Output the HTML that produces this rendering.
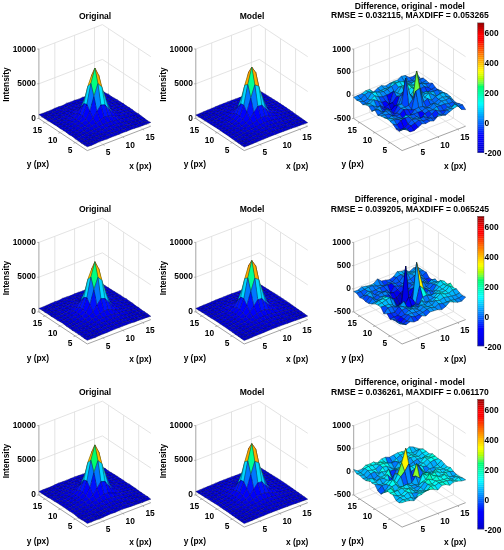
<!DOCTYPE html>
<html><head><meta charset="utf-8"><title>Figure</title>
<style>html,body{margin:0;padding:0;background:#fff;overflow:hidden}svg{display:block;filter:blur(0.3px)}</style>
</head><body>
<svg width="504" height="550" viewBox="0 0 504 550" font-family="'Liberation Sans', sans-serif" font-weight="bold" fill="#000">
<rect width="504" height="550" fill="#fff"/>
<g stroke="#dcdcdc" stroke-width="0.8">
<line x1="103.2" y1="144.5" x2="54.8" y2="112.4"/>
<line x1="54.8" y1="112.4" x2="54.8" y2="43"/>
<line x1="123" y1="136.9" x2="74.6" y2="104.8"/>
<line x1="74.6" y1="104.8" x2="74.6" y2="35.3"/>
<line x1="142.9" y1="129.2" x2="94.5" y2="97.2"/>
<line x1="94.5" y1="97.2" x2="94.5" y2="27.7"/>
<line x1="75.2" y1="142.6" x2="138.7" y2="118.2"/>
<line x1="138.7" y1="118.2" x2="138.7" y2="48.7"/>
<line x1="60.1" y1="132.5" x2="123.6" y2="108.1"/>
<line x1="123.6" y1="108.1" x2="123.6" y2="38.7"/>
<line x1="44.9" y1="122.5" x2="108.5" y2="98.1"/>
<line x1="108.5" y1="98.1" x2="108.5" y2="28.7"/>
<line x1="38.9" y1="118.5" x2="102.4" y2="94.1"/>
<line x1="102.4" y1="94.1" x2="150.8" y2="126.2"/>
<line x1="38.9" y1="83.8" x2="102.4" y2="59.4"/>
<line x1="102.4" y1="59.4" x2="150.8" y2="91.5"/>
<line x1="38.9" y1="49" x2="102.4" y2="24.6"/>
<line x1="102.4" y1="24.6" x2="150.8" y2="56.7"/>
</g>
<g stroke="#9a9a9a" stroke-width="0.9">
<line x1="38.9" y1="118.5" x2="38.9" y2="49"/>
<line x1="38.9" y1="118.5" x2="87.3" y2="150.6"/>
<line x1="87.3" y1="150.6" x2="150.8" y2="126.2"/>
<line x1="38.9" y1="118.5" x2="37.4" y2="118.5"/>
<line x1="38.9" y1="83.8" x2="37.4" y2="83.8"/>
<line x1="38.9" y1="49" x2="37.4" y2="49"/>
<line x1="75.2" y1="142.6" x2="73.6" y2="143.2"/>
<line x1="60.1" y1="132.5" x2="58.5" y2="133.1"/>
<line x1="44.9" y1="122.5" x2="43.3" y2="123.1"/>
<line x1="103.2" y1="144.5" x2="104.4" y2="145.5"/>
<line x1="123" y1="136.9" x2="124.2" y2="137.9"/>
<line x1="142.9" y1="129.2" x2="144.1" y2="130.2"/>
</g>
<text x="36" y="120.5" text-anchor="end" font-size="8.4">0</text>
<text x="36" y="85.8" text-anchor="end" font-size="8.4">5000</text>
<text x="36" y="51.8" text-anchor="end" font-size="8.4">10000</text>
<text x="72.4" y="152.9" text-anchor="end" font-size="8.4">5</text>
<text x="57.3" y="142.8" text-anchor="end" font-size="8.4">10</text>
<text x="42.1" y="132.8" text-anchor="end" font-size="8.4">15</text>
<text x="105.7" y="155.1" text-anchor="start" font-size="8.4">5</text>
<text x="125.5" y="147.5" text-anchor="start" font-size="8.4">10</text>
<text x="145.4" y="139.8" text-anchor="start" font-size="8.4">15</text>
<text x="37.9" y="167.1" text-anchor="middle" font-size="8.4">y (px)</text>
<text x="140.3" y="168.8" text-anchor="middle" font-size="8.4">x (px)</text>
<text transform="translate(8.7 84.6) rotate(-90)" text-anchor="middle" font-size="8.4">Intensity</text>
<text x="95.1" y="18.9" text-anchor="middle" font-size="8.55">Original</text>
<g stroke-width="0.42" stroke-linejoin="round">
<polygon points="101.5,93.8 105.4,93 102.4,90.4 98.4,91.8" fill="#0000d6" stroke="#000056"/>
<polygon points="97.5,95.2 101.5,93.8 98.4,91.8 94.5,93.6" fill="#0000d6" stroke="#000056"/>
<polygon points="104.5,95.8 108.5,94.2 105.4,93 101.5,93.8" fill="#0000d6" stroke="#000056"/>
<polygon points="93.5,96.6 97.5,95.2 94.5,93.6 90.5,94.7" fill="#0000d6" stroke="#000056"/>
<polygon points="100.5,97 104.5,95.8 101.5,93.8 97.5,95.2" fill="#0000d6" stroke="#000056"/>
<polygon points="107.5,97.3 111.5,96.6 108.5,94.2 104.5,95.8" fill="#0000d6" stroke="#000056"/>
<polygon points="89.6,97.9 93.5,96.6 90.5,94.7 86.5,96.2" fill="#0000d6" stroke="#000056"/>
<polygon points="96.5,98.4 100.5,97 97.5,95.2 93.5,96.6" fill="#0000d6" stroke="#000056"/>
<polygon points="103.5,98.6 107.5,97.3 104.5,95.8 100.5,97" fill="#0000d6" stroke="#000056"/>
<polygon points="110.5,99.4 114.5,98.3 111.5,96.6 107.5,97.3" fill="#0000d6" stroke="#000056"/>
<polygon points="85.6,99.2 89.6,97.9 86.5,96.2 82.6,97.3" fill="#0000d6" stroke="#000056"/>
<polygon points="92.6,99.5 96.5,98.4 93.5,96.6 89.6,97.9" fill="#0000df" stroke="#000059"/>
<polygon points="99.6,100.2 103.5,98.6 100.5,97 96.5,98.4" fill="#0000d6" stroke="#000056"/>
<polygon points="106.6,100.1 110.5,99.4 107.5,97.3 103.5,98.6" fill="#0000df" stroke="#000059"/>
<polygon points="81.6,100.6 85.6,99.2 82.6,97.3 78.6,99.2" fill="#0000d6" stroke="#000056"/>
<polygon points="113.6,101 117.5,99.9 114.5,98.3 110.5,99.4" fill="#0000df" stroke="#000059"/>
<polygon points="88.6,101.1 92.6,99.5 89.6,97.9 85.6,99.2" fill="#0000df" stroke="#000059"/>
<polygon points="95.6,101 99.6,100.2 96.5,98.4 92.6,99.5" fill="#0000df" stroke="#000059"/>
<polygon points="102.6,101.5 106.6,100.1 103.5,98.6 99.6,100.2" fill="#0000df" stroke="#000059"/>
<polygon points="77.6,102.4 81.6,100.6 78.6,99.2 74.6,100.3" fill="#0000d6" stroke="#000056"/>
<polygon points="109.6,102.3 113.6,101 110.5,99.4 106.6,100.1" fill="#0000df" stroke="#000059"/>
<polygon points="84.6,102.2 88.6,101.1 85.6,99.2 81.6,100.6" fill="#0000df" stroke="#000059"/>
<polygon points="116.6,103.3 120.6,102.1 117.5,99.9 113.6,101" fill="#0000d6" stroke="#000056"/>
<polygon points="91.6,102.3 95.6,101 92.6,99.5 88.6,101.1" fill="#0000df" stroke="#000059"/>
<polygon points="98.6,102.5 102.6,101.5 99.6,100.2 95.6,101" fill="#0000e7" stroke="#00005c"/>
<polygon points="73.7,103.6 77.6,102.4 74.6,100.3 70.7,102" fill="#0000df" stroke="#000059"/>
<polygon points="105.6,103.2 109.6,102.3 106.6,100.1 102.6,101.5" fill="#0000e7" stroke="#00005c"/>
<polygon points="80.7,103.3 84.6,102.2 81.6,100.6 77.6,102.4" fill="#0000e7" stroke="#00005c"/>
<polygon points="112.6,103.9 116.6,103.3 113.6,101 109.6,102.3" fill="#0000df" stroke="#000059"/>
<polygon points="87.7,103.4 91.6,102.3 88.6,101.1 84.6,102.2" fill="#0000e7" stroke="#00005c"/>
<polygon points="119.6,104.7 123.6,103.8 120.6,102.1 116.6,103.3" fill="#0000df" stroke="#000059"/>
<polygon points="94.7,103.5 98.6,102.5 95.6,101 91.6,102.3" fill="#0000e7" stroke="#00005c"/>
<polygon points="69.7,105.2 73.7,103.6 70.7,102 66.7,103.2" fill="#0000d6" stroke="#000056"/>
<polygon points="101.7,103.7 105.6,103.2 102.6,101.5 98.6,102.5" fill="#0000ee" stroke="#00005f"/>
<polygon points="76.7,104.7 80.7,103.3 77.6,102.4 73.7,103.6" fill="#0000e7" stroke="#00005c"/>
<polygon points="108.6,105.2 112.6,103.9 109.6,102.3 105.6,103.2" fill="#0000e7" stroke="#00005c"/>
<polygon points="83.7,104.8 87.7,103.4 84.6,102.2 80.7,103.3" fill="#0000e7" stroke="#00005c"/>
<polygon points="115.6,106.1 119.6,104.7 116.6,103.3 112.6,103.9" fill="#0000df" stroke="#000059"/>
<polygon points="90.7,104.4 94.7,103.5 91.6,102.3 87.7,103.4" fill="#0000ee" stroke="#00005f"/>
<polygon points="65.7,106.9 69.7,105.2 66.7,103.2 62.7,105.5" fill="#0000d6" stroke="#000056"/>
<polygon points="122.6,106.6 126.6,106 123.6,103.8 119.6,104.7" fill="#0000df" stroke="#000059"/>
<polygon points="97.7,104 101.7,103.7 98.6,102.5 94.7,103.5" fill="#0000f5" stroke="#000062"/>
<polygon points="72.7,106.8 76.7,104.7 73.7,103.6 69.7,105.2" fill="#0000df" stroke="#000059"/>
<polygon points="104.7,105.4 108.6,105.2 105.6,103.2 101.7,103.7" fill="#0000ee" stroke="#00005f"/>
<polygon points="79.7,106.1 83.7,104.8 80.7,103.3 76.7,104.7" fill="#0000e7" stroke="#00005c"/>
<polygon points="111.7,106.7 115.6,106.1 112.6,103.9 108.6,105.2" fill="#0000e7" stroke="#00005c"/>
<polygon points="86.7,105.3 90.7,104.4 87.7,103.4 83.7,104.8" fill="#0000f5" stroke="#000062"/>
<polygon points="61.8,108.7 65.7,106.9 62.7,105.5 58.7,106.8" fill="#0000d6" stroke="#000056"/>
<polygon points="118.7,107.8 122.6,106.6 119.6,104.7 115.6,106.1" fill="#0000df" stroke="#000059"/>
<polygon points="93.7,104.3 97.7,104 94.7,103.5 90.7,104.4" fill="#0000ff" stroke="#000066"/>
<polygon points="68.8,108.3 72.7,106.8 69.7,105.2 65.7,106.9" fill="#0000df" stroke="#000059"/>
<polygon points="125.7,109.1 129.6,107.8 126.6,106 122.6,106.6" fill="#0000d6" stroke="#000056"/>
<polygon points="100.7,105.2 104.7,105.4 101.7,103.7 97.7,104" fill="#0000fb" stroke="#000064"/>
<polygon points="75.8,107.8 79.7,106.1 76.7,104.7 72.7,106.8" fill="#0000e7" stroke="#00005c"/>
<polygon points="107.7,106.5 111.7,106.7 108.6,105.2 104.7,105.4" fill="#0000f5" stroke="#000062"/>
<polygon points="82.8,106.3 86.7,105.3 83.7,104.8 79.7,106.1" fill="#0000fb" stroke="#000064"/>
<polygon points="57.8,110.1 61.8,108.7 58.7,106.8 54.8,108.3" fill="#0000d6" stroke="#000056"/>
<polygon points="114.7,108.5 118.7,107.8 115.6,106.1 111.7,106.7" fill="#0000e7" stroke="#00005c"/>
<polygon points="89.7,103.7 93.7,104.3 90.7,104.4 86.7,105.3" fill="#0011ff" stroke="#000766"/>
<polygon points="64.8,110.1 68.8,108.3 65.7,106.9 61.8,108.7" fill="#0000df" stroke="#000059"/>
<polygon points="121.7,109.9 125.7,109.1 122.6,106.6 118.7,107.8" fill="#0000df" stroke="#000059"/>
<polygon points="96.7,102.3 100.7,105.2 97.7,104 93.7,104.3" fill="#0046ff" stroke="#001c66"/>
<polygon points="71.8,109.5 75.8,107.8 72.7,106.8 68.8,108.3" fill="#0000e7" stroke="#00005c"/>
<polygon points="128.7,111.1 132.7,109.9 129.6,107.8 125.7,109.1" fill="#0000d6" stroke="#000056"/>
<polygon points="103.7,105 107.7,106.5 104.7,105.4 100.7,105.2" fill="#0011ff" stroke="#000766"/>
<polygon points="78.8,108.1 82.8,106.3 79.7,106.1 75.8,107.8" fill="#0000f5" stroke="#000062"/>
<polygon points="53.8,112.1 57.8,110.1 54.8,108.3 50.8,110.2" fill="#0000cb" stroke="#000051"/>
<polygon points="110.7,108.6 114.7,108.5 111.7,106.7 107.7,106.5" fill="#0000f5" stroke="#000062"/>
<polygon points="85.8,103.9 89.7,103.7 86.7,105.3 82.8,106.3" fill="#0035ff" stroke="#001566"/>
<polygon points="60.8,111.8 64.8,110.1 61.8,108.7 57.8,110.1" fill="#0000d6" stroke="#000056"/>
<polygon points="117.7,110.7 121.7,109.9 118.7,107.8 114.7,108.5" fill="#0000e7" stroke="#00005c"/>
<polygon points="92.8,96.5 96.7,102.3 93.7,104.3 89.7,103.7" fill="#00c9ff" stroke="#005066"/>
<polygon points="67.8,111.4 71.8,109.5 68.8,108.3 64.8,110.1" fill="#0000e7" stroke="#00005c"/>
<polygon points="124.7,111.9 128.7,111.1 125.7,109.1 121.7,109.9" fill="#0000df" stroke="#000059"/>
<polygon points="99.8,97 103.7,105 100.7,105.2 96.7,102.3" fill="#00c9ff" stroke="#005066"/>
<polygon points="74.8,110.2 78.8,108.1 75.8,107.8 71.8,109.5" fill="#0000f5" stroke="#000062"/>
<polygon points="49.9,113.8 53.8,112.1 50.8,110.2 46.8,111.8" fill="#0000cb" stroke="#000051"/>
<polygon points="131.7,112.9 135.7,112.3 132.7,109.9 128.7,111.1" fill="#0000df" stroke="#000059"/>
<polygon points="106.8,105.2 110.7,108.6 107.7,106.5 103.7,105" fill="#0035ff" stroke="#001566"/>
<polygon points="81.8,106.2 85.8,103.9 82.8,106.3 78.8,108.1" fill="#0023ff" stroke="#000e66"/>
<polygon points="56.9,113.7 60.8,111.8 57.8,110.1 53.8,112.1" fill="#0000d6" stroke="#000056"/>
<polygon points="113.8,110.5 117.7,110.7 114.7,108.5 110.7,108.6" fill="#0000f5" stroke="#000062"/>
<polygon points="88.8,93.3 92.8,96.5 89.7,103.7 85.8,103.9" fill="#00ffd6" stroke="#006656"/>
<polygon points="63.8,113.4 67.8,111.4 64.8,110.1 60.8,111.8" fill="#0000df" stroke="#000059"/>
<polygon points="120.7,112.7 124.7,111.9 121.7,109.9 117.7,110.7" fill="#0000e7" stroke="#00005c"/>
<polygon points="95.8,82.5 99.8,97 96.7,102.3 92.8,96.5" fill="#fff700" stroke="#666300"/>
<polygon points="70.8,112.7 74.8,110.2 71.8,109.5 67.8,111.4" fill="#0000e7" stroke="#00005c"/>
<polygon points="45.9,115.4 49.9,113.8 46.8,111.8 42.9,113.3" fill="#0000cb" stroke="#000051"/>
<polygon points="127.7,114.3 131.7,112.9 128.7,111.1 124.7,111.9" fill="#0000df" stroke="#000059"/>
<polygon points="102.8,94.4 106.8,105.2 103.7,105 99.8,97" fill="#00ffd6" stroke="#006656"/>
<polygon points="77.8,110.3 81.8,106.2 78.8,108.1 74.8,110.2" fill="#0000ff" stroke="#000066"/>
<polygon points="52.9,115.5 56.9,113.7 53.8,112.1 49.9,113.8" fill="#0000d6" stroke="#000056"/>
<polygon points="134.7,115.7 138.7,113.9 135.7,112.3 131.7,112.9" fill="#0000d6" stroke="#000056"/>
<polygon points="109.8,108.3 113.8,110.5 110.7,108.6 106.8,105.2" fill="#0023ff" stroke="#000e66"/>
<polygon points="84.8,98.4 88.8,93.3 85.8,103.9 81.8,106.2" fill="#00e8ff" stroke="#005d66"/>
<polygon points="59.9,115.6 63.8,113.4 60.8,111.8 56.9,113.7" fill="#0000d6" stroke="#000056"/>
<polygon points="116.8,113.3 120.7,112.7 117.7,110.7 113.8,110.5" fill="#0000ee" stroke="#00005f"/>
<polygon points="91.8,74.9 95.8,82.5 92.8,96.5 88.8,93.3" fill="#ff5700" stroke="#662300"/>
<polygon points="66.9,114.8 70.8,112.7 67.8,111.4 63.8,113.4" fill="#0000e7" stroke="#00005c"/>
<polygon points="41.9,116.8 45.9,115.4 42.9,113.3 38.9,114.6" fill="#0000cb" stroke="#000051"/>
<polygon points="123.8,115.3 127.7,114.3 124.7,111.9 120.7,112.7" fill="#0000e7" stroke="#00005c"/>
<polygon points="98.8,75.6 102.8,94.4 99.8,97 95.8,82.5" fill="#ff5700" stroke="#662300"/>
<polygon points="73.9,113.6 77.8,110.3 74.8,110.2 70.8,112.7" fill="#0000f5" stroke="#000062"/>
<polygon points="48.9,117 52.9,115.5 49.9,113.8 45.9,115.4" fill="#0000d6" stroke="#000056"/>
<polygon points="130.8,116.5 134.7,115.7 131.7,112.9 127.7,114.3" fill="#0000df" stroke="#000059"/>
<polygon points="105.8,99.6 109.8,108.3 106.8,105.2 102.8,94.4" fill="#00e8ff" stroke="#005d66"/>
<polygon points="80.9,107.5 84.8,98.4 81.8,106.2 77.8,110.3" fill="#0057ff" stroke="#002366"/>
<polygon points="55.9,117.1 59.9,115.6 56.9,113.7 52.9,115.5" fill="#0000d6" stroke="#000056"/>
<polygon points="137.8,117.9 141.7,116.3 138.7,113.9 134.7,115.7" fill="#0000cb" stroke="#000051"/>
<polygon points="112.8,112.2 116.8,113.3 113.8,110.5 109.8,108.3" fill="#0000ff" stroke="#000066"/>
<polygon points="87.9,86.2 91.8,74.9 88.8,93.3 84.8,98.4" fill="#f4ff00" stroke="#626600"/>
<polygon points="62.9,117.1 66.9,114.8 63.8,113.4 59.9,115.6" fill="#0000df" stroke="#000059"/>
<polygon points="119.8,115.7 123.8,115.3 120.7,112.7 116.8,113.3" fill="#0000ee" stroke="#00005f"/>
<polygon points="94.9,68 98.8,75.6 95.8,82.5 91.8,74.9" fill="#c40000" stroke="#4f0000"/>
<polygon points="69.9,116.2 73.9,113.6 70.8,112.7 66.9,114.8" fill="#0000e7" stroke="#00005c"/>
<polygon points="44.9,118.7 48.9,117 45.9,115.4 41.9,116.8" fill="#0000cb" stroke="#000051"/>
<polygon points="126.8,117.6 130.8,116.5 127.7,114.3 123.8,115.3" fill="#0000df" stroke="#000059"/>
<polygon points="101.8,86.9 105.8,99.6 102.8,94.4 98.8,75.6" fill="#f4ff00" stroke="#626600"/>
<polygon points="76.9,113.8 80.9,107.5 77.8,110.3 73.9,113.6" fill="#0000ff" stroke="#000066"/>
<polygon points="51.9,119 55.9,117.1 52.9,115.5 48.9,117" fill="#0000d6" stroke="#000056"/>
<polygon points="133.8,119 137.8,117.9 134.7,115.7 130.8,116.5" fill="#0000d6" stroke="#000056"/>
<polygon points="108.8,109.4 112.8,112.2 109.8,108.3 105.8,99.6" fill="#0057ff" stroke="#002366"/>
<polygon points="83.9,103.6 87.9,86.2 84.8,98.4 80.9,107.5" fill="#00c9ff" stroke="#005066"/>
<polygon points="58.9,118.9 62.9,117.1 59.9,115.6 55.9,117.1" fill="#0000d6" stroke="#000056"/>
<polygon points="140.8,119.9 144.8,118.6 141.7,116.3 137.8,117.9" fill="#0000d6" stroke="#000056"/>
<polygon points="115.8,116.4 119.8,115.7 116.8,113.3 112.8,112.2" fill="#0000f5" stroke="#000062"/>
<polygon points="90.9,83.5 94.9,68 91.8,74.9 87.9,86.2" fill="#ffb900" stroke="#664a00"/>
<polygon points="65.9,118.8 69.9,116.2 66.9,114.8 62.9,117.1" fill="#0000df" stroke="#000059"/>
<polygon points="122.8,118.9 126.8,117.6 123.8,115.3 119.8,115.7" fill="#0000df" stroke="#000059"/>
<polygon points="97.9,83.7 101.8,86.9 98.8,75.6 94.9,68" fill="#ffa900" stroke="#664400"/>
<polygon points="72.9,117.8 76.9,113.8 73.9,113.6 69.9,116.2" fill="#0000ee" stroke="#00005f"/>
<polygon points="48,120.8 51.9,119 48.9,117 44.9,118.7" fill="#0000cb" stroke="#000051"/>
<polygon points="129.8,120.1 133.8,119 130.8,116.5 126.8,117.6" fill="#0000df" stroke="#000059"/>
<polygon points="104.9,104.8 108.8,109.4 105.8,99.6 101.8,86.9" fill="#00c9ff" stroke="#005066"/>
<polygon points="79.9,114.5 83.9,103.6 80.9,107.5 76.9,113.8" fill="#0002ff" stroke="#000166"/>
<polygon points="55,121.1 58.9,118.9 55.9,117.1 51.9,119" fill="#0000d6" stroke="#000056"/>
<polygon points="136.8,121.4 140.8,119.9 137.8,117.9 133.8,119" fill="#0000cb" stroke="#000051"/>
<polygon points="111.9,116.2 115.8,116.4 112.8,112.2 108.8,109.4" fill="#0000ff" stroke="#000066"/>
<polygon points="86.9,104.4 90.9,83.5 87.9,86.2 83.9,103.6" fill="#00d8ff" stroke="#005666"/>
<polygon points="62,120.4 65.9,118.8 62.9,117.1 58.9,118.9" fill="#0000df" stroke="#000059"/>
<polygon points="143.8,122.1 147.8,120.9 144.8,118.6 140.8,119.9" fill="#0000cb" stroke="#000051"/>
<polygon points="118.9,119.6 122.8,118.9 119.8,115.7 115.8,116.4" fill="#0000e7" stroke="#00005c"/>
<polygon points="93.9,96.6 97.9,83.7 94.9,68 90.9,83.5" fill="#00ff80" stroke="#006633"/>
<polygon points="69,120.3 72.9,117.8 69.9,116.2 65.9,118.8" fill="#0000e7" stroke="#00005c"/>
<polygon points="125.8,121.6 129.8,120.1 126.8,117.6 122.8,118.9" fill="#0000df" stroke="#000059"/>
<polygon points="100.9,105 104.9,104.8 101.8,86.9 97.9,83.7" fill="#00e8ff" stroke="#005d66"/>
<polygon points="76,119.3 79.9,114.5 76.9,113.8 72.9,117.8" fill="#0000ee" stroke="#00005f"/>
<polygon points="51,122.5 55,121.1 51.9,119 48,120.8" fill="#0000d6" stroke="#000056"/>
<polygon points="132.8,122.3 136.8,121.4 133.8,119 129.8,120.1" fill="#0000d6" stroke="#000056"/>
<polygon points="107.9,116.2 111.9,116.2 108.8,109.4 104.9,104.8" fill="#0011ff" stroke="#000766"/>
<polygon points="82.9,116 86.9,104.4 83.9,103.6 79.9,114.5" fill="#0011ff" stroke="#000766"/>
<polygon points="58,122.8 62,120.4 58.9,118.9 55,121.1" fill="#0000d6" stroke="#000056"/>
<polygon points="139.8,123.3 143.8,122.1 140.8,119.9 136.8,121.4" fill="#0000d6" stroke="#000056"/>
<polygon points="114.9,120.6 118.9,119.6 115.8,116.4 111.9,116.2" fill="#0000ee" stroke="#00005f"/>
<polygon points="89.9,111.3 93.9,96.6 90.9,83.5 86.9,104.4" fill="#0078ff" stroke="#003066"/>
<polygon points="65,122.3 69,120.3 65.9,118.8 62,120.4" fill="#0000df" stroke="#000059"/>
<polygon points="146.8,124.1 150.8,122.4 147.8,120.9 143.8,122.1" fill="#0000cb" stroke="#000051"/>
<polygon points="121.9,122.5 125.8,121.6 122.8,118.9 118.9,119.6" fill="#0000df" stroke="#000059"/>
<polygon points="96.9,111.5 100.9,105 97.9,83.7 93.9,96.6" fill="#0089ff" stroke="#003766"/>
<polygon points="72,121.8 76,119.3 72.9,117.8 69,120.3" fill="#0000e7" stroke="#00005c"/>
<polygon points="128.9,123.9 132.8,122.3 129.8,120.1 125.8,121.6" fill="#0000d6" stroke="#000056"/>
<polygon points="103.9,117.4 107.9,116.2 104.9,104.8 100.9,105" fill="#0011ff" stroke="#000766"/>
<polygon points="79,121.3 82.9,116 79.9,114.5 76,119.3" fill="#0000f5" stroke="#000062"/>
<polygon points="54,124.5 58,122.8 55,121.1 51,122.5" fill="#0000d6" stroke="#000056"/>
<polygon points="135.9,124.7 139.8,123.3 136.8,121.4 132.8,122.3" fill="#0000d6" stroke="#000056"/>
<polygon points="110.9,121.6 114.9,120.6 111.9,116.2 107.9,116.2" fill="#0000f5" stroke="#000062"/>
<polygon points="86,119.5 89.9,111.3 86.9,104.4 82.9,116" fill="#0000ff" stroke="#000066"/>
<polygon points="61,124.4 65,122.3 62,120.4 58,122.8" fill="#0000d6" stroke="#000056"/>
<polygon points="142.9,125.5 146.8,124.1 143.8,122.1 139.8,123.3" fill="#0000cb" stroke="#000051"/>
<polygon points="117.9,123.6 121.9,122.5 118.9,119.6 114.9,120.6" fill="#0000e7" stroke="#00005c"/>
<polygon points="93,118.2 96.9,111.5 93.9,96.6 89.9,111.3" fill="#0011ff" stroke="#000766"/>
<polygon points="68,124.4 72,121.8 69,120.3 65,122.3" fill="#0000df" stroke="#000059"/>
<polygon points="124.9,125.1 128.9,123.9 125.8,121.6 121.9,122.5" fill="#0000df" stroke="#000059"/>
<polygon points="100,120.3 103.9,117.4 100.9,105 96.9,111.5" fill="#0000ff" stroke="#000066"/>
<polygon points="75,124.1 79,121.3 76,119.3 72,121.8" fill="#0000e7" stroke="#00005c"/>
<polygon points="131.9,125.8 135.9,124.7 132.8,122.3 128.9,123.9" fill="#0000d6" stroke="#000056"/>
<polygon points="107,123.1 110.9,121.6 107.9,116.2 103.9,117.4" fill="#0000f5" stroke="#000062"/>
<polygon points="82,123.1 86,119.5 82.9,116 79,121.3" fill="#0000f5" stroke="#000062"/>
<polygon points="57,126.2 61,124.4 58,122.8 54,124.5" fill="#0000d6" stroke="#000056"/>
<polygon points="138.9,126.9 142.9,125.5 139.8,123.3 135.9,124.7" fill="#0000d6" stroke="#000056"/>
<polygon points="113.9,125 117.9,123.6 114.9,120.6 110.9,121.6" fill="#0000e7" stroke="#00005c"/>
<polygon points="89,123.1 93,118.2 89.9,111.3 86,119.5" fill="#0000f5" stroke="#000062"/>
<polygon points="64,126.4 68,124.4 65,122.3 61,124.4" fill="#0000d6" stroke="#000056"/>
<polygon points="120.9,126.4 124.9,125.1 121.9,122.5 117.9,123.6" fill="#0000df" stroke="#000059"/>
<polygon points="96,123.2 100,120.3 96.9,111.5 93,118.2" fill="#0000fb" stroke="#000064"/>
<polygon points="71,126.2 75,124.1 72,121.8 68,124.4" fill="#0000df" stroke="#000059"/>
<polygon points="127.9,127.2 131.9,125.8 128.9,123.9 124.9,125.1" fill="#0000d6" stroke="#000056"/>
<polygon points="103,124.9 107,123.1 103.9,117.4 100,120.3" fill="#0000ee" stroke="#00005f"/>
<polygon points="78,126 82,123.1 79,121.3 75,124.1" fill="#0000e7" stroke="#00005c"/>
<polygon points="134.9,128.2 138.9,126.9 135.9,124.7 131.9,125.8" fill="#0000d6" stroke="#000056"/>
<polygon points="110,126.4 113.9,125 110.9,121.6 107,123.1" fill="#0000e7" stroke="#00005c"/>
<polygon points="85,125.9 89,123.1 86,119.5 82,123.1" fill="#0000ee" stroke="#00005f"/>
<polygon points="60.1,128.5 64,126.4 61,124.4 57,126.2" fill="#0000d6" stroke="#000056"/>
<polygon points="117,127.3 120.9,126.4 117.9,123.6 113.9,125" fill="#0000e7" stroke="#00005c"/>
<polygon points="92,126.1 96,123.2 93,118.2 89,123.1" fill="#0000ee" stroke="#00005f"/>
<polygon points="67.1,128.4 71,126.2 68,124.4 64,126.4" fill="#0000d6" stroke="#000056"/>
<polygon points="124,128.9 127.9,127.2 124.9,125.1 120.9,126.4" fill="#0000d6" stroke="#000056"/>
<polygon points="99,126.8 103,124.9 100,120.3 96,123.2" fill="#0000ee" stroke="#00005f"/>
<polygon points="74.1,128.5 78,126 75,124.1 71,126.2" fill="#0000df" stroke="#000059"/>
<polygon points="131,129.5 134.9,128.2 131.9,125.8 127.9,127.2" fill="#0000d6" stroke="#000056"/>
<polygon points="106,128.1 110,126.4 107,123.1 103,124.9" fill="#0000e7" stroke="#00005c"/>
<polygon points="81.1,128 85,125.9 82,123.1 78,126" fill="#0000e7" stroke="#00005c"/>
<polygon points="113,129.5 117,127.3 113.9,125 110,126.4" fill="#0000df" stroke="#000059"/>
<polygon points="88,128.3 92,126.1 89,123.1 85,125.9" fill="#0000e7" stroke="#00005c"/>
<polygon points="63.1,130.2 67.1,128.4 64,126.4 60.1,128.5" fill="#0000d6" stroke="#000056"/>
<polygon points="120,130.3 124,128.9 120.9,126.4 117,127.3" fill="#0000d6" stroke="#000056"/>
<polygon points="95,129.2 99,126.8 96,123.2 92,126.1" fill="#0000e7" stroke="#00005c"/>
<polygon points="70.1,130.4 74.1,128.5 71,126.2 67.1,128.4" fill="#0000df" stroke="#000059"/>
<polygon points="127,131.2 131,129.5 127.9,127.2 124,128.9" fill="#0000d6" stroke="#000056"/>
<polygon points="102,129.7 106,128.1 103,124.9 99,126.8" fill="#0000e7" stroke="#00005c"/>
<polygon points="77.1,130.7 81.1,128 78,126 74.1,128.5" fill="#0000df" stroke="#000059"/>
<polygon points="109,131 113,129.5 110,126.4 106,128.1" fill="#0000df" stroke="#000059"/>
<polygon points="84.1,130.9 88,128.3 85,125.9 81.1,128" fill="#0000df" stroke="#000059"/>
<polygon points="116,132 120,130.3 117,127.3 113,129.5" fill="#0000d6" stroke="#000056"/>
<polygon points="91.1,130.8 95,129.2 92,126.1 88,128.3" fill="#0000e7" stroke="#00005c"/>
<polygon points="66.1,132.2 70.1,130.4 67.1,128.4 63.1,130.2" fill="#0000d6" stroke="#000056"/>
<polygon points="123,132.6 127,131.2 124,128.9 120,130.3" fill="#0000d6" stroke="#000056"/>
<polygon points="98.1,131.6 102,129.7 99,126.8 95,129.2" fill="#0000df" stroke="#000059"/>
<polygon points="73.1,132.4 77.1,130.7 74.1,128.5 70.1,130.4" fill="#0000df" stroke="#000059"/>
<polygon points="105.1,132.6 109,131 106,128.1 102,129.7" fill="#0000df" stroke="#000059"/>
<polygon points="80.1,132.8 84.1,130.9 81.1,128 77.1,130.7" fill="#0000df" stroke="#000059"/>
<polygon points="112.1,132.9 116,132 113,129.5 109,131" fill="#0000df" stroke="#000059"/>
<polygon points="87.1,133 91.1,130.8 88,128.3 84.1,130.9" fill="#0000df" stroke="#000059"/>
<polygon points="119.1,134.2 123,132.6 120,130.3 116,132" fill="#0000d6" stroke="#000056"/>
<polygon points="94.1,133.5 98.1,131.6 95,129.2 91.1,130.8" fill="#0000df" stroke="#000059"/>
<polygon points="69.2,134.7 73.1,132.4 70.1,130.4 66.1,132.2" fill="#0000d6" stroke="#000056"/>
<polygon points="101.1,134.2 105.1,132.6 102,129.7 98.1,131.6" fill="#0000df" stroke="#000059"/>
<polygon points="76.1,134.5 80.1,132.8 77.1,130.7 73.1,132.4" fill="#0000d6" stroke="#000056"/>
<polygon points="108.1,135.1 112.1,132.9 109,131 105.1,132.6" fill="#0000d6" stroke="#000056"/>
<polygon points="83.1,134.9 87.1,133 84.1,130.9 80.1,132.8" fill="#0000d6" stroke="#000056"/>
<polygon points="115.1,135.8 119.1,134.2 116,132 112.1,132.9" fill="#0000d6" stroke="#000056"/>
<polygon points="90.1,135.4 94.1,133.5 91.1,130.8 87.1,133" fill="#0000d6" stroke="#000056"/>
<polygon points="97.1,136 101.1,134.2 98.1,131.6 94.1,133.5" fill="#0000d6" stroke="#000056"/>
<polygon points="72.2,136.2 76.1,134.5 73.1,132.4 69.2,134.7" fill="#0000d6" stroke="#000056"/>
<polygon points="104.1,136.5 108.1,135.1 105.1,132.6 101.1,134.2" fill="#0000d6" stroke="#000056"/>
<polygon points="79.2,136.9 83.1,134.9 80.1,132.8 76.1,134.5" fill="#0000d6" stroke="#000056"/>
<polygon points="111.1,137.2 115.1,135.8 112.1,132.9 108.1,135.1" fill="#0000d6" stroke="#000056"/>
<polygon points="86.2,137.5 90.1,135.4 87.1,133 83.1,134.9" fill="#0000d6" stroke="#000056"/>
<polygon points="93.2,137.5 97.1,136 94.1,133.5 90.1,135.4" fill="#0000d6" stroke="#000056"/>
<polygon points="100.2,138.2 104.1,136.5 101.1,134.2 97.1,136" fill="#0000d6" stroke="#000056"/>
<polygon points="75.2,138.8 79.2,136.9 76.1,134.5 72.2,136.2" fill="#0000cb" stroke="#000051"/>
<polygon points="107.1,139.1 111.1,137.2 108.1,135.1 104.1,136.5" fill="#0000d6" stroke="#000056"/>
<polygon points="82.2,139.1 86.2,137.5 83.1,134.9 79.2,136.9" fill="#0000d6" stroke="#000056"/>
<polygon points="89.2,139.3 93.2,137.5 90.1,135.4 86.2,137.5" fill="#0000d6" stroke="#000056"/>
<polygon points="96.2,140.5 100.2,138.2 97.1,136 93.2,137.5" fill="#0000cb" stroke="#000051"/>
<polygon points="103.2,140.3 107.1,139.1 104.1,136.5 100.2,138.2" fill="#0000d6" stroke="#000056"/>
<polygon points="78.2,140.7 82.2,139.1 79.2,136.9 75.2,138.8" fill="#0000d6" stroke="#000056"/>
<polygon points="85.2,141.2 89.2,139.3 86.2,137.5 82.2,139.1" fill="#0000d6" stroke="#000056"/>
<polygon points="92.2,141.8 96.2,140.5 93.2,137.5 89.2,139.3" fill="#0000cb" stroke="#000051"/>
<polygon points="99.2,141.8 103.2,140.3 100.2,138.2 96.2,140.5" fill="#0000d6" stroke="#000056"/>
<polygon points="81.2,143 85.2,141.2 82.2,139.1 78.2,140.7" fill="#0000cb" stroke="#000051"/>
<polygon points="88.2,143.3 92.2,141.8 89.2,139.3 85.2,141.2" fill="#0000cb" stroke="#000051"/>
<polygon points="95.2,143.7 99.2,141.8 96.2,140.5 92.2,141.8" fill="#0000d6" stroke="#000056"/>
<polygon points="84.3,145 88.2,143.3 85.2,141.2 81.2,143" fill="#0000cb" stroke="#000051"/>
<polygon points="91.3,145.4 95.2,143.7 92.2,141.8 88.2,143.3" fill="#0000cb" stroke="#000051"/>
<polygon points="87.3,146.8 91.3,145.4 88.2,143.3 84.3,145" fill="#0000cb" stroke="#000051"/>
</g>
<g stroke="#dcdcdc" stroke-width="0.8">
<line x1="260.1" y1="144.5" x2="211.7" y2="112.4"/>
<line x1="211.7" y1="112.4" x2="211.7" y2="43"/>
<line x1="279.9" y1="136.9" x2="231.5" y2="104.8"/>
<line x1="231.5" y1="104.8" x2="231.5" y2="35.3"/>
<line x1="299.8" y1="129.2" x2="251.4" y2="97.2"/>
<line x1="251.4" y1="97.2" x2="251.4" y2="27.7"/>
<line x1="232.1" y1="142.6" x2="295.6" y2="118.2"/>
<line x1="295.6" y1="118.2" x2="295.6" y2="48.7"/>
<line x1="217" y1="132.5" x2="280.5" y2="108.1"/>
<line x1="280.5" y1="108.1" x2="280.5" y2="38.7"/>
<line x1="201.9" y1="122.5" x2="265.4" y2="98.1"/>
<line x1="265.4" y1="98.1" x2="265.4" y2="28.7"/>
<line x1="195.8" y1="118.5" x2="259.3" y2="94.1"/>
<line x1="259.3" y1="94.1" x2="307.7" y2="126.2"/>
<line x1="195.8" y1="83.8" x2="259.3" y2="59.4"/>
<line x1="259.3" y1="59.4" x2="307.7" y2="91.5"/>
<line x1="195.8" y1="49" x2="259.3" y2="24.6"/>
<line x1="259.3" y1="24.6" x2="307.7" y2="56.7"/>
</g>
<g stroke="#9a9a9a" stroke-width="0.9">
<line x1="195.8" y1="118.5" x2="195.8" y2="49"/>
<line x1="195.8" y1="118.5" x2="244.2" y2="150.6"/>
<line x1="244.2" y1="150.6" x2="307.7" y2="126.2"/>
<line x1="195.8" y1="118.5" x2="194.3" y2="118.5"/>
<line x1="195.8" y1="83.8" x2="194.3" y2="83.8"/>
<line x1="195.8" y1="49" x2="194.3" y2="49"/>
<line x1="232.1" y1="142.6" x2="230.5" y2="143.2"/>
<line x1="217" y1="132.5" x2="215.4" y2="133.1"/>
<line x1="201.9" y1="122.5" x2="200.3" y2="123.1"/>
<line x1="260.1" y1="144.5" x2="261.3" y2="145.5"/>
<line x1="279.9" y1="136.9" x2="281.1" y2="137.9"/>
<line x1="299.8" y1="129.2" x2="301" y2="130.2"/>
</g>
<text x="192.9" y="120.5" text-anchor="end" font-size="8.4">0</text>
<text x="192.9" y="85.8" text-anchor="end" font-size="8.4">5000</text>
<text x="192.9" y="51.8" text-anchor="end" font-size="8.4">10000</text>
<text x="229.3" y="152.9" text-anchor="end" font-size="8.4">5</text>
<text x="214.2" y="142.8" text-anchor="end" font-size="8.4">10</text>
<text x="199.1" y="132.8" text-anchor="end" font-size="8.4">15</text>
<text x="262.6" y="155.1" text-anchor="start" font-size="8.4">5</text>
<text x="282.4" y="147.5" text-anchor="start" font-size="8.4">10</text>
<text x="302.3" y="139.8" text-anchor="start" font-size="8.4">15</text>
<text x="194.8" y="167.1" text-anchor="middle" font-size="8.4">y (px)</text>
<text x="297.2" y="168.8" text-anchor="middle" font-size="8.4">x (px)</text>
<text transform="translate(165.6 84.6) rotate(-90)" text-anchor="middle" font-size="8.4">Intensity</text>
<text x="252" y="18.9" text-anchor="middle" font-size="8.55">Model</text>
<g stroke-width="0.42" stroke-linejoin="round">
<polygon points="258.4,93.8 262.3,92.4 259.3,90.5 255.3,92" fill="#0000d6" stroke="#000056"/>
<polygon points="254.4,95.2 258.4,93.8 255.3,92 251.4,93.4" fill="#0000d6" stroke="#000056"/>
<polygon points="261.4,95.7 265.4,94.3 262.3,92.4 258.4,93.8" fill="#0000d6" stroke="#000056"/>
<polygon points="250.4,96.5 254.4,95.2 251.4,93.4 247.4,94.8" fill="#0000d6" stroke="#000056"/>
<polygon points="257.4,96.9 261.4,95.7 258.4,93.8 254.4,95.2" fill="#0000d6" stroke="#000056"/>
<polygon points="264.4,97.5 268.4,96.2 265.4,94.3 261.4,95.7" fill="#0000d6" stroke="#000056"/>
<polygon points="246.5,97.8 250.4,96.5 247.4,94.8 243.4,96.1" fill="#0000d6" stroke="#000056"/>
<polygon points="253.4,98.2 257.4,96.9 254.4,95.2 250.4,96.5" fill="#0000d6" stroke="#000056"/>
<polygon points="260.4,98.7 264.4,97.5 261.4,95.7 257.4,96.9" fill="#0000d6" stroke="#000056"/>
<polygon points="267.4,99.3 271.4,98.1 268.4,96.2 264.4,97.5" fill="#0000d6" stroke="#000056"/>
<polygon points="242.5,99.2 246.5,97.8 243.4,96.1 239.5,97.5" fill="#0000d6" stroke="#000056"/>
<polygon points="249.5,99.4 253.4,98.2 250.4,96.5 246.5,97.8" fill="#0000df" stroke="#000059"/>
<polygon points="256.5,99.8 260.4,98.7 257.4,96.9 253.4,98.2" fill="#0000df" stroke="#000059"/>
<polygon points="263.5,100.4 267.4,99.3 264.4,97.5 260.4,98.7" fill="#0000df" stroke="#000059"/>
<polygon points="238.5,100.5 242.5,99.2 239.5,97.5 235.5,99" fill="#0000df" stroke="#000059"/>
<polygon points="270.5,101.1 274.4,99.9 271.4,98.1 267.4,99.3" fill="#0000d6" stroke="#000056"/>
<polygon points="245.5,100.7 249.5,99.4 246.5,97.8 242.5,99.2" fill="#0000df" stroke="#000059"/>
<polygon points="252.5,100.9 256.5,99.8 253.4,98.2 249.5,99.4" fill="#0000df" stroke="#000059"/>
<polygon points="259.5,101.4 263.5,100.4 260.4,98.7 256.5,99.8" fill="#0000df" stroke="#000059"/>
<polygon points="234.5,101.9 238.5,100.5 235.5,99 231.5,100.4" fill="#0000df" stroke="#000059"/>
<polygon points="266.5,102.1 270.5,101.1 267.4,99.3 263.5,100.4" fill="#0000df" stroke="#000059"/>
<polygon points="241.5,101.9 245.5,100.7 242.5,99.2 238.5,100.5" fill="#0000df" stroke="#000059"/>
<polygon points="273.5,102.9 277.4,101.8 274.4,99.9 270.5,101.1" fill="#0000df" stroke="#000059"/>
<polygon points="248.5,102 252.5,100.9 249.5,99.4 245.5,100.7" fill="#0000e7" stroke="#00005c"/>
<polygon points="255.5,102.3 259.5,101.4 256.5,99.8 252.5,100.9" fill="#0000e7" stroke="#00005c"/>
<polygon points="230.6,103.4 234.5,101.9 231.5,100.4 227.6,101.9" fill="#0000df" stroke="#000059"/>
<polygon points="262.5,103 266.5,102.1 263.5,100.4 259.5,101.4" fill="#0000e7" stroke="#00005c"/>
<polygon points="237.6,103.3 241.5,101.9 238.5,100.5 234.5,101.9" fill="#0000e7" stroke="#00005c"/>
<polygon points="269.5,103.9 273.5,102.9 270.5,101.1 266.5,102.1" fill="#0000df" stroke="#000059"/>
<polygon points="244.6,103.1 248.5,102 245.5,100.7 241.5,101.9" fill="#0000e7" stroke="#00005c"/>
<polygon points="276.5,104.8 280.5,103.8 277.4,101.8 273.5,102.9" fill="#0000df" stroke="#000059"/>
<polygon points="251.6,103.1 255.5,102.3 252.5,100.9 248.5,102" fill="#0000ee" stroke="#00005f"/>
<polygon points="226.6,105 230.6,103.4 227.6,101.9 223.6,103.5" fill="#0000df" stroke="#000059"/>
<polygon points="258.6,103.6 262.5,103 259.5,101.4 255.5,102.3" fill="#0000ee" stroke="#00005f"/>
<polygon points="233.6,104.8 237.6,103.3 234.5,101.9 230.6,103.4" fill="#0000e7" stroke="#00005c"/>
<polygon points="265.5,104.6 269.5,103.9 266.5,102.1 262.5,103" fill="#0000e7" stroke="#00005c"/>
<polygon points="240.6,104.3 244.6,103.1 241.5,101.9 237.6,103.3" fill="#0000ee" stroke="#00005f"/>
<polygon points="272.5,105.7 276.5,104.8 273.5,102.9 269.5,103.9" fill="#0000e7" stroke="#00005c"/>
<polygon points="247.6,103.9 251.6,103.1 248.5,102 244.6,103.1" fill="#0000f5" stroke="#000062"/>
<polygon points="222.6,106.7 226.6,105 223.6,103.5 219.6,105.1" fill="#0000df" stroke="#000059"/>
<polygon points="279.5,106.8 283.5,105.8 280.5,103.8 276.5,104.8" fill="#0000df" stroke="#000059"/>
<polygon points="254.6,104 258.6,103.6 255.5,102.3 251.6,103.1" fill="#0000f5" stroke="#000062"/>
<polygon points="229.6,106.4 233.6,104.8 230.6,103.4 226.6,105" fill="#0000e7" stroke="#00005c"/>
<polygon points="261.6,104.9 265.5,104.6 262.5,103 258.6,103.6" fill="#0000f5" stroke="#000062"/>
<polygon points="236.6,105.8 240.6,104.3 237.6,103.3 233.6,104.8" fill="#0000ee" stroke="#00005f"/>
<polygon points="268.6,106.3 272.5,105.7 269.5,103.9 265.5,104.6" fill="#0000ee" stroke="#00005f"/>
<polygon points="243.6,104.8 247.6,103.9 244.6,103.1 240.6,104.3" fill="#0000fb" stroke="#000064"/>
<polygon points="218.7,108.4 222.6,106.7 219.6,105.1 215.6,106.7" fill="#0000d6" stroke="#000056"/>
<polygon points="275.6,107.7 279.5,106.8 276.5,104.8 272.5,105.7" fill="#0000e7" stroke="#00005c"/>
<polygon points="250.6,103.7 254.6,104 251.6,103.1 247.6,103.9" fill="#0002ff" stroke="#000166"/>
<polygon points="225.7,108.1 229.6,106.4 226.6,105 222.6,106.7" fill="#0000df" stroke="#000059"/>
<polygon points="282.6,108.9 286.5,107.8 283.5,105.8 279.5,106.8" fill="#0000df" stroke="#000059"/>
<polygon points="257.6,104.2 261.6,104.9 258.6,103.6 254.6,104" fill="#0002ff" stroke="#000166"/>
<polygon points="232.7,107.5 236.6,105.8 233.6,104.8 229.6,106.4" fill="#0000ee" stroke="#00005f"/>
<polygon points="264.6,106.2 268.6,106.3 265.5,104.6 261.6,104.9" fill="#0000fb" stroke="#000064"/>
<polygon points="239.7,106 243.6,104.8 240.6,104.3 236.6,105.8" fill="#0000fb" stroke="#000064"/>
<polygon points="214.7,110.1 218.7,108.4 215.6,106.7 211.7,108.4" fill="#0000d6" stroke="#000056"/>
<polygon points="271.6,108.2 275.6,107.7 272.5,105.7 268.6,106.3" fill="#0000ee" stroke="#00005f"/>
<polygon points="246.6,102.8 250.6,103.7 247.6,103.9 243.6,104.8" fill="#0035ff" stroke="#001566"/>
<polygon points="221.7,109.9 225.7,108.1 222.6,106.7 218.7,108.4" fill="#0000df" stroke="#000059"/>
<polygon points="278.6,109.8 282.6,108.9 279.5,106.8 275.6,107.7" fill="#0000e7" stroke="#00005c"/>
<polygon points="253.6,100.6 257.6,104.2 254.6,104 250.6,103.7" fill="#0068ff" stroke="#002a66"/>
<polygon points="228.7,109.3 232.7,107.5 229.6,106.4 225.7,108.1" fill="#0000e7" stroke="#00005c"/>
<polygon points="285.6,111 289.6,109.9 286.5,107.8 282.6,108.9" fill="#0000df" stroke="#000059"/>
<polygon points="260.6,103.7 264.6,106.2 261.6,104.9 257.6,104.2" fill="#0035ff" stroke="#001566"/>
<polygon points="235.7,107.8 239.7,106 236.6,105.8 232.7,107.5" fill="#0000fb" stroke="#000064"/>
<polygon points="210.7,111.8 214.7,110.1 211.7,108.4 207.7,110.1" fill="#0000d6" stroke="#000056"/>
<polygon points="267.6,107.9 271.6,108.2 268.6,106.3 264.6,106.2" fill="#0000fb" stroke="#000064"/>
<polygon points="242.7,102.8 246.6,102.8 243.6,104.8 239.7,106" fill="#0057ff" stroke="#002366"/>
<polygon points="217.7,111.7 221.7,109.9 218.7,108.4 214.7,110.1" fill="#0000df" stroke="#000059"/>
<polygon points="274.6,110.4 278.6,109.8 275.6,107.7 271.6,108.2" fill="#0000ee" stroke="#00005f"/>
<polygon points="249.7,93.8 253.6,100.6 250.6,103.7 246.6,102.8" fill="#00fff7" stroke="#006663"/>
<polygon points="224.7,111.3 228.7,109.3 225.7,108.1 221.7,109.9" fill="#0000e7" stroke="#00005c"/>
<polygon points="281.6,112 285.6,111 282.6,108.9 278.6,109.8" fill="#0000df" stroke="#000059"/>
<polygon points="256.7,94.3 260.6,103.7 257.6,104.2 253.6,100.6" fill="#00fff7" stroke="#006663"/>
<polygon points="231.7,110.2 235.7,107.8 232.7,107.5 228.7,109.3" fill="#0000f5" stroke="#000062"/>
<polygon points="206.8,113.5 210.7,111.8 207.7,110.1 203.7,111.7" fill="#0000d6" stroke="#000056"/>
<polygon points="288.6,113.2 292.6,112 289.6,109.9 285.6,111" fill="#0000d6" stroke="#000056"/>
<polygon points="263.7,104.2 267.6,107.9 264.6,106.2 260.6,103.7" fill="#0057ff" stroke="#002366"/>
<polygon points="238.7,105.5 242.7,102.8 239.7,106 235.7,107.8" fill="#0035ff" stroke="#001566"/>
<polygon points="213.8,113.6 217.7,111.7 214.7,110.1 210.7,111.8" fill="#0000d6" stroke="#000056"/>
<polygon points="270.7,110.2 274.6,110.4 271.6,108.2 267.6,107.9" fill="#0000fb" stroke="#000064"/>
<polygon points="245.7,90.6 249.7,93.8 246.6,102.8 242.7,102.8" fill="#00ff92" stroke="#00663a"/>
<polygon points="220.8,113.3 224.7,111.3 221.7,109.9 217.7,111.7" fill="#0000df" stroke="#000059"/>
<polygon points="277.6,112.7 281.6,112 278.6,109.8 274.6,110.4" fill="#0000e7" stroke="#00005c"/>
<polygon points="252.7,78.4 256.7,94.3 253.6,100.6 249.7,93.8" fill="#ff9900" stroke="#663d00"/>
<polygon points="227.7,112.5 231.7,110.2 228.7,109.3 224.7,111.3" fill="#0000ee" stroke="#00005f"/>
<polygon points="202.8,115.2 206.8,113.5 203.7,111.7 199.8,113.4" fill="#0000cb" stroke="#000051"/>
<polygon points="284.6,114.3 288.6,113.2 285.6,111 281.6,112" fill="#0000df" stroke="#000059"/>
<polygon points="259.7,91.6 263.7,104.2 260.6,103.7 256.7,94.3" fill="#00ff92" stroke="#00663a"/>
<polygon points="234.7,109.8 238.7,105.5 235.7,107.8 231.7,110.2" fill="#0002ff" stroke="#000166"/>
<polygon points="209.8,115.3 213.8,113.6 210.7,111.8 206.8,113.5" fill="#0000d6" stroke="#000056"/>
<polygon points="291.6,115.4 295.6,114.2 292.6,112 288.6,113.2" fill="#0000d6" stroke="#000056"/>
<polygon points="266.7,107.4 270.7,110.2 267.6,107.9 263.7,104.2" fill="#0035ff" stroke="#001566"/>
<polygon points="241.7,96.9 245.7,90.6 242.7,102.8 238.7,105.5" fill="#00fff7" stroke="#006663"/>
<polygon points="216.8,115.2 220.8,113.3 217.7,111.7 213.8,113.6" fill="#0000df" stroke="#000059"/>
<polygon points="273.7,113 277.6,112.7 274.6,110.4 270.7,110.2" fill="#0000f5" stroke="#000062"/>
<polygon points="248.7,72 252.7,78.4 249.7,93.8 245.7,90.6" fill="#ff0000" stroke="#660000"/>
<polygon points="223.8,114.8 227.7,112.5 224.7,111.3 220.8,113.3" fill="#0000e7" stroke="#00005c"/>
<polygon points="198.8,116.9 202.8,115.2 199.8,113.4 195.8,115" fill="#0000cb" stroke="#000051"/>
<polygon points="280.7,115.2 284.6,114.3 281.6,112 277.6,112.7" fill="#0000e7" stroke="#00005c"/>
<polygon points="255.7,72.5 259.7,91.6 256.7,94.3 252.7,78.4" fill="#ff0000" stroke="#660000"/>
<polygon points="230.8,113.4 234.7,109.8 231.7,110.2 227.7,112.5" fill="#0000f5" stroke="#000062"/>
<polygon points="205.8,117.1 209.8,115.3 206.8,113.5 202.8,115.2" fill="#0000d6" stroke="#000056"/>
<polygon points="287.7,116.6 291.6,115.4 288.6,113.2 284.6,114.3" fill="#0000df" stroke="#000059"/>
<polygon points="262.7,98.4 266.7,107.4 263.7,104.2 259.7,91.6" fill="#00fff7" stroke="#006663"/>
<polygon points="237.8,107 241.7,96.9 238.7,105.5 234.7,109.8" fill="#0068ff" stroke="#002a66"/>
<polygon points="212.8,117.1 216.8,115.2 213.8,113.6 209.8,115.3" fill="#0000d6" stroke="#000056"/>
<polygon points="294.7,117.6 298.6,116.3 295.6,114.2 291.6,115.4" fill="#0000d6" stroke="#000056"/>
<polygon points="269.7,112.2 273.7,113 270.7,110.2 266.7,107.4" fill="#0002ff" stroke="#000166"/>
<polygon points="244.8,85.2 248.7,72 245.7,90.6 241.7,96.9" fill="#ffe800" stroke="#665d00"/>
<polygon points="219.8,116.9 223.8,114.8 220.8,113.3 216.8,115.2" fill="#0000df" stroke="#000059"/>
<polygon points="276.7,115.9 280.7,115.2 277.6,112.7 273.7,113" fill="#0000ee" stroke="#00005f"/>
<polygon points="251.8,67.1 255.7,72.5 252.7,78.4 248.7,72" fill="#9f0000" stroke="#400000"/>
<polygon points="226.8,116.2 230.8,113.4 227.7,112.5 223.8,114.8" fill="#0000ee" stroke="#00005f"/>
<polygon points="201.9,118.8 205.8,117.1 202.8,115.2 198.8,116.9" fill="#0000cb" stroke="#000051"/>
<polygon points="283.7,117.6 287.7,116.6 284.6,114.3 280.7,115.2" fill="#0000df" stroke="#000059"/>
<polygon points="258.7,86.2 262.7,98.4 259.7,91.6 255.7,72.5" fill="#ffe800" stroke="#665d00"/>
<polygon points="233.8,113.8 237.8,107 234.7,109.8 230.8,113.4" fill="#0000ff" stroke="#000066"/>
<polygon points="208.8,118.9 212.8,117.1 209.8,115.3 205.8,117.1" fill="#0000d6" stroke="#000056"/>
<polygon points="290.7,118.9 294.7,117.6 291.6,115.4 287.7,116.6" fill="#0000d6" stroke="#000056"/>
<polygon points="265.7,108.9 269.7,112.2 266.7,107.4 262.7,98.4" fill="#0068ff" stroke="#002a66"/>
<polygon points="240.8,103.7 244.8,85.2 241.7,96.9 237.8,107" fill="#00c9ff" stroke="#005066"/>
<polygon points="215.8,118.9 219.8,116.9 216.8,115.2 212.8,117.1" fill="#0000df" stroke="#000059"/>
<polygon points="297.7,119.8 301.7,118.4 298.6,116.3 294.7,117.6" fill="#0000d6" stroke="#000056"/>
<polygon points="272.7,116.3 276.7,115.9 273.7,113 269.7,112.2" fill="#0000f5" stroke="#000062"/>
<polygon points="247.8,84.5 251.8,67.1 248.7,72 244.8,85.2" fill="#ffa900" stroke="#664400"/>
<polygon points="222.8,118.5 226.8,116.2 223.8,114.8 219.8,116.9" fill="#0000e7" stroke="#00005c"/>
<polygon points="279.7,118.6 283.7,117.6 280.7,115.2 276.7,115.9" fill="#0000e7" stroke="#00005c"/>
<polygon points="254.8,84.9 258.7,86.2 255.7,72.5 251.8,67.1" fill="#ffa900" stroke="#664400"/>
<polygon points="229.8,117.5 233.8,113.8 230.8,113.4 226.8,116.2" fill="#0000ee" stroke="#00005f"/>
<polygon points="204.9,120.7 208.8,118.9 205.8,117.1 201.9,118.8" fill="#0000d6" stroke="#000056"/>
<polygon points="286.7,120 290.7,118.9 287.7,116.6 283.7,117.6" fill="#0000df" stroke="#000059"/>
<polygon points="261.8,105.2 265.7,108.9 262.7,98.4 258.7,86.2" fill="#00c9ff" stroke="#005066"/>
<polygon points="236.8,114.4 240.8,103.7 237.8,107 233.8,113.8" fill="#0011ff" stroke="#000766"/>
<polygon points="211.9,120.8 215.8,118.9 212.8,117.1 208.8,118.9" fill="#0000d6" stroke="#000056"/>
<polygon points="293.7,121.1 297.7,119.8 294.7,117.6 290.7,118.9" fill="#0000d6" stroke="#000056"/>
<polygon points="268.8,116.2 272.7,116.3 269.7,112.2 265.7,108.9" fill="#0000ff" stroke="#000066"/>
<polygon points="243.8,105.3 247.8,84.5 244.8,85.2 240.8,103.7" fill="#00d8ff" stroke="#005666"/>
<polygon points="218.9,120.6 222.8,118.5 219.8,116.9 215.8,118.9" fill="#0000df" stroke="#000059"/>
<polygon points="300.7,122 304.7,120.6 301.7,118.4 297.7,119.8" fill="#0000cb" stroke="#000051"/>
<polygon points="275.8,119.5 279.7,118.6 276.7,115.9 272.7,116.3" fill="#0000ee" stroke="#00005f"/>
<polygon points="250.8,98.1 254.8,84.9 251.8,67.1 247.8,84.5" fill="#00ff92" stroke="#00663a"/>
<polygon points="225.9,120.2 229.8,117.5 226.8,116.2 222.8,118.5" fill="#0000e7" stroke="#00005c"/>
<polygon points="282.8,121.2 286.7,120 283.7,117.6 279.7,118.6" fill="#0000df" stroke="#000059"/>
<polygon points="257.8,106.3 261.8,105.2 258.7,86.2 254.8,84.9" fill="#00d8ff" stroke="#005666"/>
<polygon points="232.9,119.1 236.8,114.4 233.8,113.8 229.8,117.5" fill="#0000f5" stroke="#000062"/>
<polygon points="207.9,122.6 211.9,120.8 208.8,118.9 204.9,120.7" fill="#0000d6" stroke="#000056"/>
<polygon points="289.7,122.4 293.7,121.1 290.7,118.9 286.7,120" fill="#0000d6" stroke="#000056"/>
<polygon points="264.8,116.3 268.8,116.2 265.7,108.9 261.8,105.2" fill="#0011ff" stroke="#000766"/>
<polygon points="239.8,116.4 243.8,105.3 240.8,103.7 236.8,114.4" fill="#0011ff" stroke="#000766"/>
<polygon points="214.9,122.6 218.9,120.6 215.8,118.9 211.9,120.8" fill="#0000d6" stroke="#000056"/>
<polygon points="296.7,123.3 300.7,122 297.7,119.8 293.7,121.1" fill="#0000d6" stroke="#000056"/>
<polygon points="271.8,120.4 275.8,119.5 272.7,116.3 268.8,116.2" fill="#0000ee" stroke="#00005f"/>
<polygon points="246.8,112.1 250.8,98.1 247.8,84.5 243.8,105.3" fill="#0078ff" stroke="#003066"/>
<polygon points="221.9,122.4 225.9,120.2 222.8,118.5 218.9,120.6" fill="#0000df" stroke="#000059"/>
<polygon points="303.7,124.1 307.7,122.7 304.7,120.6 300.7,122" fill="#0000cb" stroke="#000051"/>
<polygon points="278.8,122.3 282.8,121.2 279.7,118.6 275.8,119.5" fill="#0000e7" stroke="#00005c"/>
<polygon points="253.8,112.6 257.8,106.3 254.8,84.9 250.8,98.1" fill="#0078ff" stroke="#003066"/>
<polygon points="228.9,121.9 232.9,119.1 229.8,117.5 225.9,120.2" fill="#0000e7" stroke="#00005c"/>
<polygon points="285.8,123.7 289.7,122.4 286.7,120 282.8,121.2" fill="#0000df" stroke="#000059"/>
<polygon points="260.8,117.8 264.8,116.3 261.8,105.2 257.8,106.3" fill="#0011ff" stroke="#000766"/>
<polygon points="235.9,121 239.8,116.4 236.8,114.4 232.9,119.1" fill="#0000f5" stroke="#000062"/>
<polygon points="210.9,124.5 214.9,122.6 211.9,120.8 207.9,122.6" fill="#0000d6" stroke="#000056"/>
<polygon points="292.8,124.7 296.7,123.3 293.7,121.1 289.7,122.4" fill="#0000d6" stroke="#000056"/>
<polygon points="267.8,121.5 271.8,120.4 268.8,116.2 264.8,116.3" fill="#0000f5" stroke="#000062"/>
<polygon points="242.9,119.6 246.8,112.1 243.8,105.3 239.8,116.4" fill="#0000ff" stroke="#000066"/>
<polygon points="217.9,124.5 221.9,122.4 218.9,120.6 214.9,122.6" fill="#0000d6" stroke="#000056"/>
<polygon points="299.8,125.5 303.7,124.1 300.7,122 296.7,123.3" fill="#0000cb" stroke="#000051"/>
<polygon points="274.8,123.5 278.8,122.3 275.8,119.5 271.8,120.4" fill="#0000e7" stroke="#00005c"/>
<polygon points="249.9,118.9 253.8,112.6 250.8,98.1 246.8,112.1" fill="#0011ff" stroke="#000766"/>
<polygon points="224.9,124.3 228.9,121.9 225.9,120.2 221.9,122.4" fill="#0000df" stroke="#000059"/>
<polygon points="281.8,125 285.8,123.7 282.8,121.2 278.8,122.3" fill="#0000df" stroke="#000059"/>
<polygon points="256.9,120.6 260.8,117.8 257.8,106.3 253.8,112.6" fill="#0000ff" stroke="#000066"/>
<polygon points="231.9,123.9 235.9,121 232.9,119.1 228.9,121.9" fill="#0000e7" stroke="#00005c"/>
<polygon points="288.8,126.1 292.8,124.7 289.7,122.4 285.8,123.7" fill="#0000d6" stroke="#000056"/>
<polygon points="263.9,123 267.8,121.5 264.8,116.3 260.8,117.8" fill="#0000f5" stroke="#000062"/>
<polygon points="238.9,123.4 242.9,119.6 239.8,116.4 235.9,121" fill="#0000f5" stroke="#000062"/>
<polygon points="214,126.4 217.9,124.5 214.9,122.6 210.9,124.5" fill="#0000d6" stroke="#000056"/>
<polygon points="295.8,126.9 299.8,125.5 296.7,123.3 292.8,124.7" fill="#0000d6" stroke="#000056"/>
<polygon points="270.8,124.8 274.8,123.5 271.8,120.4 267.8,121.5" fill="#0000e7" stroke="#00005c"/>
<polygon points="245.9,123 249.9,118.9 246.8,112.1 242.9,119.6" fill="#0000fb" stroke="#000064"/>
<polygon points="220.9,126.4 224.9,124.3 221.9,122.4 217.9,124.5" fill="#0000df" stroke="#000059"/>
<polygon points="277.8,126.3 281.8,125 278.8,122.3 274.8,123.5" fill="#0000df" stroke="#000059"/>
<polygon points="252.9,123.5 256.9,120.6 253.8,112.6 249.9,118.9" fill="#0000fb" stroke="#000064"/>
<polygon points="227.9,126.3 231.9,123.9 228.9,121.9 224.9,124.3" fill="#0000df" stroke="#000059"/>
<polygon points="284.8,127.4 288.8,126.1 285.8,123.7 281.8,125" fill="#0000d6" stroke="#000056"/>
<polygon points="259.9,124.8 263.9,123 260.8,117.8 256.9,120.6" fill="#0000f5" stroke="#000062"/>
<polygon points="234.9,126 238.9,123.4 235.9,121 231.9,123.9" fill="#0000e7" stroke="#00005c"/>
<polygon points="291.8,128.3 295.8,126.9 292.8,124.7 288.8,126.1" fill="#0000d6" stroke="#000056"/>
<polygon points="266.9,126.3 270.8,124.8 267.8,121.5 263.9,123" fill="#0000e7" stroke="#00005c"/>
<polygon points="241.9,125.9 245.9,123 242.9,119.6 238.9,123.4" fill="#0000ee" stroke="#00005f"/>
<polygon points="217,128.3 220.9,126.4 217.9,124.5 214,126.4" fill="#0000d6" stroke="#000056"/>
<polygon points="273.9,127.7 277.8,126.3 274.8,123.5 270.8,124.8" fill="#0000df" stroke="#000059"/>
<polygon points="248.9,126.1 252.9,123.5 249.9,118.9 245.9,123" fill="#0000ee" stroke="#00005f"/>
<polygon points="224,128.4 227.9,126.3 224.9,124.3 220.9,126.4" fill="#0000df" stroke="#000059"/>
<polygon points="280.9,128.8 284.8,127.4 281.8,125 277.8,126.3" fill="#0000d6" stroke="#000056"/>
<polygon points="255.9,126.8 259.9,124.8 256.9,120.6 252.9,123.5" fill="#0000ee" stroke="#00005f"/>
<polygon points="231,128.3 234.9,126 231.9,123.9 227.9,126.3" fill="#0000df" stroke="#000059"/>
<polygon points="287.9,129.8 291.8,128.3 288.8,126.1 284.8,127.4" fill="#0000d6" stroke="#000056"/>
<polygon points="262.9,128 266.9,126.3 263.9,123 259.9,124.8" fill="#0000e7" stroke="#00005c"/>
<polygon points="238,128.3 241.9,125.9 238.9,123.4 234.9,126" fill="#0000e7" stroke="#00005c"/>
<polygon points="269.9,129.1 273.9,127.7 270.8,124.8 266.9,126.3" fill="#0000df" stroke="#000059"/>
<polygon points="245,128.5 248.9,126.1 245.9,123 241.9,125.9" fill="#0000e7" stroke="#00005c"/>
<polygon points="220,130.3 224,128.4 220.9,126.4 217,128.3" fill="#0000d6" stroke="#000056"/>
<polygon points="276.9,130.2 280.9,128.8 277.8,126.3 273.9,127.7" fill="#0000df" stroke="#000059"/>
<polygon points="251.9,128.9 255.9,126.8 252.9,123.5 248.9,126.1" fill="#0000e7" stroke="#00005c"/>
<polygon points="227,130.4 231,128.3 227.9,126.3 224,128.4" fill="#0000df" stroke="#000059"/>
<polygon points="283.9,131.2 287.9,129.8 284.8,127.4 280.9,128.8" fill="#0000d6" stroke="#000056"/>
<polygon points="258.9,129.8 262.9,128 259.9,124.8 255.9,126.8" fill="#0000e7" stroke="#00005c"/>
<polygon points="234,130.5 238,128.3 234.9,126 231,128.3" fill="#0000df" stroke="#000059"/>
<polygon points="265.9,130.7 269.9,129.1 266.9,126.3 262.9,128" fill="#0000df" stroke="#000059"/>
<polygon points="241,130.7 245,128.5 241.9,125.9 238,128.3" fill="#0000df" stroke="#000059"/>
<polygon points="272.9,131.7 276.9,130.2 273.9,127.7 269.9,129.1" fill="#0000df" stroke="#000059"/>
<polygon points="248,131 251.9,128.9 248.9,126.1 245,128.5" fill="#0000e7" stroke="#00005c"/>
<polygon points="223,132.4 227,130.4 224,128.4 220,130.3" fill="#0000d6" stroke="#000056"/>
<polygon points="279.9,132.7 283.9,131.2 280.9,128.8 276.9,130.2" fill="#0000d6" stroke="#000056"/>
<polygon points="255,131.6 258.9,129.8 255.9,126.8 251.9,128.9" fill="#0000df" stroke="#000059"/>
<polygon points="230,132.5 234,130.5 231,128.3 227,130.4" fill="#0000d6" stroke="#000056"/>
<polygon points="262,132.4 265.9,130.7 262.9,128 258.9,129.8" fill="#0000df" stroke="#000059"/>
<polygon points="237,132.8 241,130.7 238,128.3 234,130.5" fill="#0000df" stroke="#000059"/>
<polygon points="269,133.3 272.9,131.7 269.9,129.1 265.9,130.7" fill="#0000df" stroke="#000059"/>
<polygon points="244,133.1 248,131 245,128.5 241,130.7" fill="#0000df" stroke="#000059"/>
<polygon points="275.9,134.2 279.9,132.7 276.9,130.2 272.9,131.7" fill="#0000d6" stroke="#000056"/>
<polygon points="251,133.6 255,131.6 251.9,128.9 248,131" fill="#0000df" stroke="#000059"/>
<polygon points="226.1,134.4 230,132.5 227,130.4 223,132.4" fill="#0000d6" stroke="#000056"/>
<polygon points="258,134.2 262,132.4 258.9,129.8 255,131.6" fill="#0000df" stroke="#000059"/>
<polygon points="233,134.7 237,132.8 234,130.5 230,132.5" fill="#0000d6" stroke="#000056"/>
<polygon points="265,135 269,133.3 265.9,130.7 262,132.4" fill="#0000d6" stroke="#000056"/>
<polygon points="240,135 244,133.1 241,130.7 237,132.8" fill="#0000d6" stroke="#000056"/>
<polygon points="272,135.7 275.9,134.2 272.9,131.7 269,133.3" fill="#0000d6" stroke="#000056"/>
<polygon points="247,135.4 251,133.6 248,131 244,133.1" fill="#0000d6" stroke="#000056"/>
<polygon points="254,136 258,134.2 255,131.6 251,133.6" fill="#0000d6" stroke="#000056"/>
<polygon points="229.1,136.5 233,134.7 230,132.5 226.1,134.4" fill="#0000d6" stroke="#000056"/>
<polygon points="261,136.6 265,135 262,132.4 258,134.2" fill="#0000d6" stroke="#000056"/>
<polygon points="236.1,136.9 240,135 237,132.8 233,134.7" fill="#0000d6" stroke="#000056"/>
<polygon points="268,137.3 272,135.7 269,133.3 265,135" fill="#0000d6" stroke="#000056"/>
<polygon points="243.1,137.3 247,135.4 244,133.1 240,135" fill="#0000d6" stroke="#000056"/>
<polygon points="250.1,137.8 254,136 251,133.6 247,135.4" fill="#0000d6" stroke="#000056"/>
<polygon points="257.1,138.3 261,136.6 258,134.2 254,136" fill="#0000d6" stroke="#000056"/>
<polygon points="232.1,138.7 236.1,136.9 233,134.7 229.1,136.5" fill="#0000d6" stroke="#000056"/>
<polygon points="264,139 268,137.3 265,135 261,136.6" fill="#0000d6" stroke="#000056"/>
<polygon points="239.1,139.1 243.1,137.3 240,135 236.1,136.9" fill="#0000d6" stroke="#000056"/>
<polygon points="246.1,139.5 250.1,137.8 247,135.4 243.1,137.3" fill="#0000d6" stroke="#000056"/>
<polygon points="253.1,140 257.1,138.3 254,136 250.1,137.8" fill="#0000d6" stroke="#000056"/>
<polygon points="260.1,140.6 264,139 261,136.6 257.1,138.3" fill="#0000d6" stroke="#000056"/>
<polygon points="235.1,140.8 239.1,139.1 236.1,136.9 232.1,138.7" fill="#0000d6" stroke="#000056"/>
<polygon points="242.1,141.2 246.1,139.5 243.1,137.3 239.1,139.1" fill="#0000d6" stroke="#000056"/>
<polygon points="249.1,141.7 253.1,140 250.1,137.8 246.1,139.5" fill="#0000d6" stroke="#000056"/>
<polygon points="256.1,142.2 260.1,140.6 257.1,138.3 253.1,140" fill="#0000d6" stroke="#000056"/>
<polygon points="238.2,142.9 242.1,141.2 239.1,139.1 235.1,140.8" fill="#0000cb" stroke="#000051"/>
<polygon points="245.1,143.4 249.1,141.7 246.1,139.5 242.1,141.2" fill="#0000cb" stroke="#000051"/>
<polygon points="252.1,143.9 256.1,142.2 253.1,140 249.1,141.7" fill="#0000cb" stroke="#000051"/>
<polygon points="241.2,145 245.1,143.4 242.1,141.2 238.2,142.9" fill="#0000cb" stroke="#000051"/>
<polygon points="248.2,145.5 252.1,143.9 249.1,141.7 245.1,143.4" fill="#0000cb" stroke="#000051"/>
<polygon points="244.2,147.1 248.2,145.5 245.1,143.4 241.2,145" fill="#0000cb" stroke="#000051"/>
</g>
<g stroke="#dcdcdc" stroke-width="0.8">
<line x1="418" y1="144.5" x2="369.6" y2="112.4"/>
<line x1="369.6" y1="112.4" x2="369.6" y2="43"/>
<line x1="437.8" y1="136.9" x2="389.4" y2="104.8"/>
<line x1="389.4" y1="104.8" x2="389.4" y2="35.3"/>
<line x1="457.7" y1="129.2" x2="409.3" y2="97.2"/>
<line x1="409.3" y1="97.2" x2="409.3" y2="27.7"/>
<line x1="390" y1="142.6" x2="453.5" y2="118.2"/>
<line x1="453.5" y1="118.2" x2="453.5" y2="48.7"/>
<line x1="374.9" y1="132.5" x2="438.4" y2="108.1"/>
<line x1="438.4" y1="108.1" x2="438.4" y2="38.7"/>
<line x1="359.8" y1="122.5" x2="423.2" y2="98.1"/>
<line x1="423.2" y1="98.1" x2="423.2" y2="28.7"/>
<line x1="353.7" y1="118.5" x2="417.2" y2="94.1"/>
<line x1="417.2" y1="94.1" x2="465.6" y2="126.2"/>
<line x1="353.7" y1="95.3" x2="417.2" y2="70.9"/>
<line x1="417.2" y1="70.9" x2="465.6" y2="103"/>
<line x1="353.7" y1="72.2" x2="417.2" y2="47.8"/>
<line x1="417.2" y1="47.8" x2="465.6" y2="79.9"/>
<line x1="353.7" y1="49" x2="417.2" y2="24.6"/>
<line x1="417.2" y1="24.6" x2="465.6" y2="56.7"/>
</g>
<g stroke="#9a9a9a" stroke-width="0.9">
<line x1="353.7" y1="118.5" x2="353.7" y2="49"/>
<line x1="353.7" y1="118.5" x2="402.1" y2="150.6"/>
<line x1="402.1" y1="150.6" x2="465.6" y2="126.2"/>
<line x1="353.7" y1="118.5" x2="352.2" y2="118.5"/>
<line x1="353.7" y1="95.3" x2="352.2" y2="95.3"/>
<line x1="353.7" y1="72.2" x2="352.2" y2="72.2"/>
<line x1="353.7" y1="49" x2="352.2" y2="49"/>
<line x1="390" y1="142.6" x2="388.4" y2="143.2"/>
<line x1="374.9" y1="132.5" x2="373.3" y2="133.1"/>
<line x1="359.8" y1="122.5" x2="358.1" y2="123.1"/>
<line x1="418" y1="144.5" x2="419.2" y2="145.5"/>
<line x1="437.8" y1="136.9" x2="439" y2="137.9"/>
<line x1="457.7" y1="129.2" x2="458.9" y2="130.2"/>
</g>
<text x="350.8" y="120.5" text-anchor="end" font-size="8.4">-500</text>
<text x="350.8" y="97.3" text-anchor="end" font-size="8.4">0</text>
<text x="350.8" y="74.2" text-anchor="end" font-size="8.4">500</text>
<text x="350.8" y="51.8" text-anchor="end" font-size="8.4">1000</text>
<text x="387.2" y="152.9" text-anchor="end" font-size="8.4">5</text>
<text x="372.1" y="142.8" text-anchor="end" font-size="8.4">10</text>
<text x="356.9" y="132.8" text-anchor="end" font-size="8.4">15</text>
<text x="420.5" y="155.1" text-anchor="start" font-size="8.4">5</text>
<text x="440.3" y="147.5" text-anchor="start" font-size="8.4">10</text>
<text x="460.2" y="139.8" text-anchor="start" font-size="8.4">15</text>
<text x="352.7" y="167.1" text-anchor="middle" font-size="8.4">y (px)</text>
<text x="455.1" y="168.8" text-anchor="middle" font-size="8.4">x (px)</text>
<text x="409.9" y="8.8" text-anchor="middle" font-size="8.55">Difference, original - model</text>
<text x="409.9" y="18.4" text-anchor="middle" font-size="8.55">RMSE = 0.032115, MAXDIFF = 0.053265</text>
<g stroke-width="0.5" stroke-linejoin="round">
<polygon points="416.3,75.7 420.2,78.4 417.2,73.5 413.2,76.4" fill="#00b9ff" stroke="#00374c"/>
<polygon points="412.3,80.6 416.3,75.7 413.2,76.4 409.3,77.4" fill="#0057ff" stroke="#001a4c"/>
<polygon points="419.3,80 423.2,78.1 420.2,78.4 416.3,75.7" fill="#0078ff" stroke="#00244c"/>
<polygon points="408.3,81.5 412.3,80.6 409.3,77.4 405.3,75.5" fill="#0068ff" stroke="#001f4c"/>
<polygon points="415.3,81.8 419.3,80 416.3,75.7 412.3,80.6" fill="#0078ff" stroke="#00244c"/>
<polygon points="422.3,82.8 426.3,80.5 423.2,78.1 419.3,80" fill="#0068ff" stroke="#001f4c"/>
<polygon points="404.3,81.4 408.3,81.5 405.3,75.5 401.3,76.3" fill="#0099ff" stroke="#002e4c"/>
<polygon points="411.3,83.1 415.3,81.8 412.3,80.6 408.3,81.5" fill="#0078ff" stroke="#00244c"/>
<polygon points="418.3,83.9 422.3,82.8 419.3,80 415.3,81.8" fill="#0068ff" stroke="#001f4c"/>
<polygon points="425.3,83.9 429.3,83.2 426.3,80.5 422.3,82.8" fill="#0078ff" stroke="#00244c"/>
<polygon points="400.4,83.3 404.3,81.4 401.3,76.3 397.4,80.1" fill="#0089ff" stroke="#00294c"/>
<polygon points="407.4,83.3 411.3,83.1 408.3,81.5 404.3,81.4" fill="#0099ff" stroke="#002e4c"/>
<polygon points="414.4,81.2 418.3,83.9 415.3,81.8 411.3,83.1" fill="#00d8ff" stroke="#00414c"/>
<polygon points="421.4,83.4 425.3,83.9 422.3,82.8 418.3,83.9" fill="#00b9ff" stroke="#00374c"/>
<polygon points="396.4,82.6 400.4,83.3 397.4,80.1 393.4,81.4" fill="#00c9ff" stroke="#003c4c"/>
<polygon points="428.4,87.6 432.3,83 429.3,83.2 425.3,83.9" fill="#0057ff" stroke="#001a4c"/>
<polygon points="403.4,81.6 407.4,83.3 404.3,81.4 400.4,83.3" fill="#00e8ff" stroke="#00464c"/>
<polygon points="410.4,84.6 414.4,81.2 411.3,83.1 407.4,83.3" fill="#00a9ff" stroke="#00334c"/>
<polygon points="417.4,85.8 421.4,83.4 418.3,83.9 414.4,81.2" fill="#0099ff" stroke="#002e4c"/>
<polygon points="392.4,82.9 396.4,82.6 393.4,81.4 389.4,83.6" fill="#00e8ff" stroke="#00464c"/>
<polygon points="424.4,86.6 428.4,87.6 425.3,83.9 421.4,83.4" fill="#0099ff" stroke="#002e4c"/>
<polygon points="399.4,81.8 403.4,81.6 400.4,83.3 396.4,82.6" fill="#00fff7" stroke="#004c4a"/>
<polygon points="431.4,89.4 435.3,87.3 432.3,83 428.4,87.6" fill="#0057ff" stroke="#001a4c"/>
<polygon points="406.4,85.8 410.4,84.6 407.4,83.3 403.4,81.6" fill="#00b9ff" stroke="#00374c"/>
<polygon points="413.4,85 417.4,85.8 414.4,81.2 410.4,84.6" fill="#00d8ff" stroke="#00414c"/>
<polygon points="388.5,88 392.4,82.9 389.4,83.6 385.4,86" fill="#0089ff" stroke="#00294c"/>
<polygon points="420.4,88.9 424.4,86.6 421.4,83.4 417.4,85.8" fill="#0078ff" stroke="#00244c"/>
<polygon points="395.5,83.6 399.4,81.8 396.4,82.6 392.4,82.9" fill="#00fff7" stroke="#004c4a"/>
<polygon points="427.4,92.2 431.4,89.4 428.4,87.6 424.4,86.6" fill="#0035ff" stroke="#00104c"/>
<polygon points="402.5,85.6 406.4,85.8 403.4,81.6 399.4,81.8" fill="#00e8ff" stroke="#00464c"/>
<polygon points="434.4,91.5 438.4,90 435.3,87.3 431.4,89.4" fill="#0057ff" stroke="#001a4c"/>
<polygon points="409.5,87.1 413.4,85 410.4,84.6 406.4,85.8" fill="#00c9ff" stroke="#003c4c"/>
<polygon points="384.5,89 388.5,88 385.4,86 381.5,85.6" fill="#0099ff" stroke="#002e4c"/>
<polygon points="416.4,91.7 420.4,88.9 417.4,85.8 413.4,85" fill="#0057ff" stroke="#001a4c"/>
<polygon points="391.5,86.4 395.5,83.6 392.4,82.9 388.5,88" fill="#00e8ff" stroke="#00464c"/>
<polygon points="423.4,93.3 427.4,92.2 424.4,86.6 420.4,88.9" fill="#0046ff" stroke="#00154c"/>
<polygon points="398.5,87.3 402.5,85.6 399.4,81.8 395.5,83.6" fill="#00d8ff" stroke="#00414c"/>
<polygon points="430.4,92.5 434.4,91.5 431.4,89.4 427.4,92.2" fill="#0068ff" stroke="#001f4c"/>
<polygon points="405.5,88 409.5,87.1 406.4,85.8 402.5,85.6" fill="#00d8ff" stroke="#00414c"/>
<polygon points="380.5,90.7 384.5,89 381.5,85.6 377.5,88.2" fill="#0099ff" stroke="#002e4c"/>
<polygon points="437.4,89.7 441.4,90.9 438.4,90 434.4,91.5" fill="#00b9ff" stroke="#00374c"/>
<polygon points="412.5,86.8 416.4,91.7 413.4,85 409.5,87.1" fill="#00fff7" stroke="#004c4a"/>
<polygon points="387.5,89.4 391.5,86.4 388.5,88 384.5,89" fill="#00c9ff" stroke="#003c4c"/>
<polygon points="419.5,92.7 423.4,93.3 420.4,88.9 416.4,91.7" fill="#0078ff" stroke="#00244c"/>
<polygon points="394.5,92.5 398.5,87.3 395.5,83.6 391.5,86.4" fill="#0078ff" stroke="#00244c"/>
<polygon points="426.5,91.7 430.4,92.5 427.4,92.2 423.4,93.3" fill="#0099ff" stroke="#002e4c"/>
<polygon points="401.5,86.6 405.5,88 402.5,85.6 398.5,87.3" fill="#00ffd6" stroke="#004c40"/>
<polygon points="376.6,93.3 380.5,90.7 377.5,88.2 373.5,92" fill="#0078ff" stroke="#00244c"/>
<polygon points="433.5,91.6 437.4,89.7 434.4,91.5 430.4,92.5" fill="#00a9ff" stroke="#00334c"/>
<polygon points="408.5,84.6 412.5,86.8 409.5,87.1 405.5,88" fill="#00ff92" stroke="#004c2c"/>
<polygon points="383.6,91.5 387.5,89.4 384.5,89 380.5,90.7" fill="#00b9ff" stroke="#00374c"/>
<polygon points="440.5,93.3 444.4,93 441.4,90.9 437.4,89.7" fill="#0089ff" stroke="#00294c"/>
<polygon points="415.5,90.5 419.5,92.7 416.4,91.7 412.5,86.8" fill="#00d8ff" stroke="#00414c"/>
<polygon points="390.6,93.3 394.5,92.5 391.5,86.4 387.5,89.4" fill="#0089ff" stroke="#00294c"/>
<polygon points="422.5,92.8 426.5,91.7 423.4,93.3 419.5,92.7" fill="#00a9ff" stroke="#00334c"/>
<polygon points="397.6,93.4 401.5,86.6 398.5,87.3 394.5,92.5" fill="#0099ff" stroke="#002e4c"/>
<polygon points="372.6,92.4 376.6,93.3 373.5,92 369.6,89.4" fill="#00b9ff" stroke="#00374c"/>
<polygon points="429.5,92.2 433.5,91.6 430.4,92.5 426.5,91.7" fill="#00c9ff" stroke="#003c4c"/>
<polygon points="404.5,91.3 408.5,84.6 405.5,88 401.5,86.6" fill="#00d8ff" stroke="#00414c"/>
<polygon points="379.6,92.3 383.6,91.5 380.5,90.7 376.6,93.3" fill="#00c9ff" stroke="#003c4c"/>
<polygon points="436.5,96.2 440.5,93.3 437.4,89.7 433.5,91.6" fill="#0068ff" stroke="#001f4c"/>
<polygon points="411.5,87.5 415.5,90.5 412.5,86.8 408.5,84.6" fill="#00ffb5" stroke="#004c36"/>
<polygon points="386.6,95.2 390.6,93.3 387.5,89.4 383.6,91.5" fill="#0089ff" stroke="#00294c"/>
<polygon points="443.5,92.5 447.4,94.1 444.4,93 440.5,93.3" fill="#00d8ff" stroke="#00414c"/>
<polygon points="418.5,89.6 422.5,92.8 419.5,92.7 415.5,90.5" fill="#00ffd6" stroke="#004c40"/>
<polygon points="393.6,91.1 397.6,93.4 394.5,92.5 390.6,93.3" fill="#00f7ff" stroke="#004a4c"/>
<polygon points="368.6,92 372.6,92.4 369.6,89.4 365.6,90.9" fill="#00e8ff" stroke="#00464c"/>
<polygon points="425.5,93.5 429.5,92.2 426.5,91.7 422.5,92.8" fill="#00c9ff" stroke="#003c4c"/>
<polygon points="400.6,94.1 404.5,91.3 401.5,86.6 397.6,93.4" fill="#00b9ff" stroke="#00374c"/>
<polygon points="375.6,92 379.6,92.3 376.6,93.3 372.6,92.4" fill="#00f7ff" stroke="#004a4c"/>
<polygon points="432.5,94.5 436.5,96.2 433.5,91.6 429.5,92.2" fill="#00b9ff" stroke="#00374c"/>
<polygon points="407.6,90.8 411.5,87.5 408.5,84.6 404.5,91.3" fill="#00ffe7" stroke="#004c45"/>
<polygon points="382.6,96.8 386.6,95.2 383.6,91.5 379.6,92.3" fill="#0089ff" stroke="#00294c"/>
<polygon points="439.5,94 443.5,92.5 440.5,93.3 436.5,96.2" fill="#00d8ff" stroke="#00414c"/>
<polygon points="414.6,89.5 418.5,89.6 415.5,90.5 411.5,87.5" fill="#00ffb5" stroke="#004c36"/>
<polygon points="389.6,104.3 393.6,91.1 390.6,93.3 386.6,95.2" fill="#0000f5" stroke="#000049"/>
<polygon points="364.7,94.8 368.6,92 365.6,90.9 361.6,93.8" fill="#00c9ff" stroke="#003c4c"/>
<polygon points="446.5,96.9 450.5,96.6 447.4,94.1 443.5,92.5" fill="#0099ff" stroke="#002e4c"/>
<polygon points="421.6,96.8 425.5,93.5 422.5,92.8 418.5,89.6" fill="#0099ff" stroke="#002e4c"/>
<polygon points="396.6,96.7 400.6,94.1 397.6,93.4 393.6,91.1" fill="#0099ff" stroke="#002e4c"/>
<polygon points="371.7,92.9 375.6,92 372.6,92.4 368.6,92" fill="#00fff7" stroke="#004c4a"/>
<polygon points="428.6,93.3 432.5,94.5 429.5,92.2 425.5,93.5" fill="#00fff7" stroke="#004c4a"/>
<polygon points="403.6,91.4 407.6,90.8 404.5,91.3 400.6,94.1" fill="#00ffc6" stroke="#004c3b"/>
<polygon points="378.6,96.9 382.6,96.8 379.6,92.3 375.6,92" fill="#00a9ff" stroke="#00334c"/>
<polygon points="435.5,96.8 439.5,94 436.5,96.2 432.5,94.5" fill="#00b9ff" stroke="#00374c"/>
<polygon points="410.6,95.2 414.6,89.5 411.5,87.5 407.6,90.8" fill="#00d8ff" stroke="#00414c"/>
<polygon points="385.6,101.1 389.6,104.3 386.6,95.2 382.6,96.8" fill="#0046ff" stroke="#00154c"/>
<polygon points="360.7,99.2 364.7,94.8 361.6,93.8 357.7,95.5" fill="#0078ff" stroke="#00244c"/>
<polygon points="442.5,97.2 446.5,96.9 443.5,92.5 439.5,94" fill="#00b9ff" stroke="#00374c"/>
<polygon points="417.6,95.9 421.6,96.8 418.5,89.6 414.6,89.5" fill="#00d8ff" stroke="#00414c"/>
<polygon points="392.6,102.6 396.6,96.7 393.6,91.1 389.6,104.3" fill="#0035ff" stroke="#00104c"/>
<polygon points="367.7,99.1 371.7,92.9 368.6,92 364.7,94.8" fill="#0089ff" stroke="#00294c"/>
<polygon points="449.5,98 453.5,100.4 450.5,96.6 446.5,96.9" fill="#00a9ff" stroke="#00334c"/>
<polygon points="424.6,97.5 428.6,93.3 425.5,93.5 421.6,96.8" fill="#00b9ff" stroke="#00374c"/>
<polygon points="399.6,96.2 403.6,91.4 400.6,94.1 396.6,96.7" fill="#00e8ff" stroke="#00464c"/>
<polygon points="374.7,95.8 378.6,96.9 375.6,92 371.7,92.9" fill="#00e8ff" stroke="#00464c"/>
<polygon points="431.6,100.3 435.5,96.8 432.5,94.5 428.6,93.3" fill="#0089ff" stroke="#00294c"/>
<polygon points="406.6,94.4 410.6,95.2 407.6,90.8 403.6,91.4" fill="#00d8ff" stroke="#00414c"/>
<polygon points="381.7,102.5 385.6,101.1 382.6,96.8 378.6,96.9" fill="#0046ff" stroke="#00154c"/>
<polygon points="356.7,100.2 360.7,99.2 357.7,95.5 353.7,97.2" fill="#0089ff" stroke="#00294c"/>
<polygon points="438.6,99.4 442.5,97.2 439.5,94 435.5,96.8" fill="#00a9ff" stroke="#00334c"/>
<polygon points="413.6,98.4 417.6,95.9 414.6,89.5 410.6,95.2" fill="#00c9ff" stroke="#003c4c"/>
<polygon points="388.7,104.4 392.6,102.6 389.6,104.3 385.6,101.1" fill="#0023ff" stroke="#000b4c"/>
<polygon points="363.7,101.6 367.7,99.1 364.7,94.8 360.7,99.2" fill="#0078ff" stroke="#00244c"/>
<polygon points="445.6,100 449.5,98 446.5,96.9 442.5,97.2" fill="#00a9ff" stroke="#00334c"/>
<polygon points="420.6,91.2 424.6,97.5 421.6,96.8 417.6,95.9" fill="#00b9ff" stroke="#00374c"/>
<polygon points="395.7,108.5 399.6,96.2 396.6,96.7 392.6,102.6" fill="#0000ee" stroke="#000047"/>
<polygon points="370.7,100.1 374.7,95.8 371.7,92.9 367.7,99.1" fill="#00a9ff" stroke="#00334c"/>
<polygon points="452.6,102.1 456.5,102.9 453.5,100.4 449.5,98" fill="#0078ff" stroke="#00244c"/>
<polygon points="427.6,98.7 431.6,100.3 428.6,93.3 424.6,97.5" fill="#00d8ff" stroke="#00414c"/>
<polygon points="402.7,95 406.6,94.4 403.6,91.4 399.6,96.2" fill="#0023ff" stroke="#000b4c"/>
<polygon points="377.7,100.9 381.7,102.5 378.6,96.9 374.7,95.8" fill="#0099ff" stroke="#002e4c"/>
<polygon points="434.6,103.1 438.6,99.4 435.5,96.8 431.6,100.3" fill="#0068ff" stroke="#001f4c"/>
<polygon points="409.6,93.6 413.6,98.4 410.6,95.2 406.6,94.4" fill="#0000ff" stroke="#00004c"/>
<polygon points="384.7,107.9 388.7,104.4 385.6,101.1 381.7,102.5" fill="#0000ff" stroke="#00004c"/>
<polygon points="359.8,101.5 363.7,101.6 360.7,99.2 356.7,100.2" fill="#0099ff" stroke="#002e4c"/>
<polygon points="441.6,101.2 445.6,100 442.5,97.2 438.6,99.4" fill="#00a9ff" stroke="#00334c"/>
<polygon points="416.6,71 420.6,91.2 417.6,95.9 413.6,98.4" fill="#c40000" stroke="#3b0000"/>
<polygon points="391.7,111.6 395.7,108.5 392.6,102.6 388.7,104.4" fill="#0000df" stroke="#000043"/>
<polygon points="366.7,103.4 370.7,100.1 367.7,99.1 363.7,101.6" fill="#0078ff" stroke="#00244c"/>
<polygon points="448.6,103.7 452.6,102.1 449.5,98 445.6,100" fill="#0078ff" stroke="#00244c"/>
<polygon points="423.6,102.1 427.6,98.7 424.6,97.5 420.6,91.2" fill="#00a9ff" stroke="#00334c"/>
<polygon points="398.7,104.4 402.7,95 399.6,96.2 395.7,108.5" fill="#0068ff" stroke="#001f4c"/>
<polygon points="373.7,99.8 377.7,100.9 374.7,95.8 370.7,100.1" fill="#00e8ff" stroke="#00464c"/>
<polygon points="455.6,104.3 459.6,103.7 456.5,102.9 452.6,102.1" fill="#0078ff" stroke="#00244c"/>
<polygon points="430.6,104.7 434.6,103.1 431.6,100.3 427.6,98.7" fill="#0068ff" stroke="#001f4c"/>
<polygon points="405.7,78 409.6,93.6 406.6,94.4 402.7,95" fill="#ff4600" stroke="#4c1500"/>
<polygon points="380.7,105.9 384.7,107.9 381.7,102.5 377.7,100.9" fill="#0057ff" stroke="#001a4c"/>
<polygon points="437.6,104.7 441.6,101.2 438.6,99.4 434.6,103.1" fill="#0078ff" stroke="#00244c"/>
<polygon points="412.7,99.4 416.6,71 413.6,98.4 409.6,93.6" fill="#0068ff" stroke="#001f4c"/>
<polygon points="387.7,108.4 391.7,111.6 388.7,104.4 384.7,107.9" fill="#0011ff" stroke="#00054c"/>
<polygon points="362.8,104.7 366.7,103.4 363.7,101.6 359.8,101.5" fill="#0078ff" stroke="#00244c"/>
<polygon points="444.6,104 448.6,103.7 445.6,100 441.6,101.2" fill="#0099ff" stroke="#002e4c"/>
<polygon points="419.7,88.3 423.6,102.1 420.6,91.2 416.6,71" fill="#acff00" stroke="#344c00"/>
<polygon points="394.7,105.9 398.7,104.4 395.7,108.5 391.7,111.6" fill="#0068ff" stroke="#001f4c"/>
<polygon points="369.8,103.8 373.7,99.8 370.7,100.1 366.7,103.4" fill="#00a9ff" stroke="#00334c"/>
<polygon points="451.6,106.8 455.6,104.3 452.6,102.1 448.6,103.7" fill="#0057ff" stroke="#001a4c"/>
<polygon points="426.7,107.5 430.6,104.7 427.6,98.7 423.6,102.1" fill="#0046ff" stroke="#00154c"/>
<polygon points="401.7,104.1 405.7,78 402.7,95 398.7,104.4" fill="#0078ff" stroke="#00244c"/>
<polygon points="376.8,107.1 380.7,105.9 377.7,100.9 373.7,99.8" fill="#0057ff" stroke="#001a4c"/>
<polygon points="458.6,106.4 462.6,104.8 459.6,103.7 455.6,104.3" fill="#0078ff" stroke="#00244c"/>
<polygon points="433.7,103.3 437.6,104.7 434.6,103.1 430.6,104.7" fill="#00c9ff" stroke="#003c4c"/>
<polygon points="408.7,105.5 412.7,99.4 409.6,93.6 405.7,78" fill="#0099ff" stroke="#002e4c"/>
<polygon points="383.8,109.8 387.7,108.4 384.7,107.9 380.7,105.9" fill="#0011ff" stroke="#00054c"/>
<polygon points="440.6,105.6 444.6,104 441.6,101.2 437.6,104.7" fill="#0099ff" stroke="#002e4c"/>
<polygon points="415.7,91.2 419.7,88.3 416.6,71 412.7,99.4" fill="#6eff43" stroke="#214c14"/>
<polygon points="390.8,110.3 394.7,105.9 391.7,111.6 387.7,108.4" fill="#0011ff" stroke="#00054c"/>
<polygon points="365.8,104.8 369.8,103.8 366.7,103.4 362.8,104.7" fill="#00a9ff" stroke="#00334c"/>
<polygon points="447.6,107.3 451.6,106.8 448.6,103.7 444.6,104" fill="#0078ff" stroke="#00244c"/>
<polygon points="422.7,106.5 426.7,107.5 423.6,102.1 419.7,88.3" fill="#0068ff" stroke="#001f4c"/>
<polygon points="397.7,105.4 401.7,104.1 398.7,104.4 394.7,105.9" fill="#00a9ff" stroke="#00334c"/>
<polygon points="372.8,105.8 376.8,107.1 373.7,99.8 369.8,103.8" fill="#00a9ff" stroke="#00334c"/>
<polygon points="454.6,104.3 458.6,106.4 455.6,104.3 451.6,106.8" fill="#00c9ff" stroke="#003c4c"/>
<polygon points="429.7,107.8 433.7,103.3 430.6,104.7 426.7,107.5" fill="#0078ff" stroke="#00244c"/>
<polygon points="404.7,107.5 408.7,105.5 405.7,78 401.7,104.1" fill="#0046ff" stroke="#00154c"/>
<polygon points="379.8,106.1 383.8,109.8 380.7,105.9 376.8,107.1" fill="#00a9ff" stroke="#00334c"/>
<polygon points="461.6,109.5 465.6,109.6 462.6,104.8 458.6,106.4" fill="#0057ff" stroke="#001a4c"/>
<polygon points="436.7,106.7 440.6,105.6 437.6,104.7 433.7,103.3" fill="#0099ff" stroke="#002e4c"/>
<polygon points="411.7,109.9 415.7,91.2 412.7,99.4 408.7,105.5" fill="#0046ff" stroke="#00154c"/>
<polygon points="386.8,109.4 390.8,110.3 387.7,108.4 383.8,109.8" fill="#0057ff" stroke="#001a4c"/>
<polygon points="443.7,110.7 447.6,107.3 444.6,104 440.6,105.6" fill="#0046ff" stroke="#00154c"/>
<polygon points="418.7,107.5 422.7,106.5 419.7,88.3 415.7,91.2" fill="#0078ff" stroke="#00244c"/>
<polygon points="393.8,113.6 397.7,105.4 394.7,105.9 390.8,110.3" fill="#0000ff" stroke="#00004c"/>
<polygon points="368.8,106.2 372.8,105.8 369.8,103.8 365.8,104.8" fill="#00b9ff" stroke="#00374c"/>
<polygon points="450.7,108.6 454.6,104.3 451.6,106.8 447.6,107.3" fill="#0089ff" stroke="#00294c"/>
<polygon points="425.7,108.2 429.7,107.8 426.7,107.5 422.7,106.5" fill="#0099ff" stroke="#002e4c"/>
<polygon points="400.8,108.4 404.7,107.5 401.7,104.1 397.7,105.4" fill="#0099ff" stroke="#002e4c"/>
<polygon points="375.8,109.5 379.8,106.1 376.8,107.1 372.8,105.8" fill="#0078ff" stroke="#00244c"/>
<polygon points="457.7,105.9 461.6,109.5 458.6,106.4 454.6,104.3" fill="#00d8ff" stroke="#00414c"/>
<polygon points="432.7,109.9 436.7,106.7 433.7,103.3 429.7,107.8" fill="#0078ff" stroke="#00244c"/>
<polygon points="407.8,109.6 411.7,109.9 408.7,105.5 404.7,107.5" fill="#0078ff" stroke="#00244c"/>
<polygon points="382.8,112.2 386.8,109.4 383.8,109.8 379.8,106.1" fill="#0035ff" stroke="#00104c"/>
<polygon points="439.7,111.2 443.7,110.7 440.6,105.6 436.7,106.7" fill="#0057ff" stroke="#001a4c"/>
<polygon points="414.8,109.5 418.7,107.5 415.7,91.2 411.7,109.9" fill="#0068ff" stroke="#001f4c"/>
<polygon points="389.8,111 393.8,113.6 390.8,110.3 386.8,109.4" fill="#0068ff" stroke="#001f4c"/>
<polygon points="446.7,109.9 450.7,108.6 447.6,107.3 443.7,110.7" fill="#0089ff" stroke="#00294c"/>
<polygon points="421.8,111.2 425.7,108.2 422.7,106.5 418.7,107.5" fill="#0068ff" stroke="#001f4c"/>
<polygon points="396.8,113.2 400.8,108.4 397.7,105.4 393.8,113.6" fill="#0035ff" stroke="#00104c"/>
<polygon points="371.8,111.3 375.8,109.5 372.8,105.8 368.8,106.2" fill="#0068ff" stroke="#001f4c"/>
<polygon points="453.7,108.4 457.7,105.9 454.6,104.3 450.7,108.6" fill="#00c9ff" stroke="#003c4c"/>
<polygon points="428.7,111.2 432.7,109.9 429.7,107.8 425.7,108.2" fill="#0078ff" stroke="#00244c"/>
<polygon points="403.8,109.6 407.8,109.6 404.7,107.5 400.8,108.4" fill="#00a9ff" stroke="#00334c"/>
<polygon points="378.8,110 382.8,112.2 379.8,106.1 375.8,109.5" fill="#0099ff" stroke="#002e4c"/>
<polygon points="435.7,110.1 439.7,111.2 436.7,106.7 432.7,109.9" fill="#00a9ff" stroke="#00334c"/>
<polygon points="410.8,114.9 414.8,109.5 411.7,109.9 407.8,109.6" fill="#0023ff" stroke="#000b4c"/>
<polygon points="385.8,111.2 389.8,111 386.8,109.4 382.8,112.2" fill="#0089ff" stroke="#00294c"/>
<polygon points="442.7,114.5 446.7,109.9 443.7,110.7 439.7,111.2" fill="#0035ff" stroke="#00104c"/>
<polygon points="417.8,112.5 421.8,111.2 418.7,107.5 414.8,109.5" fill="#0078ff" stroke="#00244c"/>
<polygon points="392.8,115.8 396.8,113.2 393.8,113.6 389.8,111" fill="#0023ff" stroke="#000b4c"/>
<polygon points="449.7,111.7 453.7,108.4 450.7,108.6 446.7,109.9" fill="#0099ff" stroke="#002e4c"/>
<polygon points="424.8,113.7 428.7,111.2 425.7,108.2 421.8,111.2" fill="#0068ff" stroke="#001f4c"/>
<polygon points="399.8,114.3 403.8,109.6 400.8,108.4 396.8,113.2" fill="#0057ff" stroke="#001a4c"/>
<polygon points="374.9,110 378.8,110 375.8,109.5 371.8,111.3" fill="#00c9ff" stroke="#003c4c"/>
<polygon points="431.8,114.1 435.7,110.1 432.7,109.9 428.7,111.2" fill="#0068ff" stroke="#001f4c"/>
<polygon points="406.8,116.6 410.8,114.9 407.8,109.6 403.8,109.6" fill="#0023ff" stroke="#000b4c"/>
<polygon points="381.9,113.4 385.8,111.2 382.8,112.2 378.8,110" fill="#0078ff" stroke="#00244c"/>
<polygon points="438.8,114.3 442.7,114.5 439.7,111.2 435.7,110.1" fill="#0068ff" stroke="#001f4c"/>
<polygon points="413.8,114.2 417.8,112.5 414.8,109.5 410.8,114.9" fill="#0068ff" stroke="#001f4c"/>
<polygon points="388.9,114.1 392.8,115.8 389.8,111 385.8,111.2" fill="#0078ff" stroke="#00244c"/>
<polygon points="445.8,115 449.7,111.7 446.7,109.9 442.7,114.5" fill="#0068ff" stroke="#001f4c"/>
<polygon points="420.8,119.5 424.8,113.7 421.8,111.2 417.8,112.5" fill="#0000ff" stroke="#00004c"/>
<polygon points="395.9,116.2 399.8,114.3 396.8,113.2 392.8,115.8" fill="#0046ff" stroke="#00154c"/>
<polygon points="427.8,118 431.8,114.1 428.7,111.2 424.8,113.7" fill="#0023ff" stroke="#000b4c"/>
<polygon points="402.8,119 406.8,116.6 403.8,109.6 399.8,114.3" fill="#0002ff" stroke="#00004c"/>
<polygon points="377.9,115.4 381.9,113.4 378.8,110 374.9,110" fill="#0068ff" stroke="#001f4c"/>
<polygon points="434.8,118.4 438.8,114.3 435.7,110.1 431.8,114.1" fill="#0023ff" stroke="#000b4c"/>
<polygon points="409.8,115.5 413.8,114.2 410.8,114.9 406.8,116.6" fill="#0078ff" stroke="#00244c"/>
<polygon points="384.9,115 388.9,114.1 385.8,111.2 381.9,113.4" fill="#0089ff" stroke="#00294c"/>
<polygon points="441.8,115.6 445.8,115 442.7,114.5 438.8,114.3" fill="#0078ff" stroke="#00244c"/>
<polygon points="416.8,116.8 420.8,119.5 417.8,112.5 413.8,114.2" fill="#0057ff" stroke="#001a4c"/>
<polygon points="391.9,115.9 395.9,116.2 392.8,115.8 388.9,114.1" fill="#0078ff" stroke="#00244c"/>
<polygon points="423.8,116.7 427.8,118 424.8,113.7 420.8,119.5" fill="#0068ff" stroke="#001f4c"/>
<polygon points="398.9,117.8 402.8,119 399.8,114.3 395.9,116.2" fill="#0057ff" stroke="#001a4c"/>
<polygon points="430.8,118.1 434.8,118.4 431.8,114.1 427.8,118" fill="#0057ff" stroke="#001a4c"/>
<polygon points="405.9,115.1 409.8,115.5 406.8,116.6 402.8,119" fill="#00a9ff" stroke="#00334c"/>
<polygon points="380.9,116 384.9,115 381.9,113.4 377.9,115.4" fill="#0089ff" stroke="#00294c"/>
<polygon points="437.8,116.3 441.8,115.6 438.8,114.3 434.8,118.4" fill="#0099ff" stroke="#002e4c"/>
<polygon points="412.9,118.7 416.8,116.8 413.8,114.2 409.8,115.5" fill="#0057ff" stroke="#001a4c"/>
<polygon points="387.9,118.9 391.9,115.9 388.9,114.1 384.9,115" fill="#0057ff" stroke="#001a4c"/>
<polygon points="419.9,118.4 423.8,116.7 420.8,119.5 416.8,116.8" fill="#0068ff" stroke="#001f4c"/>
<polygon points="394.9,118.6 398.9,117.8 395.9,116.2 391.9,115.9" fill="#0068ff" stroke="#001f4c"/>
<polygon points="426.9,119.6 430.8,118.1 427.8,118 423.8,116.7" fill="#0057ff" stroke="#001a4c"/>
<polygon points="401.9,118.9 405.9,115.1 402.8,119 398.9,117.8" fill="#0068ff" stroke="#001f4c"/>
<polygon points="433.8,120.9 437.8,116.3 434.8,118.4 430.8,118.1" fill="#0046ff" stroke="#00154c"/>
<polygon points="408.9,116.9 412.9,118.7 409.8,115.5 405.9,115.1" fill="#00a9ff" stroke="#00334c"/>
<polygon points="383.9,117.5 387.9,118.9 384.9,115 380.9,116" fill="#0099ff" stroke="#002e4c"/>
<polygon points="415.9,119 419.9,118.4 416.8,116.8 412.9,118.7" fill="#0089ff" stroke="#00294c"/>
<polygon points="390.9,118.5 394.9,118.6 391.9,115.9 387.9,118.9" fill="#0099ff" stroke="#002e4c"/>
<polygon points="422.9,121 426.9,119.6 423.8,116.7 419.9,118.4" fill="#0057ff" stroke="#001a4c"/>
<polygon points="397.9,119.4 401.9,118.9 398.9,117.8 394.9,118.6" fill="#0089ff" stroke="#00294c"/>
<polygon points="429.9,121.1 433.8,120.9 430.8,118.1 426.9,119.6" fill="#0068ff" stroke="#001f4c"/>
<polygon points="404.9,118 408.9,116.9 405.9,115.1 401.9,118.9" fill="#00b9ff" stroke="#00374c"/>
<polygon points="411.9,119.7 415.9,119 412.9,118.7 408.9,116.9" fill="#0099ff" stroke="#002e4c"/>
<polygon points="387,118.2 390.9,118.5 387.9,118.9 383.9,117.5" fill="#00c9ff" stroke="#003c4c"/>
<polygon points="418.9,120.1 422.9,121 419.9,118.4 415.9,119" fill="#0099ff" stroke="#002e4c"/>
<polygon points="394,119.8 397.9,119.4 394.9,118.6 390.9,118.5" fill="#00a9ff" stroke="#00334c"/>
<polygon points="425.9,123.5 429.9,121.1 426.9,119.6 422.9,121" fill="#0046ff" stroke="#00154c"/>
<polygon points="401,120.5 404.9,118 401.9,118.9 397.9,119.4" fill="#0099ff" stroke="#002e4c"/>
<polygon points="408,124.1 411.9,119.7 408.9,116.9 404.9,118" fill="#0046ff" stroke="#00154c"/>
<polygon points="414.9,123.3 418.9,120.1 415.9,119 411.9,119.7" fill="#0068ff" stroke="#001f4c"/>
<polygon points="390,121.4 394,119.8 390.9,118.5 387,118.2" fill="#00a9ff" stroke="#00334c"/>
<polygon points="421.9,123.9 425.9,123.5 422.9,121 418.9,120.1" fill="#0068ff" stroke="#001f4c"/>
<polygon points="397,125.1 401,120.5 397.9,119.4 394,119.8" fill="#0046ff" stroke="#00154c"/>
<polygon points="404,128.7 408,124.1 404.9,118 401,120.5" fill="#0000ff" stroke="#00004c"/>
<polygon points="411,125.9 414.9,123.3 411.9,119.7 408,124.1" fill="#0057ff" stroke="#001a4c"/>
<polygon points="418,127.4 421.9,123.9 418.9,120.1 414.9,123.3" fill="#0035ff" stroke="#00104c"/>
<polygon points="393,124.2 397,125.1 394,119.8 390,121.4" fill="#0089ff" stroke="#00294c"/>
<polygon points="400,129.6 404,128.7 401,120.5 397,125.1" fill="#0002ff" stroke="#00004c"/>
<polygon points="407,129.8 411,125.9 408,124.1 404,128.7" fill="#0011ff" stroke="#00054c"/>
<polygon points="414,130.7 418,127.4 414.9,123.3 411,125.9" fill="#0002ff" stroke="#00004c"/>
<polygon points="396.1,128.9 400,129.6 397,125.1 393,124.2" fill="#0046ff" stroke="#00154c"/>
<polygon points="403,129.3 407,129.8 404,128.7 400,129.6" fill="#0046ff" stroke="#00154c"/>
<polygon points="410,131.9 414,130.7 411,125.9 407,129.8" fill="#0011ff" stroke="#00054c"/>
<polygon points="399.1,131.2 403,129.3 400,129.6 396.1,128.9" fill="#0035ff" stroke="#00104c"/>
<polygon points="406.1,128.3 410,131.9 407,129.8 403,129.3" fill="#0099ff" stroke="#002e4c"/>
<polygon points="402.1,130.1 406.1,128.3 403,129.3 399.1,131.2" fill="#0089ff" stroke="#00294c"/>
</g>
<rect x="477.6" y="22.9" width="6.4" height="2.3" fill="#9f0000"/>
<rect x="477.6" y="24.9" width="6.4" height="2.3" fill="#b20000"/>
<rect x="477.6" y="27" width="6.4" height="2.3" fill="#c40000"/>
<rect x="477.6" y="29" width="6.4" height="2.3" fill="#d70000"/>
<rect x="477.6" y="31" width="6.4" height="2.3" fill="#e90000"/>
<rect x="477.6" y="33" width="6.4" height="2.3" fill="#fb0000"/>
<rect x="477.6" y="35.1" width="6.4" height="2.3" fill="#ff0000"/>
<rect x="477.6" y="37.1" width="6.4" height="2.3" fill="#ff0000"/>
<rect x="477.6" y="39.1" width="6.4" height="2.3" fill="#ff0200"/>
<rect x="477.6" y="41.1" width="6.4" height="2.3" fill="#ff1100"/>
<rect x="477.6" y="43.2" width="6.4" height="2.3" fill="#ff2300"/>
<rect x="477.6" y="45.2" width="6.4" height="2.3" fill="#ff3500"/>
<rect x="477.6" y="47.2" width="6.4" height="2.3" fill="#ff4600"/>
<rect x="477.6" y="49.2" width="6.4" height="2.3" fill="#ff5700"/>
<rect x="477.6" y="51.2" width="6.4" height="2.3" fill="#ff6800"/>
<rect x="477.6" y="53.3" width="6.4" height="2.3" fill="#ff7800"/>
<rect x="477.6" y="55.3" width="6.4" height="2.3" fill="#ff8900"/>
<rect x="477.6" y="57.3" width="6.4" height="2.3" fill="#ff9900"/>
<rect x="477.6" y="59.4" width="6.4" height="2.3" fill="#ffa900"/>
<rect x="477.6" y="61.4" width="6.4" height="2.3" fill="#ffb900"/>
<rect x="477.6" y="63.4" width="6.4" height="2.3" fill="#ffc900"/>
<rect x="477.6" y="65.4" width="6.4" height="2.3" fill="#ffd800"/>
<rect x="477.6" y="67.5" width="6.4" height="2.3" fill="#ffe800"/>
<rect x="477.6" y="69.5" width="6.4" height="2.3" fill="#fff700"/>
<rect x="477.6" y="71.5" width="6.4" height="2.3" fill="#f4ff00"/>
<rect x="477.6" y="73.5" width="6.4" height="2.3" fill="#deff00"/>
<rect x="477.6" y="75.6" width="6.4" height="2.3" fill="#c6ff00"/>
<rect x="477.6" y="77.6" width="6.4" height="2.3" fill="#acff00"/>
<rect x="477.6" y="79.6" width="6.4" height="2.3" fill="#90ff28"/>
<rect x="477.6" y="81.6" width="6.4" height="2.3" fill="#6eff43"/>
<rect x="477.6" y="83.7" width="6.4" height="2.3" fill="#3dff59"/>
<rect x="477.6" y="85.7" width="6.4" height="2.3" fill="#00ff6d"/>
<rect x="477.6" y="87.7" width="6.4" height="2.3" fill="#00ff80"/>
<rect x="477.6" y="89.7" width="6.4" height="2.3" fill="#00ff92"/>
<rect x="477.6" y="91.8" width="6.4" height="2.3" fill="#00ffa4"/>
<rect x="477.6" y="93.8" width="6.4" height="2.3" fill="#00ffb5"/>
<rect x="477.6" y="95.8" width="6.4" height="2.3" fill="#00ffc6"/>
<rect x="477.6" y="97.8" width="6.4" height="2.3" fill="#00ffd6"/>
<rect x="477.6" y="99.9" width="6.4" height="2.3" fill="#00ffe7"/>
<rect x="477.6" y="101.9" width="6.4" height="2.3" fill="#00fff7"/>
<rect x="477.6" y="103.9" width="6.4" height="2.3" fill="#00f7ff"/>
<rect x="477.6" y="105.9" width="6.4" height="2.3" fill="#00e8ff"/>
<rect x="477.6" y="108" width="6.4" height="2.3" fill="#00d8ff"/>
<rect x="477.6" y="110" width="6.4" height="2.3" fill="#00c9ff"/>
<rect x="477.6" y="112" width="6.4" height="2.3" fill="#00b9ff"/>
<rect x="477.6" y="114" width="6.4" height="2.3" fill="#00a9ff"/>
<rect x="477.6" y="116" width="6.4" height="2.3" fill="#0099ff"/>
<rect x="477.6" y="118.1" width="6.4" height="2.3" fill="#0089ff"/>
<rect x="477.6" y="120.1" width="6.4" height="2.3" fill="#0078ff"/>
<rect x="477.6" y="122.1" width="6.4" height="2.3" fill="#0068ff"/>
<rect x="477.6" y="124.2" width="6.4" height="2.3" fill="#0057ff"/>
<rect x="477.6" y="126.2" width="6.4" height="2.3" fill="#0046ff"/>
<rect x="477.6" y="128.2" width="6.4" height="2.3" fill="#0035ff"/>
<rect x="477.6" y="130.2" width="6.4" height="2.3" fill="#0023ff"/>
<rect x="477.6" y="132.2" width="6.4" height="2.3" fill="#0011ff"/>
<rect x="477.6" y="134.3" width="6.4" height="2.3" fill="#0002ff"/>
<rect x="477.6" y="136.3" width="6.4" height="2.3" fill="#0000ff"/>
<rect x="477.6" y="138.3" width="6.4" height="2.3" fill="#0000fb"/>
<rect x="477.6" y="140.3" width="6.4" height="2.3" fill="#0000f5"/>
<rect x="477.6" y="142.4" width="6.4" height="2.3" fill="#0000ee"/>
<rect x="477.6" y="144.4" width="6.4" height="2.3" fill="#0000e7"/>
<rect x="477.6" y="146.4" width="6.4" height="2.3" fill="#0000df"/>
<rect x="477.6" y="148.4" width="6.4" height="2.3" fill="#0000d6"/>
<rect x="477.6" y="150.5" width="6.4" height="2.3" fill="#0000cb"/>
<rect x="477.6" y="22.9" width="6.4" height="129.6" fill="none" stroke="#444" stroke-width="0.4"/>
<text x="484.6" y="156.1" text-anchor="start" font-size="8.4">-200</text>
<text x="484.6" y="126.1" text-anchor="start" font-size="8.4">0</text>
<text x="484.6" y="96.1" text-anchor="start" font-size="8.4">200</text>
<text x="484.6" y="66.1" text-anchor="start" font-size="8.4">400</text>
<text x="484.6" y="36.1" text-anchor="start" font-size="8.4">600</text>
<g stroke="#dcdcdc" stroke-width="0.8">
<line x1="103.2" y1="337.9" x2="54.8" y2="305.8"/>
<line x1="54.8" y1="305.8" x2="54.8" y2="236.3"/>
<line x1="123" y1="330.3" x2="74.6" y2="298.2"/>
<line x1="74.6" y1="298.2" x2="74.6" y2="228.7"/>
<line x1="142.9" y1="322.6" x2="94.5" y2="290.5"/>
<line x1="94.5" y1="290.5" x2="94.5" y2="221.1"/>
<line x1="75.2" y1="336" x2="138.7" y2="311.6"/>
<line x1="138.7" y1="311.6" x2="138.7" y2="242.1"/>
<line x1="60.1" y1="325.9" x2="123.6" y2="301.5"/>
<line x1="123.6" y1="301.5" x2="123.6" y2="232.1"/>
<line x1="44.9" y1="315.9" x2="108.5" y2="291.5"/>
<line x1="108.5" y1="291.5" x2="108.5" y2="222.1"/>
<line x1="38.9" y1="311.9" x2="102.4" y2="287.5"/>
<line x1="102.4" y1="287.5" x2="150.8" y2="319.6"/>
<line x1="38.9" y1="277.2" x2="102.4" y2="252.8"/>
<line x1="102.4" y1="252.8" x2="150.8" y2="284.9"/>
<line x1="38.9" y1="242.4" x2="102.4" y2="218.1"/>
<line x1="102.4" y1="218.1" x2="150.8" y2="250.2"/>
</g>
<g stroke="#9a9a9a" stroke-width="0.9">
<line x1="38.9" y1="311.9" x2="38.9" y2="242.4"/>
<line x1="38.9" y1="311.9" x2="87.3" y2="344"/>
<line x1="87.3" y1="344" x2="150.8" y2="319.6"/>
<line x1="38.9" y1="311.9" x2="37.4" y2="311.9"/>
<line x1="38.9" y1="277.2" x2="37.4" y2="277.2"/>
<line x1="38.9" y1="242.4" x2="37.4" y2="242.4"/>
<line x1="75.2" y1="336" x2="73.6" y2="336.6"/>
<line x1="60.1" y1="325.9" x2="58.5" y2="326.5"/>
<line x1="44.9" y1="315.9" x2="43.3" y2="316.5"/>
<line x1="103.2" y1="337.9" x2="104.4" y2="338.9"/>
<line x1="123" y1="330.3" x2="124.2" y2="331.3"/>
<line x1="142.9" y1="322.6" x2="144.1" y2="323.6"/>
</g>
<text x="36" y="313.9" text-anchor="end" font-size="8.4">0</text>
<text x="36" y="279.2" text-anchor="end" font-size="8.4">5000</text>
<text x="36" y="245.2" text-anchor="end" font-size="8.4">10000</text>
<text x="72.4" y="346.3" text-anchor="end" font-size="8.4">5</text>
<text x="57.3" y="336.2" text-anchor="end" font-size="8.4">10</text>
<text x="42.1" y="326.2" text-anchor="end" font-size="8.4">15</text>
<text x="105.7" y="348.5" text-anchor="start" font-size="8.4">5</text>
<text x="125.5" y="340.9" text-anchor="start" font-size="8.4">10</text>
<text x="145.4" y="333.2" text-anchor="start" font-size="8.4">15</text>
<text x="37.9" y="360.5" text-anchor="middle" font-size="8.4">y (px)</text>
<text x="140.3" y="362.2" text-anchor="middle" font-size="8.4">x (px)</text>
<text transform="translate(8.7 278) rotate(-90)" text-anchor="middle" font-size="8.4">Intensity</text>
<text x="95.1" y="212.3" text-anchor="middle" font-size="8.55">Original</text>
<g stroke-width="0.42" stroke-linejoin="round">
<polygon points="101.5,287.2 105.4,285.9 102.4,283.8 98.4,285.4" fill="#0000cb" stroke="#000051"/>
<polygon points="97.5,288.8 101.5,287.2 98.4,285.4 94.5,286.7" fill="#0000cb" stroke="#000051"/>
<polygon points="104.5,289 108.5,287.8 105.4,285.9 101.5,287.2" fill="#0000d6" stroke="#000056"/>
<polygon points="93.5,289.9 97.5,288.8 94.5,286.7 90.5,288.2" fill="#0000d6" stroke="#000056"/>
<polygon points="100.5,290.6 104.5,289 101.5,287.2 97.5,288.8" fill="#0000d6" stroke="#000056"/>
<polygon points="107.5,291 111.5,289.8 108.5,287.8 104.5,289" fill="#0000d6" stroke="#000056"/>
<polygon points="89.6,291.2 93.5,289.9 90.5,288.2 86.5,289.2" fill="#0000d6" stroke="#000056"/>
<polygon points="96.5,291.7 100.5,290.6 97.5,288.8 93.5,289.9" fill="#0000d6" stroke="#000056"/>
<polygon points="103.5,292.1 107.5,291 104.5,289 100.5,290.6" fill="#0000d6" stroke="#000056"/>
<polygon points="110.5,292.6 114.5,291.6 111.5,289.8 107.5,291" fill="#0000d6" stroke="#000056"/>
<polygon points="85.6,292.8 89.6,291.2 86.5,289.2 82.6,291" fill="#0000d6" stroke="#000056"/>
<polygon points="92.6,293 96.5,291.7 93.5,289.9 89.6,291.2" fill="#0000d6" stroke="#000056"/>
<polygon points="99.6,293.3 103.5,292.1 100.5,290.6 96.5,291.7" fill="#0000df" stroke="#000059"/>
<polygon points="106.6,293.8 110.5,292.6 107.5,291 103.5,292.1" fill="#0000df" stroke="#000059"/>
<polygon points="81.6,294 85.6,292.8 82.6,291 78.6,292.3" fill="#0000d6" stroke="#000056"/>
<polygon points="113.6,294.8 117.5,293.4 114.5,291.6 110.5,292.6" fill="#0000d6" stroke="#000056"/>
<polygon points="88.6,294 92.6,293 89.6,291.2 85.6,292.8" fill="#0000df" stroke="#000059"/>
<polygon points="95.6,294.4 99.6,293.3 96.5,291.7 92.6,293" fill="#0000df" stroke="#000059"/>
<polygon points="102.6,294.7 106.6,293.8 103.5,292.1 99.6,293.3" fill="#0000df" stroke="#000059"/>
<polygon points="77.6,295.6 81.6,294 78.6,292.3 74.6,293.8" fill="#0000d6" stroke="#000056"/>
<polygon points="109.6,295.4 113.6,294.8 110.5,292.6 106.6,293.8" fill="#0000df" stroke="#000059"/>
<polygon points="84.6,295.2 88.6,294 85.6,292.8 81.6,294" fill="#0000df" stroke="#000059"/>
<polygon points="116.6,296.4 120.6,295.3 117.5,293.4 113.6,294.8" fill="#0000d6" stroke="#000056"/>
<polygon points="91.6,295.6 95.6,294.4 92.6,293 88.6,294" fill="#0000e7" stroke="#00005c"/>
<polygon points="98.6,296.2 102.6,294.7 99.6,293.3 95.6,294.4" fill="#0000df" stroke="#000059"/>
<polygon points="73.7,297.1 77.6,295.6 74.6,293.8 70.7,295.6" fill="#0000d6" stroke="#000056"/>
<polygon points="105.6,296.5 109.6,295.4 106.6,293.8 102.6,294.7" fill="#0000e7" stroke="#00005c"/>
<polygon points="80.7,297.1 84.6,295.2 81.6,294 77.6,295.6" fill="#0000df" stroke="#000059"/>
<polygon points="112.6,297 116.6,296.4 113.6,294.8 109.6,295.4" fill="#0000e7" stroke="#00005c"/>
<polygon points="87.7,296.6 91.6,295.6 88.6,294 84.6,295.2" fill="#0000e7" stroke="#00005c"/>
<polygon points="119.6,298.3 123.6,297.4 120.6,295.3 116.6,296.4" fill="#0000df" stroke="#000059"/>
<polygon points="94.7,296.8 98.6,296.2 95.6,294.4 91.6,295.6" fill="#0000ee" stroke="#00005f"/>
<polygon points="69.7,298.4 73.7,297.1 70.7,295.6 66.7,296.9" fill="#0000df" stroke="#000059"/>
<polygon points="101.7,297.4 105.6,296.5 102.6,294.7 98.6,296.2" fill="#0000e7" stroke="#00005c"/>
<polygon points="76.7,298.2 80.7,297.1 77.6,295.6 73.7,297.1" fill="#0000e7" stroke="#00005c"/>
<polygon points="108.6,298.1 112.6,297 109.6,295.4 105.6,296.5" fill="#0000e7" stroke="#00005c"/>
<polygon points="83.7,298.2 87.7,296.6 84.6,295.2 80.7,297.1" fill="#0000e7" stroke="#00005c"/>
<polygon points="115.6,299.4 119.6,298.3 116.6,296.4 112.6,297" fill="#0000df" stroke="#000059"/>
<polygon points="90.7,297.8 94.7,296.8 91.6,295.6 87.7,296.6" fill="#0000ee" stroke="#00005f"/>
<polygon points="65.7,300.1 69.7,298.4 66.7,296.9 62.7,298.3" fill="#0000d6" stroke="#000056"/>
<polygon points="122.6,300.3 126.6,299 123.6,297.4 119.6,298.3" fill="#0000df" stroke="#000059"/>
<polygon points="97.7,297.6 101.7,297.4 98.6,296.2 94.7,296.8" fill="#0000f5" stroke="#000062"/>
<polygon points="72.7,300 76.7,298.2 73.7,297.1 69.7,298.4" fill="#0000df" stroke="#000059"/>
<polygon points="104.7,298.6 108.6,298.1 105.6,296.5 101.7,297.4" fill="#0000ee" stroke="#00005f"/>
<polygon points="79.7,299.4 83.7,298.2 80.7,297.1 76.7,298.2" fill="#0000e7" stroke="#00005c"/>
<polygon points="111.7,300 115.6,299.4 112.6,297 108.6,298.1" fill="#0000e7" stroke="#00005c"/>
<polygon points="86.7,298.7 90.7,297.8 87.7,296.6 83.7,298.2" fill="#0000f5" stroke="#000062"/>
<polygon points="61.8,301.5 65.7,300.1 62.7,298.3 58.7,300.4" fill="#0000df" stroke="#000059"/>
<polygon points="118.7,301.1 122.6,300.3 119.6,298.3 115.6,299.4" fill="#0000df" stroke="#000059"/>
<polygon points="93.7,298 97.7,297.6 94.7,296.8 90.7,297.8" fill="#0000fb" stroke="#000064"/>
<polygon points="68.8,301.8 72.7,300 69.7,298.4 65.7,300.1" fill="#0000df" stroke="#000059"/>
<polygon points="125.7,302.6 129.6,301.3 126.6,299 122.6,300.3" fill="#0000d6" stroke="#000056"/>
<polygon points="100.7,298.4 104.7,298.6 101.7,297.4 97.7,297.6" fill="#0000fb" stroke="#000064"/>
<polygon points="75.8,301 79.7,299.4 76.7,298.2 72.7,300" fill="#0000e7" stroke="#00005c"/>
<polygon points="107.7,300.3 111.7,300 108.6,298.1 104.7,298.6" fill="#0000f5" stroke="#000062"/>
<polygon points="82.8,299.7 86.7,298.7 83.7,298.2 79.7,299.4" fill="#0000fb" stroke="#000064"/>
<polygon points="57.8,303.7 61.8,301.5 58.7,300.4 54.8,301.7" fill="#0000d6" stroke="#000056"/>
<polygon points="114.7,301.6 118.7,301.1 115.6,299.4 111.7,300" fill="#0000ee" stroke="#00005f"/>
<polygon points="89.7,297.1 93.7,298 90.7,297.8 86.7,298.7" fill="#0011ff" stroke="#000766"/>
<polygon points="64.8,303.7 68.8,301.8 65.7,300.1 61.8,301.5" fill="#0000d6" stroke="#000056"/>
<polygon points="121.7,303.2 125.7,302.6 122.6,300.3 118.7,301.1" fill="#0000df" stroke="#000059"/>
<polygon points="96.7,295.9 100.7,298.4 97.7,297.6 93.7,298" fill="#0035ff" stroke="#001566"/>
<polygon points="71.8,303 75.8,301 72.7,300 68.8,301.8" fill="#0000e7" stroke="#00005c"/>
<polygon points="128.7,304.5 132.7,303.3 129.6,301.3 125.7,302.6" fill="#0000d6" stroke="#000056"/>
<polygon points="103.7,298.6 107.7,300.3 104.7,298.6 100.7,298.4" fill="#0011ff" stroke="#000766"/>
<polygon points="78.8,301.3 82.8,299.7 79.7,299.4 75.8,301" fill="#0000f5" stroke="#000062"/>
<polygon points="53.8,305.3 57.8,303.7 54.8,301.7 50.8,303.4" fill="#0000d6" stroke="#000056"/>
<polygon points="110.7,301.7 114.7,301.6 111.7,300 107.7,300.3" fill="#0000f5" stroke="#000062"/>
<polygon points="85.8,297.1 89.7,297.1 86.7,298.7 82.8,299.7" fill="#0035ff" stroke="#001566"/>
<polygon points="60.8,305.5 64.8,303.7 61.8,301.5 57.8,303.7" fill="#0000d6" stroke="#000056"/>
<polygon points="117.7,304.1 121.7,303.2 118.7,301.1 114.7,301.6" fill="#0000e7" stroke="#00005c"/>
<polygon points="92.8,290 96.7,295.9 93.7,298 89.7,297.1" fill="#00c9ff" stroke="#005066"/>
<polygon points="67.8,304.9 71.8,303 68.8,301.8 64.8,303.7" fill="#0000df" stroke="#000059"/>
<polygon points="124.7,305.6 128.7,304.5 125.7,302.6 121.7,303.2" fill="#0000df" stroke="#000059"/>
<polygon points="99.8,290.3 103.7,298.6 100.7,298.4 96.7,295.9" fill="#00c9ff" stroke="#005066"/>
<polygon points="74.8,303.8 78.8,301.3 75.8,301 71.8,303" fill="#0000ee" stroke="#00005f"/>
<polygon points="49.9,306.9 53.8,305.3 50.8,303.4 46.8,305.3" fill="#0000d6" stroke="#000056"/>
<polygon points="131.7,306.6 135.7,305.8 132.7,303.3 128.7,304.5" fill="#0000d6" stroke="#000056"/>
<polygon points="106.8,298.8 110.7,301.7 107.7,300.3 103.7,298.6" fill="#0035ff" stroke="#001566"/>
<polygon points="81.8,299.7 85.8,297.1 82.8,299.7 78.8,301.3" fill="#0023ff" stroke="#000e66"/>
<polygon points="56.9,306.9 60.8,305.5 57.8,303.7 53.8,305.3" fill="#0000d6" stroke="#000056"/>
<polygon points="113.8,304.2 117.7,304.1 114.7,301.6 110.7,301.7" fill="#0000f5" stroke="#000062"/>
<polygon points="88.8,286.5 92.8,290 89.7,297.1 85.8,297.1" fill="#00ffd6" stroke="#006656"/>
<polygon points="63.8,306.7 67.8,304.9 64.8,303.7 60.8,305.5" fill="#0000df" stroke="#000059"/>
<polygon points="120.7,306.3 124.7,305.6 121.7,303.2 117.7,304.1" fill="#0000e7" stroke="#00005c"/>
<polygon points="95.8,276 99.8,290.3 96.7,295.9 92.8,290" fill="#f4ff00" stroke="#626600"/>
<polygon points="70.8,306.3 74.8,303.8 71.8,303 67.8,304.9" fill="#0000e7" stroke="#00005c"/>
<polygon points="45.9,308.8 49.9,306.9 46.8,305.3 42.9,307" fill="#0000cb" stroke="#000051"/>
<polygon points="127.7,308.1 131.7,306.6 128.7,304.5 124.7,305.6" fill="#0000d6" stroke="#000056"/>
<polygon points="102.8,287.8 106.8,298.8 103.7,298.6 99.8,290.3" fill="#00ffd6" stroke="#006656"/>
<polygon points="77.8,303.5 81.8,299.7 78.8,301.3 74.8,303.8" fill="#0000ff" stroke="#000066"/>
<polygon points="52.9,309.1 56.9,306.9 53.8,305.3 49.9,306.9" fill="#0000cb" stroke="#000051"/>
<polygon points="134.7,308.9 138.7,307.6 135.7,305.8 131.7,306.6" fill="#0000d6" stroke="#000056"/>
<polygon points="109.8,301.6 113.8,304.2 110.7,301.7 106.8,298.8" fill="#0023ff" stroke="#000e66"/>
<polygon points="84.8,291.5 88.8,286.5 85.8,297.1 81.8,299.7" fill="#00e8ff" stroke="#005d66"/>
<polygon points="59.9,308.7 63.8,306.7 60.8,305.5 56.9,306.9" fill="#0000df" stroke="#000059"/>
<polygon points="116.8,306.7 120.7,306.3 117.7,304.1 113.8,304.2" fill="#0000ee" stroke="#00005f"/>
<polygon points="91.8,268.7 95.8,276 92.8,290 88.8,286.5" fill="#ff5700" stroke="#662300"/>
<polygon points="66.9,308.4 70.8,306.3 67.8,304.9 63.8,306.7" fill="#0000df" stroke="#000059"/>
<polygon points="41.9,310.1 45.9,308.8 42.9,307 38.9,308.4" fill="#0000d6" stroke="#000056"/>
<polygon points="123.8,308.5 127.7,308.1 124.7,305.6 120.7,306.3" fill="#0000e7" stroke="#00005c"/>
<polygon points="98.8,268.9 102.8,287.8 99.8,290.3 95.8,276" fill="#ff5700" stroke="#662300"/>
<polygon points="73.9,307.1 77.8,303.5 74.8,303.8 70.8,306.3" fill="#0000f5" stroke="#000062"/>
<polygon points="48.9,310.3 52.9,309.1 49.9,306.9 45.9,308.8" fill="#0000d6" stroke="#000056"/>
<polygon points="130.8,310.3 134.7,308.9 131.7,306.6 127.7,308.1" fill="#0000d6" stroke="#000056"/>
<polygon points="105.8,293 109.8,301.6 106.8,298.8 102.8,287.8" fill="#00e8ff" stroke="#005d66"/>
<polygon points="80.9,300.6 84.8,291.5 81.8,299.7 77.8,303.5" fill="#0057ff" stroke="#002366"/>
<polygon points="55.9,310.8 59.9,308.7 56.9,306.9 52.9,309.1" fill="#0000d6" stroke="#000056"/>
<polygon points="137.8,310.9 141.7,310 138.7,307.6 134.7,308.9" fill="#0000d6" stroke="#000056"/>
<polygon points="112.8,306 116.8,306.7 113.8,304.2 109.8,301.6" fill="#0000ff" stroke="#000066"/>
<polygon points="87.9,279.3 91.8,268.7 88.8,286.5 84.8,291.5" fill="#f4ff00" stroke="#626600"/>
<polygon points="62.9,310.3 66.9,308.4 63.8,306.7 59.9,308.7" fill="#0000df" stroke="#000059"/>
<polygon points="119.8,309.4 123.8,308.5 120.7,306.3 116.8,306.7" fill="#0000e7" stroke="#00005c"/>
<polygon points="94.9,261.7 98.8,268.9 95.8,276 91.8,268.7" fill="#c40000" stroke="#4f0000"/>
<polygon points="69.9,309.7 73.9,307.1 70.8,306.3 66.9,308.4" fill="#0000e7" stroke="#00005c"/>
<polygon points="44.9,312.3 48.9,310.3 45.9,308.8 41.9,310.1" fill="#0000cb" stroke="#000051"/>
<polygon points="126.8,310.8 130.8,310.3 127.7,308.1 123.8,308.5" fill="#0000df" stroke="#000059"/>
<polygon points="101.8,280.1 105.8,293 102.8,287.8 98.8,268.9" fill="#f4ff00" stroke="#626600"/>
<polygon points="76.9,307.4 80.9,300.6 77.8,303.5 73.9,307.1" fill="#0000ff" stroke="#000066"/>
<polygon points="51.9,312.2 55.9,310.8 52.9,309.1 48.9,310.3" fill="#0000d6" stroke="#000056"/>
<polygon points="133.8,312.4 137.8,310.9 134.7,308.9 130.8,310.3" fill="#0000d6" stroke="#000056"/>
<polygon points="108.8,302.2 112.8,306 109.8,301.6 105.8,293" fill="#0057ff" stroke="#002366"/>
<polygon points="83.9,297.4 87.9,279.3 84.8,291.5 80.9,300.6" fill="#00b9ff" stroke="#004a66"/>
<polygon points="58.9,312.1 62.9,310.3 59.9,308.7 55.9,310.8" fill="#0000df" stroke="#000059"/>
<polygon points="140.8,313.3 144.8,311.9 141.7,310 137.8,310.9" fill="#0000d6" stroke="#000056"/>
<polygon points="115.8,309.9 119.8,309.4 116.8,306.7 112.8,306" fill="#0000f5" stroke="#000062"/>
<polygon points="90.9,277.1 94.9,261.7 91.8,268.7 87.9,279.3" fill="#ffb900" stroke="#664a00"/>
<polygon points="65.9,311.9 69.9,309.7 66.9,308.4 62.9,310.3" fill="#0000df" stroke="#000059"/>
<polygon points="122.8,311.8 126.8,310.8 123.8,308.5 119.8,309.4" fill="#0000e7" stroke="#00005c"/>
<polygon points="97.9,277.4 101.8,280.1 98.8,268.9 94.9,261.7" fill="#ffb900" stroke="#664a00"/>
<polygon points="72.9,311.1 76.9,307.4 73.9,307.1 69.9,309.7" fill="#0000ee" stroke="#00005f"/>
<polygon points="48,313.9 51.9,312.2 48.9,310.3 44.9,312.3" fill="#0000d6" stroke="#000056"/>
<polygon points="129.8,313.5 133.8,312.4 130.8,310.3 126.8,310.8" fill="#0000d6" stroke="#000056"/>
<polygon points="104.9,298.5 108.8,302.2 105.8,293 101.8,280.1" fill="#00c9ff" stroke="#005066"/>
<polygon points="79.9,307.5 83.9,297.4 80.9,300.6 76.9,307.4" fill="#0011ff" stroke="#000766"/>
<polygon points="55,314.5 58.9,312.1 55.9,310.8 51.9,312.2" fill="#0000d6" stroke="#000056"/>
<polygon points="136.8,314.5 140.8,313.3 137.8,310.9 133.8,312.4" fill="#0000d6" stroke="#000056"/>
<polygon points="111.9,309.6 115.8,309.9 112.8,306 108.8,302.2" fill="#0000ff" stroke="#000066"/>
<polygon points="86.9,297.8 90.9,277.1 87.9,279.3 83.9,297.4" fill="#00d8ff" stroke="#005666"/>
<polygon points="62,313.9 65.9,311.9 62.9,310.3 58.9,312.1" fill="#0000df" stroke="#000059"/>
<polygon points="143.8,315.4 147.8,314.1 144.8,311.9 140.8,313.3" fill="#0000cb" stroke="#000051"/>
<polygon points="118.9,313.2 122.8,311.8 119.8,309.4 115.8,309.9" fill="#0000e7" stroke="#00005c"/>
<polygon points="93.9,289.7 97.9,277.4 94.9,261.7 90.9,277.1" fill="#00ff80" stroke="#006633"/>
<polygon points="69,313.5 72.9,311.1 69.9,309.7 65.9,311.9" fill="#0000e7" stroke="#00005c"/>
<polygon points="125.8,314.8 129.8,313.5 126.8,310.8 122.8,311.8" fill="#0000df" stroke="#000059"/>
<polygon points="100.9,298.7 104.9,298.5 101.8,280.1 97.9,277.4" fill="#00d8ff" stroke="#005666"/>
<polygon points="76,312.4 79.9,307.5 76.9,307.4 72.9,311.1" fill="#0000f5" stroke="#000062"/>
<polygon points="51,316.2 55,314.5 51.9,312.2 48,313.9" fill="#0000cb" stroke="#000051"/>
<polygon points="132.8,315.8 136.8,314.5 133.8,312.4 129.8,313.5" fill="#0000d6" stroke="#000056"/>
<polygon points="107.9,309.5 111.9,309.6 108.8,302.2 104.9,298.5" fill="#0011ff" stroke="#000766"/>
<polygon points="82.9,309.7 86.9,297.8 83.9,297.4 79.9,307.5" fill="#0011ff" stroke="#000766"/>
<polygon points="58,316.1 62,313.9 58.9,312.1 55,314.5" fill="#0000d6" stroke="#000056"/>
<polygon points="139.8,316.9 143.8,315.4 140.8,313.3 136.8,314.5" fill="#0000cb" stroke="#000051"/>
<polygon points="114.9,314.1 118.9,313.2 115.8,309.9 111.9,309.6" fill="#0000ee" stroke="#00005f"/>
<polygon points="89.9,304.6 93.9,289.7 90.9,277.1 86.9,297.8" fill="#0078ff" stroke="#003066"/>
<polygon points="65,315.7 69,313.5 65.9,311.9 62,313.9" fill="#0000df" stroke="#000059"/>
<polygon points="146.8,317.4 150.8,316.3 147.8,314.1 143.8,315.4" fill="#0000cb" stroke="#000051"/>
<polygon points="121.9,315.6 125.8,314.8 122.8,311.8 118.9,313.2" fill="#0000e7" stroke="#00005c"/>
<polygon points="96.9,305.2 100.9,298.7 97.9,277.4 93.9,289.7" fill="#0078ff" stroke="#003066"/>
<polygon points="72,315.5 76,312.4 72.9,311.1 69,313.5" fill="#0000e7" stroke="#00005c"/>
<polygon points="128.9,317.2 132.8,315.8 129.8,313.5 125.8,314.8" fill="#0000d6" stroke="#000056"/>
<polygon points="103.9,311.1 107.9,309.5 104.9,298.5 100.9,298.7" fill="#0011ff" stroke="#000766"/>
<polygon points="79,314.5 82.9,309.7 79.9,307.5 76,312.4" fill="#0000f5" stroke="#000062"/>
<polygon points="54,317.9 58,316.1 55,314.5 51,316.2" fill="#0000d6" stroke="#000056"/>
<polygon points="135.9,318.2 139.8,316.9 136.8,314.5 132.8,315.8" fill="#0000d6" stroke="#000056"/>
<polygon points="110.9,314.8 114.9,314.1 111.9,309.6 107.9,309.5" fill="#0000f5" stroke="#000062"/>
<polygon points="86,312.6 89.9,304.6 86.9,297.8 82.9,309.7" fill="#0002ff" stroke="#000166"/>
<polygon points="61,317.8 65,315.7 62,313.9 58,316.1" fill="#0000d6" stroke="#000056"/>
<polygon points="142.9,318.9 146.8,317.4 143.8,315.4 139.8,316.9" fill="#0000cb" stroke="#000051"/>
<polygon points="117.9,317.1 121.9,315.6 118.9,313.2 114.9,314.1" fill="#0000e7" stroke="#00005c"/>
<polygon points="93,311.8 96.9,305.2 93.9,289.7 89.9,304.6" fill="#0011ff" stroke="#000766"/>
<polygon points="68,317.7 72,315.5 69,313.5 65,315.7" fill="#0000df" stroke="#000059"/>
<polygon points="124.9,318.4 128.9,317.2 125.8,314.8 121.9,315.6" fill="#0000df" stroke="#000059"/>
<polygon points="100,313.8 103.9,311.1 100.9,298.7 96.9,305.2" fill="#0000ff" stroke="#000066"/>
<polygon points="75,317.1 79,314.5 76,312.4 72,315.5" fill="#0000ee" stroke="#00005f"/>
<polygon points="131.9,319.4 135.9,318.2 132.8,315.8 128.9,317.2" fill="#0000d6" stroke="#000056"/>
<polygon points="107,316.6 110.9,314.8 107.9,309.5 103.9,311.1" fill="#0000f5" stroke="#000062"/>
<polygon points="82,316.3 86,312.6 82.9,309.7 79,314.5" fill="#0000f5" stroke="#000062"/>
<polygon points="57,320.1 61,317.8 58,316.1 54,317.9" fill="#0000d6" stroke="#000056"/>
<polygon points="138.9,320.2 142.9,318.9 139.8,316.9 135.9,318.2" fill="#0000d6" stroke="#000056"/>
<polygon points="113.9,318.3 117.9,317.1 114.9,314.1 110.9,314.8" fill="#0000e7" stroke="#00005c"/>
<polygon points="89,316.2 93,311.8 89.9,304.6 86,312.6" fill="#0000fb" stroke="#000064"/>
<polygon points="64,319.9 68,317.7 65,315.7 61,317.8" fill="#0000d6" stroke="#000056"/>
<polygon points="120.9,319.8 124.9,318.4 121.9,315.6 117.9,317.1" fill="#0000df" stroke="#000059"/>
<polygon points="96,316.8 100,313.8 96.9,305.2 93,311.8" fill="#0000fb" stroke="#000064"/>
<polygon points="71,319.3 75,317.1 72,315.5 68,317.7" fill="#0000e7" stroke="#00005c"/>
<polygon points="127.9,320.9 131.9,319.4 128.9,317.2 124.9,318.4" fill="#0000d6" stroke="#000056"/>
<polygon points="103,317.8 107,316.6 103.9,311.1 100,313.8" fill="#0000f5" stroke="#000062"/>
<polygon points="78,319.2 82,316.3 79,314.5 75,317.1" fill="#0000e7" stroke="#00005c"/>
<polygon points="134.9,321.9 138.9,320.2 135.9,318.2 131.9,319.4" fill="#0000cb" stroke="#000051"/>
<polygon points="110,319.8 113.9,318.3 110.9,314.8 107,316.6" fill="#0000e7" stroke="#00005c"/>
<polygon points="85,319.3 89,316.2 86,312.6 82,316.3" fill="#0000ee" stroke="#00005f"/>
<polygon points="60.1,321.7 64,319.9 61,317.8 57,320.1" fill="#0000d6" stroke="#000056"/>
<polygon points="117,321.2 120.9,319.8 117.9,317.1 113.9,318.3" fill="#0000df" stroke="#000059"/>
<polygon points="92,319.3 96,316.8 93,311.8 89,316.2" fill="#0000ee" stroke="#00005f"/>
<polygon points="67.1,321.8 71,319.3 68,317.7 64,319.9" fill="#0000d6" stroke="#000056"/>
<polygon points="124,322 127.9,320.9 124.9,318.4 120.9,319.8" fill="#0000df" stroke="#000059"/>
<polygon points="99,320.2 103,317.8 100,313.8 96,316.8" fill="#0000ee" stroke="#00005f"/>
<polygon points="74.1,322 78,319.2 75,317.1 71,319.3" fill="#0000df" stroke="#000059"/>
<polygon points="131,323 134.9,321.9 131.9,319.4 127.9,320.9" fill="#0000d6" stroke="#000056"/>
<polygon points="106,321.4 110,319.8 107,316.6 103,317.8" fill="#0000e7" stroke="#00005c"/>
<polygon points="81.1,321.8 85,319.3 82,316.3 78,319.2" fill="#0000e7" stroke="#00005c"/>
<polygon points="113,322.7 117,321.2 113.9,318.3 110,319.8" fill="#0000df" stroke="#000059"/>
<polygon points="88,322.2 92,319.3 89,316.2 85,319.3" fill="#0000e7" stroke="#00005c"/>
<polygon points="63.1,323.5 67.1,321.8 64,319.9 60.1,321.7" fill="#0000d6" stroke="#000056"/>
<polygon points="120,323.6 124,322 120.9,319.8 117,321.2" fill="#0000d6" stroke="#000056"/>
<polygon points="95,322.2 99,320.2 96,316.8 92,319.3" fill="#0000e7" stroke="#00005c"/>
<polygon points="70.1,323.9 74.1,322 71,319.3 67.1,321.8" fill="#0000d6" stroke="#000056"/>
<polygon points="127,324.5 131,323 127.9,320.9 124,322" fill="#0000d6" stroke="#000056"/>
<polygon points="102,323 106,321.4 103,317.8 99,320.2" fill="#0000e7" stroke="#00005c"/>
<polygon points="77.1,323.9 81.1,321.8 78,319.2 74.1,322" fill="#0000df" stroke="#000059"/>
<polygon points="109,324.2 113,322.7 110,319.8 106,321.4" fill="#0000df" stroke="#000059"/>
<polygon points="84.1,324 88,322.2 85,319.3 81.1,321.8" fill="#0000df" stroke="#000059"/>
<polygon points="116,324.9 120,323.6 117,321.2 113,322.7" fill="#0000df" stroke="#000059"/>
<polygon points="91.1,324.5 95,322.2 92,319.3 88,322.2" fill="#0000df" stroke="#000059"/>
<polygon points="66.1,326 70.1,323.9 67.1,321.8 63.1,323.5" fill="#0000d6" stroke="#000056"/>
<polygon points="123,326.1 127,324.5 124,322 120,323.6" fill="#0000d6" stroke="#000056"/>
<polygon points="98.1,324.6 102,323 99,320.2 95,322.2" fill="#0000e7" stroke="#00005c"/>
<polygon points="73.1,325.9 77.1,323.9 74.1,322 70.1,323.9" fill="#0000d6" stroke="#000056"/>
<polygon points="105.1,325.7 109,324.2 106,321.4 102,323" fill="#0000df" stroke="#000059"/>
<polygon points="80.1,326.1 84.1,324 81.1,321.8 77.1,323.9" fill="#0000df" stroke="#000059"/>
<polygon points="112.1,326.5 116,324.9 113,322.7 109,324.2" fill="#0000df" stroke="#000059"/>
<polygon points="87.1,326.4 91.1,324.5 88,322.2 84.1,324" fill="#0000df" stroke="#000059"/>
<polygon points="119.1,327.6 123,326.1 120,323.6 116,324.9" fill="#0000d6" stroke="#000056"/>
<polygon points="94.1,326.9 98.1,324.6 95,322.2 91.1,324.5" fill="#0000df" stroke="#000059"/>
<polygon points="69.2,328 73.1,325.9 70.1,323.9 66.1,326" fill="#0000d6" stroke="#000056"/>
<polygon points="101.1,327.7 105.1,325.7 102,323 98.1,324.6" fill="#0000d6" stroke="#000056"/>
<polygon points="76.1,328.1 80.1,326.1 77.1,323.9 73.1,325.9" fill="#0000d6" stroke="#000056"/>
<polygon points="108.1,327.9 112.1,326.5 109,324.2 105.1,325.7" fill="#0000df" stroke="#000059"/>
<polygon points="83.1,328.4 87.1,326.4 84.1,324 80.1,326.1" fill="#0000d6" stroke="#000056"/>
<polygon points="115.1,329.1 119.1,327.6 116,324.9 112.1,326.5" fill="#0000d6" stroke="#000056"/>
<polygon points="90.1,328.7 94.1,326.9 91.1,324.5 87.1,326.4" fill="#0000df" stroke="#000059"/>
<polygon points="97.1,329.2 101.1,327.7 98.1,324.6 94.1,326.9" fill="#0000df" stroke="#000059"/>
<polygon points="72.2,330.3 76.1,328.1 73.1,325.9 69.2,328" fill="#0000cb" stroke="#000051"/>
<polygon points="104.1,330 108.1,327.9 105.1,325.7 101.1,327.7" fill="#0000d6" stroke="#000056"/>
<polygon points="79.2,330.3 83.1,328.4 80.1,326.1 76.1,328.1" fill="#0000d6" stroke="#000056"/>
<polygon points="111.1,330.7 115.1,329.1 112.1,326.5 108.1,327.9" fill="#0000d6" stroke="#000056"/>
<polygon points="86.2,330.5 90.1,328.7 87.1,326.4 83.1,328.4" fill="#0000d6" stroke="#000056"/>
<polygon points="93.2,331.2 97.1,329.2 94.1,326.9 90.1,328.7" fill="#0000d6" stroke="#000056"/>
<polygon points="100.2,332 104.1,330 101.1,327.7 97.1,329.2" fill="#0000d6" stroke="#000056"/>
<polygon points="75.2,332.1 79.2,330.3 76.1,328.1 72.2,330.3" fill="#0000d6" stroke="#000056"/>
<polygon points="107.1,332.5 111.1,330.7 108.1,327.9 104.1,330" fill="#0000d6" stroke="#000056"/>
<polygon points="82.2,332.5 86.2,330.5 83.1,328.4 79.2,330.3" fill="#0000d6" stroke="#000056"/>
<polygon points="89.2,332.8 93.2,331.2 90.1,328.7 86.2,330.5" fill="#0000d6" stroke="#000056"/>
<polygon points="96.2,333.8 100.2,332 97.1,329.2 93.2,331.2" fill="#0000cb" stroke="#000051"/>
<polygon points="103.2,333.9 107.1,332.5 104.1,330 100.2,332" fill="#0000d6" stroke="#000056"/>
<polygon points="78.2,334.1 82.2,332.5 79.2,330.3 75.2,332.1" fill="#0000d6" stroke="#000056"/>
<polygon points="85.2,334.6 89.2,332.8 86.2,330.5 82.2,332.5" fill="#0000d6" stroke="#000056"/>
<polygon points="92.2,335.3 96.2,333.8 93.2,331.2 89.2,332.8" fill="#0000cb" stroke="#000051"/>
<polygon points="99.2,335.6 103.2,333.9 100.2,332 96.2,333.8" fill="#0000cb" stroke="#000051"/>
<polygon points="81.2,336.1 85.2,334.6 82.2,332.5 78.2,334.1" fill="#0000d6" stroke="#000056"/>
<polygon points="88.2,336.5 92.2,335.3 89.2,332.8 85.2,334.6" fill="#0000d6" stroke="#000056"/>
<polygon points="95.2,337.5 99.2,335.6 96.2,333.8 92.2,335.3" fill="#0000cb" stroke="#000051"/>
<polygon points="84.3,338.4 88.2,336.5 85.2,334.6 81.2,336.1" fill="#0000cb" stroke="#000051"/>
<polygon points="91.3,338.8 95.2,337.5 92.2,335.3 88.2,336.5" fill="#0000cb" stroke="#000051"/>
<polygon points="87.3,340.3 91.3,338.8 88.2,336.5 84.3,338.4" fill="#0000cb" stroke="#000051"/>
</g>
<g stroke="#dcdcdc" stroke-width="0.8">
<line x1="260.1" y1="337.9" x2="211.7" y2="305.8"/>
<line x1="211.7" y1="305.8" x2="211.7" y2="236.3"/>
<line x1="279.9" y1="330.3" x2="231.5" y2="298.2"/>
<line x1="231.5" y1="298.2" x2="231.5" y2="228.7"/>
<line x1="299.8" y1="322.6" x2="251.4" y2="290.5"/>
<line x1="251.4" y1="290.5" x2="251.4" y2="221.1"/>
<line x1="232.1" y1="336" x2="295.6" y2="311.6"/>
<line x1="295.6" y1="311.6" x2="295.6" y2="242.1"/>
<line x1="217" y1="325.9" x2="280.5" y2="301.5"/>
<line x1="280.5" y1="301.5" x2="280.5" y2="232.1"/>
<line x1="201.9" y1="315.9" x2="265.4" y2="291.5"/>
<line x1="265.4" y1="291.5" x2="265.4" y2="222.1"/>
<line x1="195.8" y1="311.9" x2="259.3" y2="287.5"/>
<line x1="259.3" y1="287.5" x2="307.7" y2="319.6"/>
<line x1="195.8" y1="277.2" x2="259.3" y2="252.8"/>
<line x1="259.3" y1="252.8" x2="307.7" y2="284.9"/>
<line x1="195.8" y1="242.4" x2="259.3" y2="218.1"/>
<line x1="259.3" y1="218.1" x2="307.7" y2="250.2"/>
</g>
<g stroke="#9a9a9a" stroke-width="0.9">
<line x1="195.8" y1="311.9" x2="195.8" y2="242.4"/>
<line x1="195.8" y1="311.9" x2="244.2" y2="344"/>
<line x1="244.2" y1="344" x2="307.7" y2="319.6"/>
<line x1="195.8" y1="311.9" x2="194.3" y2="311.9"/>
<line x1="195.8" y1="277.2" x2="194.3" y2="277.2"/>
<line x1="195.8" y1="242.4" x2="194.3" y2="242.4"/>
<line x1="232.1" y1="336" x2="230.5" y2="336.6"/>
<line x1="217" y1="325.9" x2="215.4" y2="326.5"/>
<line x1="201.9" y1="315.9" x2="200.3" y2="316.5"/>
<line x1="260.1" y1="337.9" x2="261.3" y2="338.9"/>
<line x1="279.9" y1="330.3" x2="281.1" y2="331.3"/>
<line x1="299.8" y1="322.6" x2="301" y2="323.6"/>
</g>
<text x="192.9" y="313.9" text-anchor="end" font-size="8.4">0</text>
<text x="192.9" y="279.2" text-anchor="end" font-size="8.4">5000</text>
<text x="192.9" y="245.2" text-anchor="end" font-size="8.4">10000</text>
<text x="229.3" y="346.3" text-anchor="end" font-size="8.4">5</text>
<text x="214.2" y="336.2" text-anchor="end" font-size="8.4">10</text>
<text x="199.1" y="326.2" text-anchor="end" font-size="8.4">15</text>
<text x="262.6" y="348.5" text-anchor="start" font-size="8.4">5</text>
<text x="282.4" y="340.9" text-anchor="start" font-size="8.4">10</text>
<text x="302.3" y="333.2" text-anchor="start" font-size="8.4">15</text>
<text x="194.8" y="360.5" text-anchor="middle" font-size="8.4">y (px)</text>
<text x="297.2" y="362.2" text-anchor="middle" font-size="8.4">x (px)</text>
<text transform="translate(165.6 278) rotate(-90)" text-anchor="middle" font-size="8.4">Intensity</text>
<text x="252" y="212.3" text-anchor="middle" font-size="8.55">Model</text>
<g stroke-width="0.42" stroke-linejoin="round">
<polygon points="258.4,287.2 262.3,285.8 259.3,283.9 255.3,285.4" fill="#0000d6" stroke="#000056"/>
<polygon points="254.4,288.6 258.4,287.2 255.3,285.4 251.4,286.8" fill="#0000d6" stroke="#000056"/>
<polygon points="261.4,289.1 265.4,287.7 262.3,285.8 258.4,287.2" fill="#0000d6" stroke="#000056"/>
<polygon points="250.4,289.9 254.4,288.6 251.4,286.8 247.4,288.2" fill="#0000d6" stroke="#000056"/>
<polygon points="257.4,290.3 261.4,289.1 258.4,287.2 254.4,288.6" fill="#0000d6" stroke="#000056"/>
<polygon points="264.4,290.9 268.4,289.6 265.4,287.7 261.4,289.1" fill="#0000d6" stroke="#000056"/>
<polygon points="246.5,291.2 250.4,289.9 247.4,288.2 243.4,289.5" fill="#0000d6" stroke="#000056"/>
<polygon points="253.4,291.6 257.4,290.3 254.4,288.6 250.4,289.9" fill="#0000d6" stroke="#000056"/>
<polygon points="260.4,292.1 264.4,290.9 261.4,289.1 257.4,290.3" fill="#0000d6" stroke="#000056"/>
<polygon points="267.4,292.7 271.4,291.5 268.4,289.6 264.4,290.9" fill="#0000d6" stroke="#000056"/>
<polygon points="242.5,292.6 246.5,291.2 243.4,289.5 239.5,290.9" fill="#0000d6" stroke="#000056"/>
<polygon points="249.5,292.8 253.4,291.6 250.4,289.9 246.5,291.2" fill="#0000df" stroke="#000059"/>
<polygon points="256.5,293.2 260.4,292.1 257.4,290.3 253.4,291.6" fill="#0000df" stroke="#000059"/>
<polygon points="263.5,293.8 267.4,292.7 264.4,290.9 260.4,292.1" fill="#0000df" stroke="#000059"/>
<polygon points="238.5,293.9 242.5,292.6 239.5,290.9 235.5,292.4" fill="#0000df" stroke="#000059"/>
<polygon points="270.5,294.5 274.4,293.3 271.4,291.5 267.4,292.7" fill="#0000d6" stroke="#000056"/>
<polygon points="245.5,294.1 249.5,292.8 246.5,291.2 242.5,292.6" fill="#0000df" stroke="#000059"/>
<polygon points="252.5,294.3 256.5,293.2 253.4,291.6 249.5,292.8" fill="#0000df" stroke="#000059"/>
<polygon points="259.5,294.8 263.5,293.8 260.4,292.1 256.5,293.2" fill="#0000df" stroke="#000059"/>
<polygon points="234.5,295.3 238.5,293.9 235.5,292.4 231.5,293.8" fill="#0000df" stroke="#000059"/>
<polygon points="266.5,295.5 270.5,294.5 267.4,292.7 263.5,293.8" fill="#0000df" stroke="#000059"/>
<polygon points="241.5,295.3 245.5,294.1 242.5,292.6 238.5,293.9" fill="#0000df" stroke="#000059"/>
<polygon points="273.5,296.3 277.4,295.2 274.4,293.3 270.5,294.5" fill="#0000df" stroke="#000059"/>
<polygon points="248.5,295.4 252.5,294.3 249.5,292.8 245.5,294.1" fill="#0000e7" stroke="#00005c"/>
<polygon points="255.5,295.7 259.5,294.8 256.5,293.2 252.5,294.3" fill="#0000e7" stroke="#00005c"/>
<polygon points="230.6,296.8 234.5,295.3 231.5,293.8 227.6,295.3" fill="#0000df" stroke="#000059"/>
<polygon points="262.5,296.4 266.5,295.5 263.5,293.8 259.5,294.8" fill="#0000e7" stroke="#00005c"/>
<polygon points="237.6,296.7 241.5,295.3 238.5,293.9 234.5,295.3" fill="#0000e7" stroke="#00005c"/>
<polygon points="269.5,297.3 273.5,296.3 270.5,294.5 266.5,295.5" fill="#0000df" stroke="#000059"/>
<polygon points="244.6,296.5 248.5,295.4 245.5,294.1 241.5,295.3" fill="#0000e7" stroke="#00005c"/>
<polygon points="276.5,298.2 280.5,297.2 277.4,295.2 273.5,296.3" fill="#0000df" stroke="#000059"/>
<polygon points="251.6,296.5 255.5,295.7 252.5,294.3 248.5,295.4" fill="#0000ee" stroke="#00005f"/>
<polygon points="226.6,298.4 230.6,296.8 227.6,295.3 223.6,296.9" fill="#0000df" stroke="#000059"/>
<polygon points="258.6,297 262.5,296.4 259.5,294.8 255.5,295.7" fill="#0000ee" stroke="#00005f"/>
<polygon points="233.6,298.2 237.6,296.7 234.5,295.3 230.6,296.8" fill="#0000e7" stroke="#00005c"/>
<polygon points="265.5,298 269.5,297.3 266.5,295.5 262.5,296.4" fill="#0000e7" stroke="#00005c"/>
<polygon points="240.6,297.7 244.6,296.5 241.5,295.3 237.6,296.7" fill="#0000ee" stroke="#00005f"/>
<polygon points="272.5,299.1 276.5,298.2 273.5,296.3 269.5,297.3" fill="#0000e7" stroke="#00005c"/>
<polygon points="247.6,297.3 251.6,296.5 248.5,295.4 244.6,296.5" fill="#0000f5" stroke="#000062"/>
<polygon points="222.6,300.1 226.6,298.4 223.6,296.9 219.6,298.5" fill="#0000df" stroke="#000059"/>
<polygon points="279.5,300.2 283.5,299.2 280.5,297.2 276.5,298.2" fill="#0000df" stroke="#000059"/>
<polygon points="254.6,297.4 258.6,297 255.5,295.7 251.6,296.5" fill="#0000f5" stroke="#000062"/>
<polygon points="229.6,299.8 233.6,298.2 230.6,296.8 226.6,298.4" fill="#0000e7" stroke="#00005c"/>
<polygon points="261.6,298.3 265.5,298 262.5,296.4 258.6,297" fill="#0000f5" stroke="#000062"/>
<polygon points="236.6,299.2 240.6,297.7 237.6,296.7 233.6,298.2" fill="#0000ee" stroke="#00005f"/>
<polygon points="268.6,299.7 272.5,299.1 269.5,297.3 265.5,298" fill="#0000ee" stroke="#00005f"/>
<polygon points="243.6,298.2 247.6,297.3 244.6,296.5 240.6,297.7" fill="#0000fb" stroke="#000064"/>
<polygon points="218.7,301.8 222.6,300.1 219.6,298.5 215.6,300.1" fill="#0000d6" stroke="#000056"/>
<polygon points="275.6,301.1 279.5,300.2 276.5,298.2 272.5,299.1" fill="#0000e7" stroke="#00005c"/>
<polygon points="250.6,297.1 254.6,297.4 251.6,296.5 247.6,297.3" fill="#0002ff" stroke="#000166"/>
<polygon points="225.7,301.5 229.6,299.8 226.6,298.4 222.6,300.1" fill="#0000df" stroke="#000059"/>
<polygon points="282.6,302.3 286.5,301.2 283.5,299.2 279.5,300.2" fill="#0000df" stroke="#000059"/>
<polygon points="257.6,297.6 261.6,298.3 258.6,297 254.6,297.4" fill="#0002ff" stroke="#000166"/>
<polygon points="232.7,300.9 236.6,299.2 233.6,298.2 229.6,299.8" fill="#0000ee" stroke="#00005f"/>
<polygon points="264.6,299.6 268.6,299.7 265.5,298 261.6,298.3" fill="#0000fb" stroke="#000064"/>
<polygon points="239.7,299.4 243.6,298.2 240.6,297.7 236.6,299.2" fill="#0000fb" stroke="#000064"/>
<polygon points="214.7,303.5 218.7,301.8 215.6,300.1 211.7,301.8" fill="#0000d6" stroke="#000056"/>
<polygon points="271.6,301.6 275.6,301.1 272.5,299.1 268.6,299.7" fill="#0000ee" stroke="#00005f"/>
<polygon points="246.6,296.2 250.6,297.1 247.6,297.3 243.6,298.2" fill="#0035ff" stroke="#001566"/>
<polygon points="221.7,303.3 225.7,301.5 222.6,300.1 218.7,301.8" fill="#0000df" stroke="#000059"/>
<polygon points="278.6,303.2 282.6,302.3 279.5,300.2 275.6,301.1" fill="#0000e7" stroke="#00005c"/>
<polygon points="253.6,294 257.6,297.6 254.6,297.4 250.6,297.1" fill="#0068ff" stroke="#002a66"/>
<polygon points="228.7,302.7 232.7,300.9 229.6,299.8 225.7,301.5" fill="#0000e7" stroke="#00005c"/>
<polygon points="285.6,304.4 289.6,303.3 286.5,301.2 282.6,302.3" fill="#0000df" stroke="#000059"/>
<polygon points="260.6,297.1 264.6,299.6 261.6,298.3 257.6,297.6" fill="#0035ff" stroke="#001566"/>
<polygon points="235.7,301.2 239.7,299.4 236.6,299.2 232.7,300.9" fill="#0000fb" stroke="#000064"/>
<polygon points="210.7,305.2 214.7,303.5 211.7,301.8 207.7,303.5" fill="#0000d6" stroke="#000056"/>
<polygon points="267.6,301.3 271.6,301.6 268.6,299.7 264.6,299.6" fill="#0000fb" stroke="#000064"/>
<polygon points="242.7,296.2 246.6,296.2 243.6,298.2 239.7,299.4" fill="#0057ff" stroke="#002366"/>
<polygon points="217.7,305.1 221.7,303.3 218.7,301.8 214.7,303.5" fill="#0000df" stroke="#000059"/>
<polygon points="274.6,303.8 278.6,303.2 275.6,301.1 271.6,301.6" fill="#0000ee" stroke="#00005f"/>
<polygon points="249.7,287.2 253.6,294 250.6,297.1 246.6,296.2" fill="#00fff7" stroke="#006663"/>
<polygon points="224.7,304.7 228.7,302.7 225.7,301.5 221.7,303.3" fill="#0000e7" stroke="#00005c"/>
<polygon points="281.6,305.4 285.6,304.4 282.6,302.3 278.6,303.2" fill="#0000df" stroke="#000059"/>
<polygon points="256.7,287.7 260.6,297.1 257.6,297.6 253.6,294" fill="#00fff7" stroke="#006663"/>
<polygon points="231.7,303.6 235.7,301.2 232.7,300.9 228.7,302.7" fill="#0000f5" stroke="#000062"/>
<polygon points="206.8,306.9 210.7,305.2 207.7,303.5 203.7,305.1" fill="#0000d6" stroke="#000056"/>
<polygon points="288.6,306.6 292.6,305.4 289.6,303.3 285.6,304.4" fill="#0000d6" stroke="#000056"/>
<polygon points="263.7,297.6 267.6,301.3 264.6,299.6 260.6,297.1" fill="#0057ff" stroke="#002366"/>
<polygon points="238.7,298.9 242.7,296.2 239.7,299.4 235.7,301.2" fill="#0035ff" stroke="#001566"/>
<polygon points="213.8,307 217.7,305.1 214.7,303.5 210.7,305.2" fill="#0000d6" stroke="#000056"/>
<polygon points="270.7,303.6 274.6,303.8 271.6,301.6 267.6,301.3" fill="#0000fb" stroke="#000064"/>
<polygon points="245.7,284 249.7,287.2 246.6,296.2 242.7,296.2" fill="#00ff92" stroke="#00663a"/>
<polygon points="220.8,306.7 224.7,304.7 221.7,303.3 217.7,305.1" fill="#0000df" stroke="#000059"/>
<polygon points="277.6,306.1 281.6,305.4 278.6,303.2 274.6,303.8" fill="#0000e7" stroke="#00005c"/>
<polygon points="252.7,271.8 256.7,287.7 253.6,294 249.7,287.2" fill="#ff9900" stroke="#663d00"/>
<polygon points="227.7,305.9 231.7,303.6 228.7,302.7 224.7,304.7" fill="#0000ee" stroke="#00005f"/>
<polygon points="202.8,308.6 206.8,306.9 203.7,305.1 199.8,306.8" fill="#0000cb" stroke="#000051"/>
<polygon points="284.6,307.7 288.6,306.6 285.6,304.4 281.6,305.4" fill="#0000df" stroke="#000059"/>
<polygon points="259.7,285 263.7,297.6 260.6,297.1 256.7,287.7" fill="#00ff92" stroke="#00663a"/>
<polygon points="234.7,303.2 238.7,298.9 235.7,301.2 231.7,303.6" fill="#0002ff" stroke="#000166"/>
<polygon points="209.8,308.7 213.8,307 210.7,305.2 206.8,306.9" fill="#0000d6" stroke="#000056"/>
<polygon points="291.6,308.8 295.6,307.6 292.6,305.4 288.6,306.6" fill="#0000d6" stroke="#000056"/>
<polygon points="266.7,300.8 270.7,303.6 267.6,301.3 263.7,297.6" fill="#0035ff" stroke="#001566"/>
<polygon points="241.7,290.3 245.7,284 242.7,296.2 238.7,298.9" fill="#00fff7" stroke="#006663"/>
<polygon points="216.8,308.6 220.8,306.7 217.7,305.1 213.8,307" fill="#0000df" stroke="#000059"/>
<polygon points="273.7,306.4 277.6,306.1 274.6,303.8 270.7,303.6" fill="#0000f5" stroke="#000062"/>
<polygon points="248.7,265.4 252.7,271.8 249.7,287.2 245.7,284" fill="#ff0000" stroke="#660000"/>
<polygon points="223.8,308.2 227.7,305.9 224.7,304.7 220.8,306.7" fill="#0000e7" stroke="#00005c"/>
<polygon points="198.8,310.3 202.8,308.6 199.8,306.8 195.8,308.4" fill="#0000cb" stroke="#000051"/>
<polygon points="280.7,308.6 284.6,307.7 281.6,305.4 277.6,306.1" fill="#0000e7" stroke="#00005c"/>
<polygon points="255.7,265.9 259.7,285 256.7,287.7 252.7,271.8" fill="#ff0000" stroke="#660000"/>
<polygon points="230.8,306.8 234.7,303.2 231.7,303.6 227.7,305.9" fill="#0000f5" stroke="#000062"/>
<polygon points="205.8,310.5 209.8,308.7 206.8,306.9 202.8,308.6" fill="#0000d6" stroke="#000056"/>
<polygon points="287.7,310 291.6,308.8 288.6,306.6 284.6,307.7" fill="#0000df" stroke="#000059"/>
<polygon points="262.7,291.8 266.7,300.8 263.7,297.6 259.7,285" fill="#00fff7" stroke="#006663"/>
<polygon points="237.8,300.4 241.7,290.3 238.7,298.9 234.7,303.2" fill="#0068ff" stroke="#002a66"/>
<polygon points="212.8,310.5 216.8,308.6 213.8,307 209.8,308.7" fill="#0000d6" stroke="#000056"/>
<polygon points="294.7,311 298.6,309.7 295.6,307.6 291.6,308.8" fill="#0000d6" stroke="#000056"/>
<polygon points="269.7,305.6 273.7,306.4 270.7,303.6 266.7,300.8" fill="#0002ff" stroke="#000166"/>
<polygon points="244.8,278.6 248.7,265.4 245.7,284 241.7,290.3" fill="#ffe800" stroke="#665d00"/>
<polygon points="219.8,310.3 223.8,308.2 220.8,306.7 216.8,308.6" fill="#0000df" stroke="#000059"/>
<polygon points="276.7,309.3 280.7,308.6 277.6,306.1 273.7,306.4" fill="#0000ee" stroke="#00005f"/>
<polygon points="251.8,260.5 255.7,265.9 252.7,271.8 248.7,265.4" fill="#9f0000" stroke="#400000"/>
<polygon points="226.8,309.6 230.8,306.8 227.7,305.9 223.8,308.2" fill="#0000ee" stroke="#00005f"/>
<polygon points="201.9,312.2 205.8,310.5 202.8,308.6 198.8,310.3" fill="#0000cb" stroke="#000051"/>
<polygon points="283.7,311 287.7,310 284.6,307.7 280.7,308.6" fill="#0000df" stroke="#000059"/>
<polygon points="258.7,279.6 262.7,291.8 259.7,285 255.7,265.9" fill="#ffe800" stroke="#665d00"/>
<polygon points="233.8,307.2 237.8,300.4 234.7,303.2 230.8,306.8" fill="#0000ff" stroke="#000066"/>
<polygon points="208.8,312.3 212.8,310.5 209.8,308.7 205.8,310.5" fill="#0000d6" stroke="#000056"/>
<polygon points="290.7,312.3 294.7,311 291.6,308.8 287.7,310" fill="#0000d6" stroke="#000056"/>
<polygon points="265.7,302.3 269.7,305.6 266.7,300.8 262.7,291.8" fill="#0068ff" stroke="#002a66"/>
<polygon points="240.8,297.1 244.8,278.6 241.7,290.3 237.8,300.4" fill="#00c9ff" stroke="#005066"/>
<polygon points="215.8,312.3 219.8,310.3 216.8,308.6 212.8,310.5" fill="#0000df" stroke="#000059"/>
<polygon points="297.7,313.2 301.7,311.8 298.6,309.7 294.7,311" fill="#0000d6" stroke="#000056"/>
<polygon points="272.7,309.7 276.7,309.3 273.7,306.4 269.7,305.6" fill="#0000f5" stroke="#000062"/>
<polygon points="247.8,277.9 251.8,260.5 248.7,265.4 244.8,278.6" fill="#ffa900" stroke="#664400"/>
<polygon points="222.8,311.9 226.8,309.6 223.8,308.2 219.8,310.3" fill="#0000e7" stroke="#00005c"/>
<polygon points="279.7,312 283.7,311 280.7,308.6 276.7,309.3" fill="#0000e7" stroke="#00005c"/>
<polygon points="254.8,278.3 258.7,279.6 255.7,265.9 251.8,260.5" fill="#ffa900" stroke="#664400"/>
<polygon points="229.8,310.9 233.8,307.2 230.8,306.8 226.8,309.6" fill="#0000ee" stroke="#00005f"/>
<polygon points="204.9,314.1 208.8,312.3 205.8,310.5 201.9,312.2" fill="#0000d6" stroke="#000056"/>
<polygon points="286.7,313.4 290.7,312.3 287.7,310 283.7,311" fill="#0000df" stroke="#000059"/>
<polygon points="261.8,298.6 265.7,302.3 262.7,291.8 258.7,279.6" fill="#00c9ff" stroke="#005066"/>
<polygon points="236.8,307.8 240.8,297.1 237.8,300.4 233.8,307.2" fill="#0011ff" stroke="#000766"/>
<polygon points="211.9,314.2 215.8,312.3 212.8,310.5 208.8,312.3" fill="#0000d6" stroke="#000056"/>
<polygon points="293.7,314.5 297.7,313.2 294.7,311 290.7,312.3" fill="#0000d6" stroke="#000056"/>
<polygon points="268.8,309.6 272.7,309.7 269.7,305.6 265.7,302.3" fill="#0000ff" stroke="#000066"/>
<polygon points="243.8,298.7 247.8,277.9 244.8,278.6 240.8,297.1" fill="#00d8ff" stroke="#005666"/>
<polygon points="218.9,314 222.8,311.9 219.8,310.3 215.8,312.3" fill="#0000df" stroke="#000059"/>
<polygon points="300.7,315.4 304.7,314 301.7,311.8 297.7,313.2" fill="#0000cb" stroke="#000051"/>
<polygon points="275.8,312.9 279.7,312 276.7,309.3 272.7,309.7" fill="#0000ee" stroke="#00005f"/>
<polygon points="250.8,291.5 254.8,278.3 251.8,260.5 247.8,277.9" fill="#00ff92" stroke="#00663a"/>
<polygon points="225.9,313.6 229.8,310.9 226.8,309.6 222.8,311.9" fill="#0000e7" stroke="#00005c"/>
<polygon points="282.8,314.6 286.7,313.4 283.7,311 279.7,312" fill="#0000df" stroke="#000059"/>
<polygon points="257.8,299.7 261.8,298.6 258.7,279.6 254.8,278.3" fill="#00d8ff" stroke="#005666"/>
<polygon points="232.9,312.5 236.8,307.8 233.8,307.2 229.8,310.9" fill="#0000f5" stroke="#000062"/>
<polygon points="207.9,316 211.9,314.2 208.8,312.3 204.9,314.1" fill="#0000d6" stroke="#000056"/>
<polygon points="289.7,315.8 293.7,314.5 290.7,312.3 286.7,313.4" fill="#0000d6" stroke="#000056"/>
<polygon points="264.8,309.7 268.8,309.6 265.7,302.3 261.8,298.6" fill="#0011ff" stroke="#000766"/>
<polygon points="239.8,309.8 243.8,298.7 240.8,297.1 236.8,307.8" fill="#0011ff" stroke="#000766"/>
<polygon points="214.9,316 218.9,314 215.8,312.3 211.9,314.2" fill="#0000d6" stroke="#000056"/>
<polygon points="296.7,316.7 300.7,315.4 297.7,313.2 293.7,314.5" fill="#0000d6" stroke="#000056"/>
<polygon points="271.8,313.8 275.8,312.9 272.7,309.7 268.8,309.6" fill="#0000ee" stroke="#00005f"/>
<polygon points="246.8,305.5 250.8,291.5 247.8,277.9 243.8,298.7" fill="#0078ff" stroke="#003066"/>
<polygon points="221.9,315.8 225.9,313.6 222.8,311.9 218.9,314" fill="#0000df" stroke="#000059"/>
<polygon points="303.7,317.5 307.7,316.1 304.7,314 300.7,315.4" fill="#0000cb" stroke="#000051"/>
<polygon points="278.8,315.7 282.8,314.6 279.7,312 275.8,312.9" fill="#0000e7" stroke="#00005c"/>
<polygon points="253.8,306 257.8,299.7 254.8,278.3 250.8,291.5" fill="#0078ff" stroke="#003066"/>
<polygon points="228.9,315.3 232.9,312.5 229.8,310.9 225.9,313.6" fill="#0000e7" stroke="#00005c"/>
<polygon points="285.8,317.1 289.7,315.8 286.7,313.4 282.8,314.6" fill="#0000df" stroke="#000059"/>
<polygon points="260.8,311.2 264.8,309.7 261.8,298.6 257.8,299.7" fill="#0011ff" stroke="#000766"/>
<polygon points="235.9,314.4 239.8,309.8 236.8,307.8 232.9,312.5" fill="#0000f5" stroke="#000062"/>
<polygon points="210.9,317.9 214.9,316 211.9,314.2 207.9,316" fill="#0000d6" stroke="#000056"/>
<polygon points="292.8,318.1 296.7,316.7 293.7,314.5 289.7,315.8" fill="#0000d6" stroke="#000056"/>
<polygon points="267.8,314.9 271.8,313.8 268.8,309.6 264.8,309.7" fill="#0000f5" stroke="#000062"/>
<polygon points="242.9,313 246.8,305.5 243.8,298.7 239.8,309.8" fill="#0000ff" stroke="#000066"/>
<polygon points="217.9,317.9 221.9,315.8 218.9,314 214.9,316" fill="#0000d6" stroke="#000056"/>
<polygon points="299.8,318.9 303.7,317.5 300.7,315.4 296.7,316.7" fill="#0000cb" stroke="#000051"/>
<polygon points="274.8,316.9 278.8,315.7 275.8,312.9 271.8,313.8" fill="#0000e7" stroke="#00005c"/>
<polygon points="249.9,312.3 253.8,306 250.8,291.5 246.8,305.5" fill="#0011ff" stroke="#000766"/>
<polygon points="224.9,317.7 228.9,315.3 225.9,313.6 221.9,315.8" fill="#0000df" stroke="#000059"/>
<polygon points="281.8,318.4 285.8,317.1 282.8,314.6 278.8,315.7" fill="#0000df" stroke="#000059"/>
<polygon points="256.9,314 260.8,311.2 257.8,299.7 253.8,306" fill="#0000ff" stroke="#000066"/>
<polygon points="231.9,317.3 235.9,314.4 232.9,312.5 228.9,315.3" fill="#0000e7" stroke="#00005c"/>
<polygon points="288.8,319.5 292.8,318.1 289.7,315.8 285.8,317.1" fill="#0000d6" stroke="#000056"/>
<polygon points="263.9,316.4 267.8,314.9 264.8,309.7 260.8,311.2" fill="#0000f5" stroke="#000062"/>
<polygon points="238.9,316.8 242.9,313 239.8,309.8 235.9,314.4" fill="#0000f5" stroke="#000062"/>
<polygon points="214,319.8 217.9,317.9 214.9,316 210.9,317.9" fill="#0000d6" stroke="#000056"/>
<polygon points="295.8,320.3 299.8,318.9 296.7,316.7 292.8,318.1" fill="#0000d6" stroke="#000056"/>
<polygon points="270.8,318.2 274.8,316.9 271.8,313.8 267.8,314.9" fill="#0000e7" stroke="#00005c"/>
<polygon points="245.9,316.4 249.9,312.3 246.8,305.5 242.9,313" fill="#0000fb" stroke="#000064"/>
<polygon points="220.9,319.8 224.9,317.7 221.9,315.8 217.9,317.9" fill="#0000df" stroke="#000059"/>
<polygon points="277.8,319.7 281.8,318.4 278.8,315.7 274.8,316.9" fill="#0000df" stroke="#000059"/>
<polygon points="252.9,316.9 256.9,314 253.8,306 249.9,312.3" fill="#0000fb" stroke="#000064"/>
<polygon points="227.9,319.7 231.9,317.3 228.9,315.3 224.9,317.7" fill="#0000df" stroke="#000059"/>
<polygon points="284.8,320.8 288.8,319.5 285.8,317.1 281.8,318.4" fill="#0000d6" stroke="#000056"/>
<polygon points="259.9,318.2 263.9,316.4 260.8,311.2 256.9,314" fill="#0000f5" stroke="#000062"/>
<polygon points="234.9,319.4 238.9,316.8 235.9,314.4 231.9,317.3" fill="#0000e7" stroke="#00005c"/>
<polygon points="291.8,321.7 295.8,320.3 292.8,318.1 288.8,319.5" fill="#0000d6" stroke="#000056"/>
<polygon points="266.9,319.7 270.8,318.2 267.8,314.9 263.9,316.4" fill="#0000e7" stroke="#00005c"/>
<polygon points="241.9,319.3 245.9,316.4 242.9,313 238.9,316.8" fill="#0000ee" stroke="#00005f"/>
<polygon points="217,321.7 220.9,319.8 217.9,317.9 214,319.8" fill="#0000d6" stroke="#000056"/>
<polygon points="273.9,321.1 277.8,319.7 274.8,316.9 270.8,318.2" fill="#0000df" stroke="#000059"/>
<polygon points="248.9,319.5 252.9,316.9 249.9,312.3 245.9,316.4" fill="#0000ee" stroke="#00005f"/>
<polygon points="224,321.8 227.9,319.7 224.9,317.7 220.9,319.8" fill="#0000df" stroke="#000059"/>
<polygon points="280.9,322.2 284.8,320.8 281.8,318.4 277.8,319.7" fill="#0000d6" stroke="#000056"/>
<polygon points="255.9,320.2 259.9,318.2 256.9,314 252.9,316.9" fill="#0000ee" stroke="#00005f"/>
<polygon points="231,321.7 234.9,319.4 231.9,317.3 227.9,319.7" fill="#0000df" stroke="#000059"/>
<polygon points="287.9,323.2 291.8,321.7 288.8,319.5 284.8,320.8" fill="#0000d6" stroke="#000056"/>
<polygon points="262.9,321.4 266.9,319.7 263.9,316.4 259.9,318.2" fill="#0000e7" stroke="#00005c"/>
<polygon points="238,321.7 241.9,319.3 238.9,316.8 234.9,319.4" fill="#0000e7" stroke="#00005c"/>
<polygon points="269.9,322.5 273.9,321.1 270.8,318.2 266.9,319.7" fill="#0000df" stroke="#000059"/>
<polygon points="245,321.9 248.9,319.5 245.9,316.4 241.9,319.3" fill="#0000e7" stroke="#00005c"/>
<polygon points="220,323.7 224,321.8 220.9,319.8 217,321.7" fill="#0000d6" stroke="#000056"/>
<polygon points="276.9,323.6 280.9,322.2 277.8,319.7 273.9,321.1" fill="#0000df" stroke="#000059"/>
<polygon points="251.9,322.3 255.9,320.2 252.9,316.9 248.9,319.5" fill="#0000e7" stroke="#00005c"/>
<polygon points="227,323.8 231,321.7 227.9,319.7 224,321.8" fill="#0000df" stroke="#000059"/>
<polygon points="283.9,324.6 287.9,323.2 284.8,320.8 280.9,322.2" fill="#0000d6" stroke="#000056"/>
<polygon points="258.9,323.2 262.9,321.4 259.9,318.2 255.9,320.2" fill="#0000e7" stroke="#00005c"/>
<polygon points="234,323.9 238,321.7 234.9,319.4 231,321.7" fill="#0000df" stroke="#000059"/>
<polygon points="265.9,324.1 269.9,322.5 266.9,319.7 262.9,321.4" fill="#0000df" stroke="#000059"/>
<polygon points="241,324.1 245,321.9 241.9,319.3 238,321.7" fill="#0000df" stroke="#000059"/>
<polygon points="272.9,325.1 276.9,323.6 273.9,321.1 269.9,322.5" fill="#0000df" stroke="#000059"/>
<polygon points="248,324.4 251.9,322.3 248.9,319.5 245,321.9" fill="#0000e7" stroke="#00005c"/>
<polygon points="223,325.8 227,323.8 224,321.8 220,323.7" fill="#0000d6" stroke="#000056"/>
<polygon points="279.9,326.1 283.9,324.6 280.9,322.2 276.9,323.6" fill="#0000d6" stroke="#000056"/>
<polygon points="255,325 258.9,323.2 255.9,320.2 251.9,322.3" fill="#0000df" stroke="#000059"/>
<polygon points="230,325.9 234,323.9 231,321.7 227,323.8" fill="#0000d6" stroke="#000056"/>
<polygon points="262,325.8 265.9,324.1 262.9,321.4 258.9,323.2" fill="#0000df" stroke="#000059"/>
<polygon points="237,326.2 241,324.1 238,321.7 234,323.9" fill="#0000df" stroke="#000059"/>
<polygon points="269,326.7 272.9,325.1 269.9,322.5 265.9,324.1" fill="#0000df" stroke="#000059"/>
<polygon points="244,326.5 248,324.4 245,321.9 241,324.1" fill="#0000df" stroke="#000059"/>
<polygon points="275.9,327.6 279.9,326.1 276.9,323.6 272.9,325.1" fill="#0000d6" stroke="#000056"/>
<polygon points="251,327 255,325 251.9,322.3 248,324.4" fill="#0000df" stroke="#000059"/>
<polygon points="226.1,327.8 230,325.9 227,323.8 223,325.8" fill="#0000d6" stroke="#000056"/>
<polygon points="258,327.6 262,325.8 258.9,323.2 255,325" fill="#0000df" stroke="#000059"/>
<polygon points="233,328.1 237,326.2 234,323.9 230,325.9" fill="#0000d6" stroke="#000056"/>
<polygon points="265,328.4 269,326.7 265.9,324.1 262,325.8" fill="#0000d6" stroke="#000056"/>
<polygon points="240,328.4 244,326.5 241,324.1 237,326.2" fill="#0000d6" stroke="#000056"/>
<polygon points="272,329.1 275.9,327.6 272.9,325.1 269,326.7" fill="#0000d6" stroke="#000056"/>
<polygon points="247,328.8 251,327 248,324.4 244,326.5" fill="#0000d6" stroke="#000056"/>
<polygon points="254,329.4 258,327.6 255,325 251,327" fill="#0000d6" stroke="#000056"/>
<polygon points="229.1,329.9 233,328.1 230,325.9 226.1,327.8" fill="#0000d6" stroke="#000056"/>
<polygon points="261,330 265,328.4 262,325.8 258,327.6" fill="#0000d6" stroke="#000056"/>
<polygon points="236.1,330.3 240,328.4 237,326.2 233,328.1" fill="#0000d6" stroke="#000056"/>
<polygon points="268,330.7 272,329.1 269,326.7 265,328.4" fill="#0000d6" stroke="#000056"/>
<polygon points="243.1,330.7 247,328.8 244,326.5 240,328.4" fill="#0000d6" stroke="#000056"/>
<polygon points="250.1,331.2 254,329.4 251,327 247,328.8" fill="#0000d6" stroke="#000056"/>
<polygon points="257.1,331.7 261,330 258,327.6 254,329.4" fill="#0000d6" stroke="#000056"/>
<polygon points="232.1,332.1 236.1,330.3 233,328.1 229.1,329.9" fill="#0000d6" stroke="#000056"/>
<polygon points="264,332.4 268,330.7 265,328.4 261,330" fill="#0000d6" stroke="#000056"/>
<polygon points="239.1,332.5 243.1,330.7 240,328.4 236.1,330.3" fill="#0000d6" stroke="#000056"/>
<polygon points="246.1,332.9 250.1,331.2 247,328.8 243.1,330.7" fill="#0000d6" stroke="#000056"/>
<polygon points="253.1,333.4 257.1,331.7 254,329.4 250.1,331.2" fill="#0000d6" stroke="#000056"/>
<polygon points="260.1,334 264,332.4 261,330 257.1,331.7" fill="#0000d6" stroke="#000056"/>
<polygon points="235.1,334.2 239.1,332.5 236.1,330.3 232.1,332.1" fill="#0000d6" stroke="#000056"/>
<polygon points="242.1,334.6 246.1,332.9 243.1,330.7 239.1,332.5" fill="#0000d6" stroke="#000056"/>
<polygon points="249.1,335.1 253.1,333.4 250.1,331.2 246.1,332.9" fill="#0000d6" stroke="#000056"/>
<polygon points="256.1,335.6 260.1,334 257.1,331.7 253.1,333.4" fill="#0000d6" stroke="#000056"/>
<polygon points="238.2,336.3 242.1,334.6 239.1,332.5 235.1,334.2" fill="#0000cb" stroke="#000051"/>
<polygon points="245.1,336.8 249.1,335.1 246.1,332.9 242.1,334.6" fill="#0000cb" stroke="#000051"/>
<polygon points="252.1,337.3 256.1,335.6 253.1,333.4 249.1,335.1" fill="#0000cb" stroke="#000051"/>
<polygon points="241.2,338.4 245.1,336.8 242.1,334.6 238.2,336.3" fill="#0000cb" stroke="#000051"/>
<polygon points="248.2,338.9 252.1,337.3 249.1,335.1 245.1,336.8" fill="#0000cb" stroke="#000051"/>
<polygon points="244.2,340.5 248.2,338.9 245.1,336.8 241.2,338.4" fill="#0000cb" stroke="#000051"/>
</g>
<g stroke="#dcdcdc" stroke-width="0.8">
<line x1="418" y1="337.9" x2="369.6" y2="305.8"/>
<line x1="369.6" y1="305.8" x2="369.6" y2="236.3"/>
<line x1="437.8" y1="330.3" x2="389.4" y2="298.2"/>
<line x1="389.4" y1="298.2" x2="389.4" y2="228.7"/>
<line x1="457.7" y1="322.6" x2="409.3" y2="290.5"/>
<line x1="409.3" y1="290.5" x2="409.3" y2="221.1"/>
<line x1="390" y1="336" x2="453.5" y2="311.6"/>
<line x1="453.5" y1="311.6" x2="453.5" y2="242.1"/>
<line x1="374.9" y1="325.9" x2="438.4" y2="301.5"/>
<line x1="438.4" y1="301.5" x2="438.4" y2="232.1"/>
<line x1="359.8" y1="315.9" x2="423.2" y2="291.5"/>
<line x1="423.2" y1="291.5" x2="423.2" y2="222.1"/>
<line x1="353.7" y1="311.9" x2="417.2" y2="287.5"/>
<line x1="417.2" y1="287.5" x2="465.6" y2="319.6"/>
<line x1="353.7" y1="288.8" x2="417.2" y2="264.4"/>
<line x1="417.2" y1="264.4" x2="465.6" y2="296.5"/>
<line x1="353.7" y1="265.6" x2="417.2" y2="241.2"/>
<line x1="417.2" y1="241.2" x2="465.6" y2="273.3"/>
<line x1="353.7" y1="242.4" x2="417.2" y2="218.1"/>
<line x1="417.2" y1="218.1" x2="465.6" y2="250.2"/>
</g>
<g stroke="#9a9a9a" stroke-width="0.9">
<line x1="353.7" y1="311.9" x2="353.7" y2="242.4"/>
<line x1="353.7" y1="311.9" x2="402.1" y2="344"/>
<line x1="402.1" y1="344" x2="465.6" y2="319.6"/>
<line x1="353.7" y1="311.9" x2="352.2" y2="311.9"/>
<line x1="353.7" y1="288.8" x2="352.2" y2="288.8"/>
<line x1="353.7" y1="265.6" x2="352.2" y2="265.6"/>
<line x1="353.7" y1="242.4" x2="352.2" y2="242.4"/>
<line x1="390" y1="336" x2="388.4" y2="336.6"/>
<line x1="374.9" y1="325.9" x2="373.3" y2="326.5"/>
<line x1="359.8" y1="315.9" x2="358.1" y2="316.5"/>
<line x1="418" y1="337.9" x2="419.2" y2="338.9"/>
<line x1="437.8" y1="330.3" x2="439" y2="331.3"/>
<line x1="457.7" y1="322.6" x2="458.9" y2="323.6"/>
</g>
<text x="350.8" y="313.9" text-anchor="end" font-size="8.4">-500</text>
<text x="350.8" y="290.8" text-anchor="end" font-size="8.4">0</text>
<text x="350.8" y="267.6" text-anchor="end" font-size="8.4">500</text>
<text x="350.8" y="245.2" text-anchor="end" font-size="8.4">1000</text>
<text x="387.2" y="346.3" text-anchor="end" font-size="8.4">5</text>
<text x="372.1" y="336.2" text-anchor="end" font-size="8.4">10</text>
<text x="356.9" y="326.2" text-anchor="end" font-size="8.4">15</text>
<text x="420.5" y="348.5" text-anchor="start" font-size="8.4">5</text>
<text x="440.3" y="340.9" text-anchor="start" font-size="8.4">10</text>
<text x="460.2" y="333.2" text-anchor="start" font-size="8.4">15</text>
<text x="352.7" y="360.5" text-anchor="middle" font-size="8.4">y (px)</text>
<text x="455.1" y="362.2" text-anchor="middle" font-size="8.4">x (px)</text>
<text x="409.9" y="202.2" text-anchor="middle" font-size="8.55">Difference, original - model</text>
<text x="409.9" y="211.8" text-anchor="middle" font-size="8.55">RMSE = 0.039205, MAXDIFF = 0.065245</text>
<g stroke-width="0.5" stroke-linejoin="round">
<polygon points="416.3,268 420.2,268.6 417.2,267 413.2,268.2" fill="#00c9ff" stroke="#003c4c"/>
<polygon points="412.3,272.3 416.3,268 413.2,268.2 409.3,271.7" fill="#0089ff" stroke="#00294c"/>
<polygon points="419.3,271.3 423.2,270.6 420.2,268.6 416.3,268" fill="#00a9ff" stroke="#00334c"/>
<polygon points="408.3,272.4 412.3,272.3 409.3,271.7 405.3,270" fill="#00a9ff" stroke="#00334c"/>
<polygon points="415.3,271.8 419.3,271.3 416.3,268 412.3,272.3" fill="#00c9ff" stroke="#003c4c"/>
<polygon points="422.3,275.9 426.3,272.3 423.2,270.6 419.3,271.3" fill="#0068ff" stroke="#001f4c"/>
<polygon points="404.3,274 408.3,272.4 405.3,270 401.3,271.4" fill="#00a9ff" stroke="#00334c"/>
<polygon points="411.3,274.1 415.3,271.8 412.3,272.3 408.3,272.4" fill="#00b9ff" stroke="#00374c"/>
<polygon points="418.3,276.5 422.3,275.9 419.3,271.3 415.3,271.8" fill="#0078ff" stroke="#00244c"/>
<polygon points="425.3,279.3 429.3,278 426.3,272.3 422.3,275.9" fill="#0046ff" stroke="#00154c"/>
<polygon points="400.4,274.9 404.3,274 401.3,271.4 397.4,271.5" fill="#00b9ff" stroke="#00374c"/>
<polygon points="407.4,273.9 411.3,274.1 408.3,272.4 404.3,274" fill="#00d8ff" stroke="#00414c"/>
<polygon points="414.4,275.7 418.3,276.5 415.3,271.8 411.3,274.1" fill="#00b9ff" stroke="#00374c"/>
<polygon points="421.4,277.5 425.3,279.3 422.3,275.9 418.3,276.5" fill="#0099ff" stroke="#002e4c"/>
<polygon points="396.4,277.5 400.4,274.9 397.4,271.5 393.4,276.7" fill="#0099ff" stroke="#002e4c"/>
<polygon points="428.4,282.6 432.3,279.7 429.3,278 425.3,279.3" fill="#0023ff" stroke="#000b4c"/>
<polygon points="403.4,275.9 407.4,273.9 404.3,274 400.4,274.9" fill="#00c9ff" stroke="#003c4c"/>
<polygon points="410.4,279.3 414.4,275.7 411.3,274.1 407.4,273.9" fill="#0089ff" stroke="#00294c"/>
<polygon points="417.4,278.3 421.4,277.5 418.3,276.5 414.4,275.7" fill="#00a9ff" stroke="#00334c"/>
<polygon points="392.4,282 396.4,277.5 393.4,276.7 389.4,279.7" fill="#0046ff" stroke="#00154c"/>
<polygon points="424.4,281.1 428.4,282.6 425.3,279.3 421.4,277.5" fill="#0068ff" stroke="#001f4c"/>
<polygon points="399.4,281.9 403.4,275.9 400.4,274.9 396.4,277.5" fill="#0057ff" stroke="#001a4c"/>
<polygon points="431.4,279.8 435.3,279.1 432.3,279.7 428.4,282.6" fill="#0099ff" stroke="#002e4c"/>
<polygon points="406.4,281.2 410.4,279.3 407.4,273.9 403.4,275.9" fill="#0078ff" stroke="#00244c"/>
<polygon points="413.4,282.7 417.4,278.3 414.4,275.7 410.4,279.3" fill="#0057ff" stroke="#001a4c"/>
<polygon points="388.5,283.2 392.4,282 389.4,279.7 385.4,280.2" fill="#0057ff" stroke="#001a4c"/>
<polygon points="420.4,282.4 424.4,281.1 421.4,277.5 417.4,278.3" fill="#0078ff" stroke="#00244c"/>
<polygon points="395.5,283.7 399.4,281.9 396.4,277.5 392.4,282" fill="#0057ff" stroke="#001a4c"/>
<polygon points="427.4,283.9 431.4,279.8 428.4,282.6 424.4,281.1" fill="#0057ff" stroke="#001a4c"/>
<polygon points="402.5,283.6 406.4,281.2 403.4,275.9 399.4,281.9" fill="#0068ff" stroke="#001f4c"/>
<polygon points="434.4,282.1 438.4,282.4 435.3,279.1 431.4,279.8" fill="#0099ff" stroke="#002e4c"/>
<polygon points="409.5,283.3 413.4,282.7 410.4,279.3 406.4,281.2" fill="#0078ff" stroke="#00244c"/>
<polygon points="384.5,285.6 388.5,283.2 385.4,280.2 381.5,281" fill="#0035ff" stroke="#00104c"/>
<polygon points="416.4,280.9 420.4,282.4 417.4,278.3 413.4,282.7" fill="#00c9ff" stroke="#003c4c"/>
<polygon points="391.5,283.6 395.5,283.7 392.4,282 388.5,283.2" fill="#0078ff" stroke="#00244c"/>
<polygon points="423.4,281.9 427.4,283.9 424.4,281.1 420.4,282.4" fill="#00b9ff" stroke="#00374c"/>
<polygon points="398.5,286.4 402.5,283.6 399.4,281.9 395.5,283.7" fill="#0046ff" stroke="#00154c"/>
<polygon points="430.4,283.1 434.4,282.1 431.4,279.8 427.4,283.9" fill="#00a9ff" stroke="#00334c"/>
<polygon points="405.5,285.8 409.5,283.3 406.4,281.2 402.5,283.6" fill="#0057ff" stroke="#001a4c"/>
<polygon points="380.5,285.4 384.5,285.6 381.5,281 377.5,278.9" fill="#0068ff" stroke="#001f4c"/>
<polygon points="437.4,282.2 441.4,283 438.4,282.4 434.4,282.1" fill="#00c9ff" stroke="#003c4c"/>
<polygon points="412.5,284.9 416.4,280.9 413.4,282.7 409.5,283.3" fill="#0089ff" stroke="#00294c"/>
<polygon points="387.5,284.9 391.5,283.6 388.5,283.2 384.5,285.6" fill="#0089ff" stroke="#00294c"/>
<polygon points="419.5,286.5 423.4,281.9 420.4,282.4 416.4,280.9" fill="#0068ff" stroke="#001f4c"/>
<polygon points="394.5,286 398.5,286.4 395.5,283.7 391.5,283.6" fill="#0078ff" stroke="#00244c"/>
<polygon points="426.5,287 430.4,283.1 427.4,283.9 423.4,281.9" fill="#0068ff" stroke="#001f4c"/>
<polygon points="401.5,285.9 405.5,285.8 402.5,283.6 398.5,286.4" fill="#0089ff" stroke="#00294c"/>
<polygon points="376.6,286.1 380.5,285.4 377.5,278.9 373.5,283.7" fill="#0089ff" stroke="#00294c"/>
<polygon points="433.5,284.2 437.4,282.2 434.4,282.1 430.4,283.1" fill="#00b9ff" stroke="#00374c"/>
<polygon points="408.5,289 412.5,284.9 409.5,283.3 405.5,285.8" fill="#0046ff" stroke="#00154c"/>
<polygon points="383.6,286.4 387.5,284.9 384.5,285.6 380.5,285.4" fill="#0089ff" stroke="#00294c"/>
<polygon points="440.5,280.6 444.4,281.3 441.4,283 437.4,282.2" fill="#00ffd6" stroke="#004c40"/>
<polygon points="415.5,285.1 419.5,286.5 416.4,280.9 412.5,284.9" fill="#00b9ff" stroke="#00374c"/>
<polygon points="390.6,293.3 394.5,286 391.5,283.6 387.5,284.9" fill="#0000fb" stroke="#00004b"/>
<polygon points="422.5,287.9 426.5,287 423.4,281.9 419.5,286.5" fill="#0078ff" stroke="#00244c"/>
<polygon points="397.6,289.9 401.5,285.9 398.5,286.4 394.5,286" fill="#0046ff" stroke="#00154c"/>
<polygon points="372.6,285.8 376.6,286.1 373.5,283.7 369.6,285.4" fill="#00b9ff" stroke="#00374c"/>
<polygon points="429.5,288.8 433.5,284.2 430.4,283.1 426.5,287" fill="#0068ff" stroke="#001f4c"/>
<polygon points="404.5,289.8 408.5,289 405.5,285.8 401.5,285.9" fill="#0057ff" stroke="#001a4c"/>
<polygon points="379.6,287.9 383.6,286.4 380.5,285.4 376.6,286.1" fill="#0089ff" stroke="#00294c"/>
<polygon points="436.5,285 440.5,280.6 437.4,282.2 433.5,284.2" fill="#00d8ff" stroke="#00414c"/>
<polygon points="411.5,289.1 415.5,285.1 412.5,284.9 408.5,289" fill="#0078ff" stroke="#00244c"/>
<polygon points="386.6,290.4 390.6,293.3 387.5,284.9 383.6,286.4" fill="#0057ff" stroke="#001a4c"/>
<polygon points="443.5,284.2 447.4,284.1 444.4,281.3 440.5,280.6" fill="#00f7ff" stroke="#004a4c"/>
<polygon points="418.5,290.1 422.5,287.9 419.5,286.5 415.5,285.1" fill="#0068ff" stroke="#001f4c"/>
<polygon points="393.6,292.6 397.6,289.9 394.5,286 390.6,293.3" fill="#0023ff" stroke="#000b4c"/>
<polygon points="368.6,287.2 372.6,285.8 369.6,285.4 365.6,286.3" fill="#00b9ff" stroke="#00374c"/>
<polygon points="425.5,288.7 429.5,288.8 426.5,287 422.5,287.9" fill="#0099ff" stroke="#002e4c"/>
<polygon points="400.6,292.9 404.5,289.8 401.5,285.9 397.6,289.9" fill="#0023ff" stroke="#000b4c"/>
<polygon points="375.6,290 379.6,287.9 376.6,286.1 372.6,285.8" fill="#0078ff" stroke="#00244c"/>
<polygon points="432.5,291.7 436.5,285 433.5,284.2 429.5,288.8" fill="#0057ff" stroke="#001a4c"/>
<polygon points="407.6,292.1 411.5,289.1 408.5,289 404.5,289.8" fill="#0046ff" stroke="#00154c"/>
<polygon points="382.6,292.3 386.6,290.4 383.6,286.4 379.6,287.9" fill="#0046ff" stroke="#00154c"/>
<polygon points="439.5,287 443.5,284.2 440.5,280.6 436.5,285" fill="#00d8ff" stroke="#00414c"/>
<polygon points="414.6,287 418.5,290.1 415.5,285.1 411.5,289.1" fill="#00d8ff" stroke="#00414c"/>
<polygon points="389.6,293.3 393.6,292.6 390.6,293.3 386.6,290.4" fill="#0035ff" stroke="#00104c"/>
<polygon points="364.7,289.4 368.6,287.2 365.6,286.3 361.6,287" fill="#00a9ff" stroke="#00334c"/>
<polygon points="446.5,285.7 450.5,283.2 447.4,284.1 443.5,284.2" fill="#00fff7" stroke="#004c4a"/>
<polygon points="421.6,293.8 425.5,288.7 422.5,287.9 418.5,290.1" fill="#0035ff" stroke="#00104c"/>
<polygon points="396.6,298.2 400.6,292.9 397.6,289.9 393.6,292.6" fill="#0000ee" stroke="#000047"/>
<polygon points="371.7,291.7 375.6,290 372.6,285.8 368.6,287.2" fill="#0078ff" stroke="#00244c"/>
<polygon points="428.6,290.2 432.5,291.7 429.5,288.8 425.5,288.7" fill="#00a9ff" stroke="#00334c"/>
<polygon points="403.6,303.5 407.6,292.1 404.5,289.8 400.6,292.9" fill="#0000cb" stroke="#00003d"/>
<polygon points="378.6,291.7 382.6,292.3 379.6,287.9 375.6,290" fill="#0089ff" stroke="#00294c"/>
<polygon points="435.5,290.4 439.5,287 436.5,285 432.5,291.7" fill="#00a9ff" stroke="#00334c"/>
<polygon points="410.6,298 414.6,287 411.5,289.1 407.6,292.1" fill="#0000fb" stroke="#00004b"/>
<polygon points="385.6,291.7 389.6,293.3 386.6,290.4 382.6,292.3" fill="#0089ff" stroke="#00294c"/>
<polygon points="360.7,291.7 364.7,289.4 361.6,287 357.7,290.3" fill="#0089ff" stroke="#00294c"/>
<polygon points="442.5,289.2 446.5,285.7 443.5,284.2 439.5,287" fill="#00d8ff" stroke="#00414c"/>
<polygon points="417.6,288.5 421.6,293.8 418.5,290.1 414.6,287" fill="#00e8ff" stroke="#00464c"/>
<polygon points="392.6,298.9 396.6,298.2 393.6,292.6 389.6,293.3" fill="#0000f5" stroke="#000049"/>
<polygon points="367.7,291.2 371.7,291.7 368.6,287.2 364.7,289.4" fill="#00a9ff" stroke="#00334c"/>
<polygon points="449.5,286 453.5,287.8 450.5,283.2 446.5,285.7" fill="#00ffc6" stroke="#004c3b"/>
<polygon points="424.6,296 428.6,290.2 425.5,288.7 421.6,293.8" fill="#0035ff" stroke="#00104c"/>
<polygon points="399.6,304.1 403.6,303.5 400.6,292.9 396.6,298.2" fill="#0000cb" stroke="#00003d"/>
<polygon points="374.7,294.7 378.6,291.7 375.6,290 371.7,291.7" fill="#0057ff" stroke="#001a4c"/>
<polygon points="431.6,295.3 435.5,290.4 432.5,291.7 428.6,290.2" fill="#0057ff" stroke="#001a4c"/>
<polygon points="406.6,296.9 410.6,298 407.6,292.1 403.6,303.5" fill="#0023ff" stroke="#000b4c"/>
<polygon points="381.7,292.7 385.6,291.7 382.6,292.3 378.6,291.7" fill="#0099ff" stroke="#002e4c"/>
<polygon points="356.7,293.3 360.7,291.7 357.7,290.3 353.7,291.5" fill="#0089ff" stroke="#00294c"/>
<polygon points="438.6,291.1 442.5,289.2 439.5,287 435.5,290.4" fill="#00c9ff" stroke="#003c4c"/>
<polygon points="413.6,300.6 417.6,288.5 414.6,287 410.6,298" fill="#0000f5" stroke="#000049"/>
<polygon points="388.7,294.9 392.6,298.9 389.6,293.3 385.6,291.7" fill="#0068ff" stroke="#001f4c"/>
<polygon points="363.7,295.9 367.7,291.2 364.7,289.4 360.7,291.7" fill="#0057ff" stroke="#001a4c"/>
<polygon points="445.6,290.9 449.5,286 446.5,285.7 442.5,289.2" fill="#00d8ff" stroke="#00414c"/>
<polygon points="420.6,277.7 424.6,296 421.6,293.8 417.6,288.5" fill="#00e8ff" stroke="#00464c"/>
<polygon points="395.7,305.5 399.6,304.1 396.6,298.2 392.6,298.9" fill="#0000cb" stroke="#00003d"/>
<polygon points="370.7,292.3 374.7,294.7 371.7,291.7 367.7,291.2" fill="#00b9ff" stroke="#00374c"/>
<polygon points="452.6,290.1 456.5,288.9 453.5,287.8 449.5,286" fill="#00f7ff" stroke="#004a4c"/>
<polygon points="427.6,294.5 431.6,295.3 428.6,290.2 424.6,296" fill="#0089ff" stroke="#00294c"/>
<polygon points="402.7,304.9 406.6,296.9 403.6,303.5 399.6,304.1" fill="#0000cb" stroke="#00003d"/>
<polygon points="377.7,295.2 381.7,292.7 378.6,291.7 374.7,294.7" fill="#0078ff" stroke="#00244c"/>
<polygon points="434.6,293.4 438.6,291.1 435.5,290.4 431.6,295.3" fill="#00b9ff" stroke="#00374c"/>
<polygon points="409.6,312.4 413.6,300.6 410.6,298 406.6,296.9" fill="#0000cb" stroke="#00003d"/>
<polygon points="384.7,295.5 388.7,294.9 385.6,291.7 381.7,292.7" fill="#0089ff" stroke="#00294c"/>
<polygon points="359.8,297.6 363.7,295.9 360.7,291.7 356.7,293.3" fill="#0057ff" stroke="#001a4c"/>
<polygon points="441.6,292.3 445.6,290.9 442.5,289.2 438.6,291.1" fill="#00d8ff" stroke="#00414c"/>
<polygon points="416.6,262.5 420.6,277.7 417.6,288.5 413.6,300.6" fill="#9f0000" stroke="#300000"/>
<polygon points="391.7,299.5 395.7,305.5 392.6,298.9 388.7,294.9" fill="#0023ff" stroke="#000b4c"/>
<polygon points="366.7,295.2 370.7,292.3 367.7,291.2 363.7,295.9" fill="#0099ff" stroke="#002e4c"/>
<polygon points="448.6,293.3 452.6,290.1 449.5,286 445.6,290.9" fill="#00d8ff" stroke="#00414c"/>
<polygon points="423.6,288.9 427.6,294.5 424.6,296 420.6,277.7" fill="#00ffe7" stroke="#004c45"/>
<polygon points="398.7,305.9 402.7,304.9 399.6,304.1 395.7,305.5" fill="#0000d6" stroke="#000040"/>
<polygon points="373.7,297.9 377.7,295.2 374.7,294.7 370.7,292.3" fill="#0068ff" stroke="#001f4c"/>
<polygon points="455.6,295.1 459.6,293 456.5,288.9 452.6,290.1" fill="#00a9ff" stroke="#00334c"/>
<polygon points="430.6,295.6 434.6,293.4 431.6,295.3 427.6,294.5" fill="#00a9ff" stroke="#00334c"/>
<polygon points="405.7,266.1 409.6,312.4 406.6,296.9 402.7,304.9" fill="#e90000" stroke="#460000"/>
<polygon points="380.7,297.2 384.7,295.5 381.7,292.7 377.7,295.2" fill="#0078ff" stroke="#00244c"/>
<polygon points="437.6,293.4 441.6,292.3 438.6,291.1 434.6,293.4" fill="#00e8ff" stroke="#00464c"/>
<polygon points="412.7,299.2 416.6,262.5 413.6,300.6 409.6,312.4" fill="#0000e7" stroke="#000045"/>
<polygon points="387.7,301.2 391.7,299.5 388.7,294.9 384.7,295.5" fill="#0023ff" stroke="#000b4c"/>
<polygon points="362.8,298.8 366.7,295.2 363.7,295.9 359.8,297.6" fill="#0068ff" stroke="#001f4c"/>
<polygon points="444.6,294 448.6,293.3 445.6,290.9 441.6,292.3" fill="#00e8ff" stroke="#00464c"/>
<polygon points="419.7,285.8 423.6,288.9 420.6,277.7 416.6,262.5" fill="#fff700" stroke="#4c4a00"/>
<polygon points="394.7,304.9 398.7,305.9 395.7,305.5 391.7,299.5" fill="#0000f5" stroke="#000049"/>
<polygon points="369.8,296.8 373.7,297.9 370.7,292.3 366.7,295.2" fill="#00a9ff" stroke="#00334c"/>
<polygon points="451.6,296.1 455.6,295.1 452.6,290.1 448.6,293.3" fill="#00b9ff" stroke="#00374c"/>
<polygon points="426.7,295.3 430.6,295.6 427.6,294.5 423.6,288.9" fill="#00d8ff" stroke="#00414c"/>
<polygon points="401.7,303.5 405.7,266.1 402.7,304.9 398.7,305.9" fill="#0000e7" stroke="#000045"/>
<polygon points="376.8,300.2 380.7,297.2 377.7,295.2 373.7,297.9" fill="#0057ff" stroke="#001a4c"/>
<polygon points="458.6,298.2 462.6,295.7 459.6,293 455.6,295.1" fill="#0099ff" stroke="#002e4c"/>
<polygon points="433.7,297.5 437.6,293.4 434.6,293.4 430.6,295.6" fill="#00a9ff" stroke="#00334c"/>
<polygon points="408.7,297.1 412.7,299.2 409.6,312.4 405.7,266.1" fill="#00a9ff" stroke="#00334c"/>
<polygon points="383.8,296.7 387.7,301.2 384.7,295.5 380.7,297.2" fill="#00b9ff" stroke="#00374c"/>
<polygon points="440.6,293.7 444.6,294 441.6,292.3 437.6,293.4" fill="#00ffe7" stroke="#004c45"/>
<polygon points="415.7,303.6 419.7,285.8 416.6,262.5 412.7,299.2" fill="#00a9ff" stroke="#00334c"/>
<polygon points="390.8,302.3 394.7,304.9 391.7,299.5 387.7,301.2" fill="#0035ff" stroke="#00104c"/>
<polygon points="365.8,301.8 369.8,296.8 366.7,295.2 362.8,298.8" fill="#0046ff" stroke="#00154c"/>
<polygon points="447.6,297 451.6,296.1 448.6,293.3 444.6,294" fill="#00c9ff" stroke="#003c4c"/>
<polygon points="422.7,297.1 426.7,295.3 423.6,288.9 419.7,285.8" fill="#00ffe7" stroke="#004c45"/>
<polygon points="397.7,306.8 401.7,303.5 398.7,305.9 394.7,304.9" fill="#0000f5" stroke="#000049"/>
<polygon points="372.8,298.7 376.8,300.2 373.7,297.9 369.8,296.8" fill="#00a9ff" stroke="#00334c"/>
<polygon points="454.6,299.8 458.6,298.2 455.6,295.1 451.6,296.1" fill="#0099ff" stroke="#002e4c"/>
<polygon points="429.7,300.5 433.7,297.5 430.6,295.6 426.7,295.3" fill="#0089ff" stroke="#00294c"/>
<polygon points="404.7,305.5 408.7,297.1 405.7,266.1 401.7,303.5" fill="#0000e7" stroke="#000045"/>
<polygon points="379.8,300.1 383.8,296.7 380.7,297.2 376.8,300.2" fill="#0099ff" stroke="#002e4c"/>
<polygon points="461.6,301.2 465.6,297.1 462.6,295.7 458.6,298.2" fill="#0078ff" stroke="#00244c"/>
<polygon points="436.7,297.4 440.6,293.7 437.6,293.4 433.7,297.5" fill="#00d8ff" stroke="#00414c"/>
<polygon points="411.7,306.7 415.7,303.6 412.7,299.2 408.7,297.1" fill="#0000ff" stroke="#00004c"/>
<polygon points="386.8,297 390.8,302.3 387.7,301.2 383.8,296.7" fill="#00e8ff" stroke="#00464c"/>
<polygon points="443.7,297.5 447.6,297 444.6,294 440.6,293.7" fill="#00e8ff" stroke="#00464c"/>
<polygon points="418.7,304.5 422.7,297.1 419.7,285.8 415.7,303.6" fill="#0035ff" stroke="#00104c"/>
<polygon points="393.8,300.1 397.7,306.8 394.7,304.9 390.8,302.3" fill="#00a9ff" stroke="#00334c"/>
<polygon points="368.8,303.4 372.8,298.7 369.8,296.8 365.8,301.8" fill="#0057ff" stroke="#001a4c"/>
<polygon points="450.7,300.4 454.6,299.8 451.6,296.1 447.6,297" fill="#00a9ff" stroke="#00334c"/>
<polygon points="425.7,302.5 429.7,300.5 426.7,295.3 422.7,297.1" fill="#0078ff" stroke="#00244c"/>
<polygon points="400.8,308.3 404.7,305.5 401.7,303.5 397.7,306.8" fill="#0000fb" stroke="#00004b"/>
<polygon points="375.8,302 379.8,300.1 376.8,300.2 372.8,298.7" fill="#0089ff" stroke="#00294c"/>
<polygon points="457.7,302.2 461.6,301.2 458.6,298.2 454.6,299.8" fill="#0089ff" stroke="#00294c"/>
<polygon points="432.7,301.6 436.7,297.4 433.7,297.5 429.7,300.5" fill="#0099ff" stroke="#002e4c"/>
<polygon points="407.8,308.7 411.7,306.7 408.7,297.1 404.7,305.5" fill="#0000fb" stroke="#00004b"/>
<polygon points="382.8,298.9 386.8,297 383.8,296.7 379.8,300.1" fill="#00e8ff" stroke="#00464c"/>
<polygon points="439.7,300.5 443.7,297.5 440.6,293.7 436.7,297.4" fill="#00c9ff" stroke="#003c4c"/>
<polygon points="414.8,305.2 418.7,304.5 415.7,303.6 411.7,306.7" fill="#0046ff" stroke="#00154c"/>
<polygon points="389.8,297.7 393.8,300.1 390.8,302.3 386.8,297" fill="#00fff7" stroke="#004c4a"/>
<polygon points="446.7,302.2 450.7,300.4 447.6,297 443.7,297.5" fill="#00a9ff" stroke="#00334c"/>
<polygon points="421.8,300.6 425.7,302.5 422.7,297.1 418.7,304.5" fill="#00c9ff" stroke="#003c4c"/>
<polygon points="396.8,307.7 400.8,308.3 397.7,306.8 393.8,300.1" fill="#0011ff" stroke="#00054c"/>
<polygon points="371.8,303.9 375.8,302 372.8,298.7 368.8,303.4" fill="#0078ff" stroke="#00244c"/>
<polygon points="453.7,302.1 457.7,302.2 454.6,299.8 450.7,300.4" fill="#00b9ff" stroke="#00374c"/>
<polygon points="428.7,301.6 432.7,301.6 429.7,300.5 425.7,302.5" fill="#00c9ff" stroke="#003c4c"/>
<polygon points="403.8,301.4 407.8,308.7 404.7,305.5 400.8,308.3" fill="#00c9ff" stroke="#003c4c"/>
<polygon points="378.8,300.8 382.8,298.9 379.8,300.1 375.8,302" fill="#00d8ff" stroke="#00414c"/>
<polygon points="435.7,300.5 439.7,300.5 436.7,297.4 432.7,301.6" fill="#00e8ff" stroke="#00464c"/>
<polygon points="410.8,307.3 414.8,305.2 411.7,306.7 407.8,308.7" fill="#0035ff" stroke="#00104c"/>
<polygon points="385.8,300.1 389.8,297.7 386.8,297 382.8,298.9" fill="#00f7ff" stroke="#004a4c"/>
<polygon points="442.7,303.6 446.7,302.2 443.7,297.5 439.7,300.5" fill="#00a9ff" stroke="#00334c"/>
<polygon points="417.8,307.2 421.8,300.6 418.7,304.5 414.8,305.2" fill="#0046ff" stroke="#00154c"/>
<polygon points="392.8,305.2 396.8,307.7 393.8,300.1 389.8,297.7" fill="#0089ff" stroke="#00294c"/>
<polygon points="449.7,301.7 453.7,302.1 450.7,300.4 446.7,302.2" fill="#00e8ff" stroke="#00464c"/>
<polygon points="424.8,305.1 428.7,301.6 425.7,302.5 421.8,300.6" fill="#0089ff" stroke="#00294c"/>
<polygon points="399.8,305.6 403.8,301.4 400.8,308.3 396.8,307.7" fill="#0089ff" stroke="#00294c"/>
<polygon points="374.9,303.8 378.8,300.8 375.8,302 371.8,303.9" fill="#00b9ff" stroke="#00374c"/>
<polygon points="431.8,305.3 435.7,300.5 432.7,301.6 428.7,301.6" fill="#0099ff" stroke="#002e4c"/>
<polygon points="406.8,307.1 410.8,307.3 407.8,308.7 403.8,301.4" fill="#0068ff" stroke="#001f4c"/>
<polygon points="381.9,302.9 385.8,300.1 382.8,298.9 378.8,300.8" fill="#00d8ff" stroke="#00414c"/>
<polygon points="438.8,303.8 442.7,303.6 439.7,300.5 435.7,300.5" fill="#00c9ff" stroke="#003c4c"/>
<polygon points="413.8,306.7 417.8,307.2 414.8,305.2 410.8,307.3" fill="#0089ff" stroke="#00294c"/>
<polygon points="388.9,304.3 392.8,305.2 389.8,297.7 385.8,300.1" fill="#00b9ff" stroke="#00374c"/>
<polygon points="445.8,306.4 449.7,301.7 446.7,302.2 442.7,303.6" fill="#0099ff" stroke="#002e4c"/>
<polygon points="420.8,305 424.8,305.1 421.8,300.6 417.8,307.2" fill="#00b9ff" stroke="#00374c"/>
<polygon points="395.9,307.2 399.8,305.6 396.8,307.7 392.8,305.2" fill="#0089ff" stroke="#00294c"/>
<polygon points="427.8,306.7 431.8,305.3 428.7,301.6 424.8,305.1" fill="#0099ff" stroke="#002e4c"/>
<polygon points="402.8,306.8 406.8,307.1 403.8,301.4 399.8,305.6" fill="#0099ff" stroke="#002e4c"/>
<polygon points="377.9,305 381.9,302.9 378.8,300.8 374.9,303.8" fill="#00c9ff" stroke="#003c4c"/>
<polygon points="434.8,307.5 438.8,303.8 435.7,300.5 431.8,305.3" fill="#0099ff" stroke="#002e4c"/>
<polygon points="409.8,308.5 413.8,306.7 410.8,307.3 406.8,307.1" fill="#0078ff" stroke="#00244c"/>
<polygon points="384.9,305.9 388.9,304.3 385.8,300.1 381.9,302.9" fill="#00b9ff" stroke="#00374c"/>
<polygon points="441.8,309.6 445.8,306.4 442.7,303.6 438.8,303.8" fill="#0068ff" stroke="#001f4c"/>
<polygon points="416.8,309.2 420.8,305 417.8,307.2 413.8,306.7" fill="#0078ff" stroke="#00244c"/>
<polygon points="391.9,306.6 395.9,307.2 392.8,305.2 388.9,304.3" fill="#00b9ff" stroke="#00374c"/>
<polygon points="423.8,307 427.8,306.7 424.8,305.1 420.8,305" fill="#00b9ff" stroke="#00374c"/>
<polygon points="398.9,306.6 402.8,306.8 399.8,305.6 395.9,307.2" fill="#00c9ff" stroke="#003c4c"/>
<polygon points="430.8,307.5 434.8,307.5 431.8,305.3 427.8,306.7" fill="#00b9ff" stroke="#00374c"/>
<polygon points="405.9,308.1 409.8,308.5 406.8,307.1 402.8,306.8" fill="#00a9ff" stroke="#00334c"/>
<polygon points="380.9,307.2 384.9,305.9 381.9,302.9 377.9,305" fill="#00c9ff" stroke="#003c4c"/>
<polygon points="437.8,309.6 441.8,309.6 438.8,303.8 434.8,307.5" fill="#0089ff" stroke="#00294c"/>
<polygon points="412.9,308.7 416.8,309.2 413.8,306.7 409.8,308.5" fill="#00a9ff" stroke="#00334c"/>
<polygon points="387.9,307.9 391.9,306.6 388.9,304.3 384.9,305.9" fill="#00b9ff" stroke="#00374c"/>
<polygon points="419.9,310.5 423.8,307 420.8,305 416.8,309.2" fill="#0089ff" stroke="#00294c"/>
<polygon points="394.9,312.4 398.9,306.6 395.9,307.2 391.9,306.6" fill="#0057ff" stroke="#001a4c"/>
<polygon points="426.9,309.4 430.8,307.5 427.8,306.7 423.8,307" fill="#00a9ff" stroke="#00334c"/>
<polygon points="401.9,310.3 405.9,308.1 402.8,306.8 398.9,306.6" fill="#0099ff" stroke="#002e4c"/>
<polygon points="433.8,310.8 437.8,309.6 434.8,307.5 430.8,307.5" fill="#0099ff" stroke="#002e4c"/>
<polygon points="408.9,310.4 412.9,308.7 409.8,308.5 405.9,308.1" fill="#00a9ff" stroke="#00334c"/>
<polygon points="383.9,313.8 387.9,307.9 384.9,305.9 380.9,307.2" fill="#0046ff" stroke="#00154c"/>
<polygon points="415.9,312.1 419.9,310.5 416.8,309.2 412.9,308.7" fill="#0089ff" stroke="#00294c"/>
<polygon points="390.9,313.3 394.9,312.4 391.9,306.6 387.9,307.9" fill="#0068ff" stroke="#001f4c"/>
<polygon points="422.9,312.5 426.9,309.4 423.8,307 419.9,310.5" fill="#0089ff" stroke="#00294c"/>
<polygon points="397.9,315.5 401.9,310.3 398.9,306.6 394.9,312.4" fill="#0035ff" stroke="#00104c"/>
<polygon points="429.9,312 433.8,310.8 430.8,307.5 426.9,309.4" fill="#0099ff" stroke="#002e4c"/>
<polygon points="404.9,314.6 408.9,310.4 405.9,308.1 401.9,310.3" fill="#0057ff" stroke="#001a4c"/>
<polygon points="411.9,313 415.9,312.1 412.9,308.7 408.9,310.4" fill="#0099ff" stroke="#002e4c"/>
<polygon points="387,313.8 390.9,313.3 387.9,307.9 383.9,313.8" fill="#0078ff" stroke="#00244c"/>
<polygon points="418.9,314.8 422.9,312.5 419.9,310.5 415.9,312.1" fill="#0078ff" stroke="#00244c"/>
<polygon points="394,317.2 397.9,315.5 394.9,312.4 390.9,313.3" fill="#0035ff" stroke="#00104c"/>
<polygon points="425.9,316 429.9,312 426.9,309.4 422.9,312.5" fill="#0057ff" stroke="#001a4c"/>
<polygon points="401,316.8 404.9,314.6 401.9,310.3 397.9,315.5" fill="#0046ff" stroke="#00154c"/>
<polygon points="408,314.8 411.9,313 408.9,310.4 404.9,314.6" fill="#0089ff" stroke="#00294c"/>
<polygon points="414.9,316.8 418.9,314.8 415.9,312.1 411.9,313" fill="#0068ff" stroke="#001f4c"/>
<polygon points="390,319.2 394,317.2 390.9,313.3 387,313.8" fill="#0023ff" stroke="#000b4c"/>
<polygon points="421.9,315.8 425.9,316 422.9,312.5 418.9,314.8" fill="#0089ff" stroke="#00294c"/>
<polygon points="397,320.6 401,316.8 397.9,315.5 394,317.2" fill="#0011ff" stroke="#00054c"/>
<polygon points="404,319 408,314.8 404.9,314.6 401,316.8" fill="#0046ff" stroke="#00154c"/>
<polygon points="411,316.5 414.9,316.8 411.9,313 408,314.8" fill="#0099ff" stroke="#002e4c"/>
<polygon points="418,320.3 421.9,315.8 418.9,314.8 414.9,316.8" fill="#0035ff" stroke="#00104c"/>
<polygon points="393,319.7 397,320.6 394,317.2 390,319.2" fill="#0057ff" stroke="#001a4c"/>
<polygon points="400,323.9 404,319 401,316.8 397,320.6" fill="#0000ff" stroke="#00004c"/>
<polygon points="407,321.2 411,316.5 408,314.8 404,319" fill="#0046ff" stroke="#00154c"/>
<polygon points="414,322 418,320.3 414.9,316.8 411,316.5" fill="#0035ff" stroke="#00104c"/>
<polygon points="396.1,321.5 400,323.9 397,320.6 393,319.7" fill="#0057ff" stroke="#001a4c"/>
<polygon points="403,323.8 407,321.2 404,319 400,323.9" fill="#0023ff" stroke="#000b4c"/>
<polygon points="410,321.7 414,322 411,316.5 407,321.2" fill="#0068ff" stroke="#001f4c"/>
<polygon points="399.1,321.9 403,323.8 400,323.9 396.1,321.5" fill="#0078ff" stroke="#00244c"/>
<polygon points="406.1,324.7 410,321.7 407,321.2 403,323.8" fill="#0046ff" stroke="#00154c"/>
<polygon points="402.1,324.2 406.1,324.7 403,323.8 399.1,321.9" fill="#0078ff" stroke="#00244c"/>
</g>
<rect x="477.6" y="216.3" width="6.4" height="2.3" fill="#9f0000"/>
<rect x="477.6" y="218.3" width="6.4" height="2.3" fill="#b20000"/>
<rect x="477.6" y="220.3" width="6.4" height="2.3" fill="#c40000"/>
<rect x="477.6" y="222.4" width="6.4" height="2.3" fill="#d70000"/>
<rect x="477.6" y="224.4" width="6.4" height="2.3" fill="#e90000"/>
<rect x="477.6" y="226.4" width="6.4" height="2.3" fill="#fb0000"/>
<rect x="477.6" y="228.4" width="6.4" height="2.3" fill="#ff0000"/>
<rect x="477.6" y="230.5" width="6.4" height="2.3" fill="#ff0000"/>
<rect x="477.6" y="232.5" width="6.4" height="2.3" fill="#ff0200"/>
<rect x="477.6" y="234.5" width="6.4" height="2.3" fill="#ff1100"/>
<rect x="477.6" y="236.5" width="6.4" height="2.3" fill="#ff2300"/>
<rect x="477.6" y="238.6" width="6.4" height="2.3" fill="#ff3500"/>
<rect x="477.6" y="240.6" width="6.4" height="2.3" fill="#ff4600"/>
<rect x="477.6" y="242.6" width="6.4" height="2.3" fill="#ff5700"/>
<rect x="477.6" y="244.6" width="6.4" height="2.3" fill="#ff6800"/>
<rect x="477.6" y="246.7" width="6.4" height="2.3" fill="#ff7800"/>
<rect x="477.6" y="248.7" width="6.4" height="2.3" fill="#ff8900"/>
<rect x="477.6" y="250.7" width="6.4" height="2.3" fill="#ff9900"/>
<rect x="477.6" y="252.7" width="6.4" height="2.3" fill="#ffa900"/>
<rect x="477.6" y="254.8" width="6.4" height="2.3" fill="#ffb900"/>
<rect x="477.6" y="256.8" width="6.4" height="2.3" fill="#ffc900"/>
<rect x="477.6" y="258.8" width="6.4" height="2.3" fill="#ffd800"/>
<rect x="477.6" y="260.8" width="6.4" height="2.3" fill="#ffe800"/>
<rect x="477.6" y="262.9" width="6.4" height="2.3" fill="#fff700"/>
<rect x="477.6" y="264.9" width="6.4" height="2.3" fill="#f4ff00"/>
<rect x="477.6" y="266.9" width="6.4" height="2.3" fill="#deff00"/>
<rect x="477.6" y="268.9" width="6.4" height="2.3" fill="#c6ff00"/>
<rect x="477.6" y="271" width="6.4" height="2.3" fill="#acff00"/>
<rect x="477.6" y="273" width="6.4" height="2.3" fill="#90ff28"/>
<rect x="477.6" y="275" width="6.4" height="2.3" fill="#6eff43"/>
<rect x="477.6" y="277" width="6.4" height="2.3" fill="#3dff59"/>
<rect x="477.6" y="279.1" width="6.4" height="2.3" fill="#00ff6d"/>
<rect x="477.6" y="281.1" width="6.4" height="2.3" fill="#00ff80"/>
<rect x="477.6" y="283.1" width="6.4" height="2.3" fill="#00ff92"/>
<rect x="477.6" y="285.1" width="6.4" height="2.3" fill="#00ffa4"/>
<rect x="477.6" y="287.2" width="6.4" height="2.3" fill="#00ffb5"/>
<rect x="477.6" y="289.2" width="6.4" height="2.3" fill="#00ffc6"/>
<rect x="477.6" y="291.2" width="6.4" height="2.3" fill="#00ffd6"/>
<rect x="477.6" y="293.2" width="6.4" height="2.3" fill="#00ffe7"/>
<rect x="477.6" y="295.3" width="6.4" height="2.3" fill="#00fff7"/>
<rect x="477.6" y="297.3" width="6.4" height="2.3" fill="#00f7ff"/>
<rect x="477.6" y="299.3" width="6.4" height="2.3" fill="#00e8ff"/>
<rect x="477.6" y="301.3" width="6.4" height="2.3" fill="#00d8ff"/>
<rect x="477.6" y="303.4" width="6.4" height="2.3" fill="#00c9ff"/>
<rect x="477.6" y="305.4" width="6.4" height="2.3" fill="#00b9ff"/>
<rect x="477.6" y="307.4" width="6.4" height="2.3" fill="#00a9ff"/>
<rect x="477.6" y="309.4" width="6.4" height="2.3" fill="#0099ff"/>
<rect x="477.6" y="311.5" width="6.4" height="2.3" fill="#0089ff"/>
<rect x="477.6" y="313.5" width="6.4" height="2.3" fill="#0078ff"/>
<rect x="477.6" y="315.5" width="6.4" height="2.3" fill="#0068ff"/>
<rect x="477.6" y="317.5" width="6.4" height="2.3" fill="#0057ff"/>
<rect x="477.6" y="319.6" width="6.4" height="2.3" fill="#0046ff"/>
<rect x="477.6" y="321.6" width="6.4" height="2.3" fill="#0035ff"/>
<rect x="477.6" y="323.6" width="6.4" height="2.3" fill="#0023ff"/>
<rect x="477.6" y="325.6" width="6.4" height="2.3" fill="#0011ff"/>
<rect x="477.6" y="327.7" width="6.4" height="2.3" fill="#0002ff"/>
<rect x="477.6" y="329.7" width="6.4" height="2.3" fill="#0000ff"/>
<rect x="477.6" y="331.7" width="6.4" height="2.3" fill="#0000fb"/>
<rect x="477.6" y="333.8" width="6.4" height="2.3" fill="#0000f5"/>
<rect x="477.6" y="335.8" width="6.4" height="2.3" fill="#0000ee"/>
<rect x="477.6" y="337.8" width="6.4" height="2.3" fill="#0000e7"/>
<rect x="477.6" y="339.8" width="6.4" height="2.3" fill="#0000df"/>
<rect x="477.6" y="341.8" width="6.4" height="2.3" fill="#0000d6"/>
<rect x="477.6" y="343.9" width="6.4" height="2.3" fill="#0000cb"/>
<rect x="477.6" y="216.3" width="6.4" height="129.6" fill="none" stroke="#444" stroke-width="0.4"/>
<text x="484.6" y="349.5" text-anchor="start" font-size="8.4">-200</text>
<text x="484.6" y="319.5" text-anchor="start" font-size="8.4">0</text>
<text x="484.6" y="289.5" text-anchor="start" font-size="8.4">200</text>
<text x="484.6" y="259.5" text-anchor="start" font-size="8.4">400</text>
<text x="484.6" y="229.5" text-anchor="start" font-size="8.4">600</text>
<g stroke="#dcdcdc" stroke-width="0.8">
<line x1="103.2" y1="521" x2="54.8" y2="488.9"/>
<line x1="54.8" y1="488.9" x2="54.8" y2="419.4"/>
<line x1="123" y1="513.4" x2="74.6" y2="481.3"/>
<line x1="74.6" y1="481.3" x2="74.6" y2="411.8"/>
<line x1="142.9" y1="505.8" x2="94.5" y2="473.6"/>
<line x1="94.5" y1="473.6" x2="94.5" y2="404.2"/>
<line x1="75.2" y1="519.1" x2="138.7" y2="494.7"/>
<line x1="138.7" y1="494.7" x2="138.7" y2="425.2"/>
<line x1="60.1" y1="509" x2="123.6" y2="484.6"/>
<line x1="123.6" y1="484.6" x2="123.6" y2="415.2"/>
<line x1="44.9" y1="499" x2="108.5" y2="474.6"/>
<line x1="108.5" y1="474.6" x2="108.5" y2="405.2"/>
<line x1="38.9" y1="495" x2="102.4" y2="470.6"/>
<line x1="102.4" y1="470.6" x2="150.8" y2="502.7"/>
<line x1="38.9" y1="460.3" x2="102.4" y2="435.9"/>
<line x1="102.4" y1="435.9" x2="150.8" y2="468"/>
<line x1="38.9" y1="425.6" x2="102.4" y2="401.2"/>
<line x1="102.4" y1="401.2" x2="150.8" y2="433.3"/>
</g>
<g stroke="#9a9a9a" stroke-width="0.9">
<line x1="38.9" y1="495" x2="38.9" y2="425.6"/>
<line x1="38.9" y1="495" x2="87.3" y2="527.1"/>
<line x1="87.3" y1="527.1" x2="150.8" y2="502.7"/>
<line x1="38.9" y1="495" x2="37.4" y2="495"/>
<line x1="38.9" y1="460.3" x2="37.4" y2="460.3"/>
<line x1="38.9" y1="425.6" x2="37.4" y2="425.6"/>
<line x1="75.2" y1="519.1" x2="73.6" y2="519.7"/>
<line x1="60.1" y1="509" x2="58.5" y2="509.6"/>
<line x1="44.9" y1="499" x2="43.3" y2="499.6"/>
<line x1="103.2" y1="521" x2="104.4" y2="522"/>
<line x1="123" y1="513.4" x2="124.2" y2="514.4"/>
<line x1="142.9" y1="505.8" x2="144.1" y2="506.8"/>
</g>
<text x="36" y="497" text-anchor="end" font-size="8.4">0</text>
<text x="36" y="462.3" text-anchor="end" font-size="8.4">5000</text>
<text x="36" y="428.4" text-anchor="end" font-size="8.4">10000</text>
<text x="72.4" y="529.4" text-anchor="end" font-size="8.4">5</text>
<text x="57.3" y="519.3" text-anchor="end" font-size="8.4">10</text>
<text x="42.1" y="509.3" text-anchor="end" font-size="8.4">15</text>
<text x="105.7" y="531.6" text-anchor="start" font-size="8.4">5</text>
<text x="125.5" y="524" text-anchor="start" font-size="8.4">10</text>
<text x="145.4" y="516.4" text-anchor="start" font-size="8.4">15</text>
<text x="37.9" y="543.6" text-anchor="middle" font-size="8.4">y (px)</text>
<text x="140.3" y="545.3" text-anchor="middle" font-size="8.4">x (px)</text>
<text transform="translate(8.7 461.1) rotate(-90)" text-anchor="middle" font-size="8.4">Intensity</text>
<text x="95.1" y="395.4" text-anchor="middle" font-size="8.55">Original</text>
<g stroke-width="0.42" stroke-linejoin="round">
<polygon points="101.5,470.5 105.4,468.6 102.4,467.2 98.4,468.4" fill="#0000cb" stroke="#000051"/>
<polygon points="97.5,471.6 101.5,470.5 98.4,468.4 94.5,470" fill="#0000d6" stroke="#000056"/>
<polygon points="104.5,472.2 108.5,471 105.4,468.6 101.5,470.5" fill="#0000d6" stroke="#000056"/>
<polygon points="93.5,473.1 97.5,471.6 94.5,470 90.5,471.3" fill="#0000d6" stroke="#000056"/>
<polygon points="100.5,473.2 104.5,472.2 101.5,470.5 97.5,471.6" fill="#0000d6" stroke="#000056"/>
<polygon points="107.5,474 111.5,472.8 108.5,471 104.5,472.2" fill="#0000d6" stroke="#000056"/>
<polygon points="89.6,474.2 93.5,473.1 90.5,471.3 86.5,472.8" fill="#0000d6" stroke="#000056"/>
<polygon points="96.5,474.6 100.5,473.2 97.5,471.6 93.5,473.1" fill="#0000d6" stroke="#000056"/>
<polygon points="103.5,475.1 107.5,474 104.5,472.2 100.5,473.2" fill="#0000d6" stroke="#000056"/>
<polygon points="110.5,475.7 114.5,474.6 111.5,472.8 107.5,474" fill="#0000d6" stroke="#000056"/>
<polygon points="85.6,475.8 89.6,474.2 86.5,472.8 82.6,474.2" fill="#0000d6" stroke="#000056"/>
<polygon points="92.6,475.9 96.5,474.6 93.5,473.1 89.6,474.2" fill="#0000df" stroke="#000059"/>
<polygon points="99.6,476.6 103.5,475.1 100.5,473.2 96.5,474.6" fill="#0000d6" stroke="#000056"/>
<polygon points="106.6,477.1 110.5,475.7 107.5,474 103.5,475.1" fill="#0000d6" stroke="#000056"/>
<polygon points="81.6,477.4 85.6,475.8 82.6,474.2 78.6,475.6" fill="#0000d6" stroke="#000056"/>
<polygon points="113.6,477.7 117.5,476.4 114.5,474.6 110.5,475.7" fill="#0000d6" stroke="#000056"/>
<polygon points="88.6,477.1 92.6,475.9 89.6,474.2 85.6,475.8" fill="#0000df" stroke="#000059"/>
<polygon points="95.6,477.7 99.6,476.6 96.5,474.6 92.6,475.9" fill="#0000df" stroke="#000059"/>
<polygon points="102.6,477.8 106.6,477.1 103.5,475.1 99.6,476.6" fill="#0000df" stroke="#000059"/>
<polygon points="77.6,478.4 81.6,477.4 78.6,475.6 74.6,476.9" fill="#0000df" stroke="#000059"/>
<polygon points="109.6,478.5 113.6,477.7 110.5,475.7 106.6,477.1" fill="#0000df" stroke="#000059"/>
<polygon points="84.6,478.6 88.6,477.1 85.6,475.8 81.6,477.4" fill="#0000df" stroke="#000059"/>
<polygon points="116.6,479.4 120.6,478.6 117.5,476.4 113.6,477.7" fill="#0000df" stroke="#000059"/>
<polygon points="91.6,478.7 95.6,477.7 92.6,475.9 88.6,477.1" fill="#0000e7" stroke="#00005c"/>
<polygon points="98.6,479.2 102.6,477.8 99.6,476.6 95.6,477.7" fill="#0000e7" stroke="#00005c"/>
<polygon points="73.7,479.9 77.6,478.4 74.6,476.9 70.7,478.5" fill="#0000df" stroke="#000059"/>
<polygon points="105.6,479.9 109.6,478.5 106.6,477.1 102.6,477.8" fill="#0000df" stroke="#000059"/>
<polygon points="80.7,479.9 84.6,478.6 81.6,477.4 77.6,478.4" fill="#0000df" stroke="#000059"/>
<polygon points="112.6,480.5 116.6,479.4 113.6,477.7 109.6,478.5" fill="#0000df" stroke="#000059"/>
<polygon points="87.7,479.7 91.6,478.7 88.6,477.1 84.6,478.6" fill="#0000e7" stroke="#00005c"/>
<polygon points="119.6,481.1 123.6,480.4 120.6,478.6 116.6,479.4" fill="#0000df" stroke="#000059"/>
<polygon points="94.7,479.8 98.6,479.2 95.6,477.7 91.6,478.7" fill="#0000ee" stroke="#00005f"/>
<polygon points="69.7,481.9 73.7,479.9 70.7,478.5 66.7,480.2" fill="#0000d6" stroke="#000056"/>
<polygon points="101.7,480.4 105.6,479.9 102.6,477.8 98.6,479.2" fill="#0000e7" stroke="#00005c"/>
<polygon points="76.7,481.4 80.7,479.9 77.6,478.4 73.7,479.9" fill="#0000df" stroke="#000059"/>
<polygon points="108.6,481.5 112.6,480.5 109.6,478.5 105.6,479.9" fill="#0000e7" stroke="#00005c"/>
<polygon points="83.7,481.2 87.7,479.7 84.6,478.6 80.7,479.9" fill="#0000e7" stroke="#00005c"/>
<polygon points="115.6,482.8 119.6,481.1 116.6,479.4 112.6,480.5" fill="#0000df" stroke="#000059"/>
<polygon points="90.7,481 94.7,479.8 91.6,478.7 87.7,479.7" fill="#0000ee" stroke="#00005f"/>
<polygon points="65.7,483.4 69.7,481.9 66.7,480.2 62.7,481.7" fill="#0000d6" stroke="#000056"/>
<polygon points="122.6,483.4 126.6,482.7 123.6,480.4 119.6,481.1" fill="#0000df" stroke="#000059"/>
<polygon points="97.7,480.9 101.7,480.4 98.6,479.2 94.7,479.8" fill="#0000f5" stroke="#000062"/>
<polygon points="72.7,483 76.7,481.4 73.7,479.9 69.7,481.9" fill="#0000df" stroke="#000059"/>
<polygon points="104.7,481.5 108.6,481.5 105.6,479.9 101.7,480.4" fill="#0000f5" stroke="#000062"/>
<polygon points="79.7,482.5 83.7,481.2 80.7,479.9 76.7,481.4" fill="#0000ee" stroke="#00005f"/>
<polygon points="111.7,483 115.6,482.8 112.6,480.5 108.6,481.5" fill="#0000e7" stroke="#00005c"/>
<polygon points="86.7,481.7 90.7,481 87.7,479.7 83.7,481.2" fill="#0000f5" stroke="#000062"/>
<polygon points="61.8,485 65.7,483.4 62.7,481.7 58.7,483.1" fill="#0000d6" stroke="#000056"/>
<polygon points="118.7,484.2 122.6,483.4 119.6,481.1 115.6,482.8" fill="#0000e7" stroke="#00005c"/>
<polygon points="93.7,481.1 97.7,480.9 94.7,479.8 90.7,481" fill="#0000fb" stroke="#000064"/>
<polygon points="68.8,484.5 72.7,483 69.7,481.9 65.7,483.4" fill="#0000df" stroke="#000059"/>
<polygon points="125.7,485.3 129.6,484.3 126.6,482.7 122.6,483.4" fill="#0000df" stroke="#000059"/>
<polygon points="100.7,481.3 104.7,481.5 101.7,480.4 97.7,480.9" fill="#0000ff" stroke="#000066"/>
<polygon points="75.8,484.3 79.7,482.5 76.7,481.4 72.7,483" fill="#0000e7" stroke="#00005c"/>
<polygon points="107.7,483.1 111.7,483 108.6,481.5 104.7,481.5" fill="#0000f5" stroke="#000062"/>
<polygon points="82.8,482.8 86.7,481.7 83.7,481.2 79.7,482.5" fill="#0000fb" stroke="#000064"/>
<polygon points="57.8,486.9 61.8,485 58.7,483.1 54.8,484.8" fill="#0000d6" stroke="#000056"/>
<polygon points="114.7,484.8 118.7,484.2 115.6,482.8 111.7,483" fill="#0000ee" stroke="#00005f"/>
<polygon points="89.7,480.6 93.7,481.1 90.7,481 86.7,481.7" fill="#0011ff" stroke="#000766"/>
<polygon points="64.8,486.7 68.8,484.5 65.7,483.4 61.8,485" fill="#0000df" stroke="#000059"/>
<polygon points="121.7,486.5 125.7,485.3 122.6,483.4 118.7,484.2" fill="#0000df" stroke="#000059"/>
<polygon points="96.7,478.7 100.7,481.3 97.7,480.9 93.7,481.1" fill="#0046ff" stroke="#001c66"/>
<polygon points="71.8,486 75.8,484.3 72.7,483 68.8,484.5" fill="#0000e7" stroke="#00005c"/>
<polygon points="128.7,487.5 132.7,486.5 129.6,484.3 125.7,485.3" fill="#0000df" stroke="#000059"/>
<polygon points="103.7,481.3 107.7,483.1 104.7,481.5 100.7,481.3" fill="#0011ff" stroke="#000766"/>
<polygon points="78.8,484.7 82.8,482.8 79.7,482.5 75.8,484.3" fill="#0000f5" stroke="#000062"/>
<polygon points="53.8,488.3 57.8,486.9 54.8,484.8 50.8,486.8" fill="#0000d6" stroke="#000056"/>
<polygon points="110.7,484.7 114.7,484.8 111.7,483 107.7,483.1" fill="#0000fb" stroke="#000064"/>
<polygon points="85.8,480.6 89.7,480.6 86.7,481.7 82.8,482.8" fill="#0035ff" stroke="#001566"/>
<polygon points="60.8,488.4 64.8,486.7 61.8,485 57.8,486.9" fill="#0000d6" stroke="#000056"/>
<polygon points="117.7,487.3 121.7,486.5 118.7,484.2 114.7,484.8" fill="#0000e7" stroke="#00005c"/>
<polygon points="92.8,473.1 96.7,478.7 93.7,481.1 89.7,480.6" fill="#00c9ff" stroke="#005066"/>
<polygon points="67.8,487.8 71.8,486 68.8,484.5 64.8,486.7" fill="#0000e7" stroke="#00005c"/>
<polygon points="124.7,488.5 128.7,487.5 125.7,485.3 121.7,486.5" fill="#0000df" stroke="#000059"/>
<polygon points="99.8,473.3 103.7,481.3 100.7,481.3 96.7,478.7" fill="#00d8ff" stroke="#005666"/>
<polygon points="74.8,487.3 78.8,484.7 75.8,484.3 71.8,486" fill="#0000ee" stroke="#00005f"/>
<polygon points="49.9,490.2 53.8,488.3 50.8,486.8 46.8,488.3" fill="#0000cb" stroke="#000051"/>
<polygon points="131.7,489.9 135.7,488.4 132.7,486.5 128.7,487.5" fill="#0000d6" stroke="#000056"/>
<polygon points="106.8,482.1 110.7,484.7 107.7,483.1 103.7,481.3" fill="#0035ff" stroke="#001566"/>
<polygon points="81.8,482.8 85.8,480.6 82.8,482.8 78.8,484.7" fill="#0023ff" stroke="#000e66"/>
<polygon points="56.9,490.3 60.8,488.4 57.8,486.9 53.8,488.3" fill="#0000d6" stroke="#000056"/>
<polygon points="113.8,487.3 117.7,487.3 114.7,484.8 110.7,484.7" fill="#0000f5" stroke="#000062"/>
<polygon points="88.8,469.4 92.8,473.1 89.7,480.6 85.8,480.6" fill="#00ffd6" stroke="#006656"/>
<polygon points="63.8,490.2 67.8,487.8 64.8,486.7 60.8,488.4" fill="#0000df" stroke="#000059"/>
<polygon points="120.7,489.6 124.7,488.5 121.7,486.5 117.7,487.3" fill="#0000e7" stroke="#00005c"/>
<polygon points="95.8,459.2 99.8,473.3 96.7,478.7 92.8,473.1" fill="#f4ff00" stroke="#626600"/>
<polygon points="70.8,489.2 74.8,487.3 71.8,486 67.8,487.8" fill="#0000e7" stroke="#00005c"/>
<polygon points="45.9,491.9 49.9,490.2 46.8,488.3 42.9,489.8" fill="#0000cb" stroke="#000051"/>
<polygon points="127.7,490.7 131.7,489.9 128.7,487.5 124.7,488.5" fill="#0000df" stroke="#000059"/>
<polygon points="102.8,470.4 106.8,482.1 103.7,481.3 99.8,473.3" fill="#00ffd6" stroke="#006656"/>
<polygon points="77.8,486.6 81.8,482.8 78.8,484.7 74.8,487.3" fill="#0000ff" stroke="#000066"/>
<polygon points="52.9,492 56.9,490.3 53.8,488.3 49.9,490.2" fill="#0000d6" stroke="#000056"/>
<polygon points="134.7,491.8 138.7,490.8 135.7,488.4 131.7,489.9" fill="#0000d6" stroke="#000056"/>
<polygon points="109.8,484.7 113.8,487.3 110.7,484.7 106.8,482.1" fill="#0023ff" stroke="#000e66"/>
<polygon points="84.8,474.5 88.8,469.4 85.8,480.6 81.8,482.8" fill="#00e8ff" stroke="#005d66"/>
<polygon points="59.9,491.7 63.8,490.2 60.8,488.4 56.9,490.3" fill="#0000df" stroke="#000059"/>
<polygon points="116.8,489.6 120.7,489.6 117.7,487.3 113.8,487.3" fill="#0000ee" stroke="#00005f"/>
<polygon points="91.8,451.8 95.8,459.2 92.8,473.1 88.8,469.4" fill="#ff5700" stroke="#662300"/>
<polygon points="66.9,491.1 70.8,489.2 67.8,487.8 63.8,490.2" fill="#0000e7" stroke="#00005c"/>
<polygon points="41.9,493.6 45.9,491.9 42.9,489.8 38.9,491.6" fill="#0000cb" stroke="#000051"/>
<polygon points="123.8,491.9 127.7,490.7 124.7,488.5 120.7,489.6" fill="#0000df" stroke="#000059"/>
<polygon points="98.8,452.1 102.8,470.4 99.8,473.3 95.8,459.2" fill="#ff5700" stroke="#662300"/>
<polygon points="73.9,489.9 77.8,486.6 74.8,487.3 70.8,489.2" fill="#0000f5" stroke="#000062"/>
<polygon points="48.9,493.5 52.9,492 49.9,490.2 45.9,491.9" fill="#0000d6" stroke="#000056"/>
<polygon points="130.8,493.1 134.7,491.8 131.7,489.9 127.7,490.7" fill="#0000d6" stroke="#000056"/>
<polygon points="105.8,475.8 109.8,484.7 106.8,482.1 102.8,470.4" fill="#00e8ff" stroke="#005d66"/>
<polygon points="80.9,483.9 84.8,474.5 81.8,482.8 77.8,486.6" fill="#0057ff" stroke="#002366"/>
<polygon points="55.9,493.7 59.9,491.7 56.9,490.3 52.9,492" fill="#0000d6" stroke="#000056"/>
<polygon points="137.8,493.8 141.7,492.8 138.7,490.8 134.7,491.8" fill="#0000d6" stroke="#000056"/>
<polygon points="112.8,488.8 116.8,489.6 113.8,487.3 109.8,484.7" fill="#0000ff" stroke="#000066"/>
<polygon points="87.9,462.4 91.8,451.8 88.8,469.4 84.8,474.5" fill="#f4ff00" stroke="#626600"/>
<polygon points="62.9,493.1 66.9,491.1 63.8,490.2 59.9,491.7" fill="#0000df" stroke="#000059"/>
<polygon points="119.8,492.4 123.8,491.9 120.7,489.6 116.8,489.6" fill="#0000ee" stroke="#00005f"/>
<polygon points="94.9,444.9 98.8,452.1 95.8,459.2 91.8,451.8" fill="#c40000" stroke="#4f0000"/>
<polygon points="69.9,492.8 73.9,489.9 70.8,489.2 66.9,491.1" fill="#0000e7" stroke="#00005c"/>
<polygon points="44.9,495.4 48.9,493.5 45.9,491.9 41.9,493.6" fill="#0000cb" stroke="#000051"/>
<polygon points="126.8,494 130.8,493.1 127.7,490.7 123.8,491.9" fill="#0000df" stroke="#000059"/>
<polygon points="101.8,463.6 105.8,475.8 102.8,470.4 98.8,452.1" fill="#f4ff00" stroke="#626600"/>
<polygon points="76.9,490.3 80.9,483.9 77.8,486.6 73.9,489.9" fill="#0000ff" stroke="#000066"/>
<polygon points="51.9,495.5 55.9,493.7 52.9,492 48.9,493.5" fill="#0000d6" stroke="#000056"/>
<polygon points="133.8,495.6 137.8,493.8 134.7,491.8 130.8,493.1" fill="#0000d6" stroke="#000056"/>
<polygon points="108.8,485.9 112.8,488.8 109.8,484.7 105.8,475.8" fill="#0057ff" stroke="#002366"/>
<polygon points="83.9,479.9 87.9,462.4 84.8,474.5 80.9,483.9" fill="#00c9ff" stroke="#005066"/>
<polygon points="58.9,495.5 62.9,493.1 59.9,491.7 55.9,493.7" fill="#0000d6" stroke="#000056"/>
<polygon points="140.8,496.1 144.8,494.9 141.7,492.8 137.8,493.8" fill="#0000d6" stroke="#000056"/>
<polygon points="115.8,493.1 119.8,492.4 116.8,489.6 112.8,488.8" fill="#0000f5" stroke="#000062"/>
<polygon points="90.9,460.2 94.9,444.9 91.8,451.8 87.9,462.4" fill="#ffb900" stroke="#664a00"/>
<polygon points="65.9,495.3 69.9,492.8 66.9,491.1 62.9,493.1" fill="#0000df" stroke="#000059"/>
<polygon points="122.8,495.2 126.8,494 123.8,491.9 119.8,492.4" fill="#0000e7" stroke="#00005c"/>
<polygon points="97.9,460.7 101.8,463.6 98.8,452.1 94.9,444.9" fill="#ffb900" stroke="#664a00"/>
<polygon points="72.9,494 76.9,490.3 73.9,489.9 69.9,492.8" fill="#0000ee" stroke="#00005f"/>
<polygon points="48,497.4 51.9,495.5 48.9,493.5 44.9,495.4" fill="#0000cb" stroke="#000051"/>
<polygon points="129.8,496.4 133.8,495.6 130.8,493.1 126.8,494" fill="#0000df" stroke="#000059"/>
<polygon points="104.9,481.3 108.8,485.9 105.8,475.8 101.8,463.6" fill="#00c9ff" stroke="#005066"/>
<polygon points="79.9,490.6 83.9,479.9 80.9,483.9 76.9,490.3" fill="#0011ff" stroke="#000766"/>
<polygon points="55,497.1 58.9,495.5 55.9,493.7 51.9,495.5" fill="#0000d6" stroke="#000056"/>
<polygon points="136.8,497.4 140.8,496.1 137.8,493.8 133.8,495.6" fill="#0000d6" stroke="#000056"/>
<polygon points="111.9,493.1 115.8,493.1 112.8,488.8 108.8,485.9" fill="#0000fb" stroke="#000064"/>
<polygon points="86.9,481.1 90.9,460.2 87.9,462.4 83.9,479.9" fill="#00d8ff" stroke="#005666"/>
<polygon points="62,497.2 65.9,495.3 62.9,493.1 58.9,495.5" fill="#0000df" stroke="#000059"/>
<polygon points="143.8,498.3 147.8,496.7 144.8,494.9 140.8,496.1" fill="#0000d6" stroke="#000056"/>
<polygon points="118.9,496 122.8,495.2 119.8,492.4 115.8,493.1" fill="#0000e7" stroke="#00005c"/>
<polygon points="93.9,472.7 97.9,460.7 94.9,444.9 90.9,460.2" fill="#00ff6d" stroke="#00662c"/>
<polygon points="69,496.7 72.9,494 69.9,492.8 65.9,495.3" fill="#0000e7" stroke="#00005c"/>
<polygon points="125.8,497.7 129.8,496.4 126.8,494 122.8,495.2" fill="#0000df" stroke="#000059"/>
<polygon points="100.9,481.7 104.9,481.3 101.8,463.6 97.9,460.7" fill="#00d8ff" stroke="#005666"/>
<polygon points="76,495.7 79.9,490.6 76.9,490.3 72.9,494" fill="#0000f5" stroke="#000062"/>
<polygon points="51,499 55,497.1 51.9,495.5 48,497.4" fill="#0000d6" stroke="#000056"/>
<polygon points="132.8,498.7 136.8,497.4 133.8,495.6 129.8,496.4" fill="#0000d6" stroke="#000056"/>
<polygon points="107.9,493 111.9,493.1 108.8,485.9 104.9,481.3" fill="#0002ff" stroke="#000166"/>
<polygon points="82.9,492.5 86.9,481.1 83.9,479.9 79.9,490.6" fill="#0011ff" stroke="#000766"/>
<polygon points="58,498.9 62,497.2 58.9,495.5 55,497.1" fill="#0000d6" stroke="#000056"/>
<polygon points="139.8,500.1 143.8,498.3 140.8,496.1 136.8,497.4" fill="#0000cb" stroke="#000051"/>
<polygon points="114.9,496.9 118.9,496 115.8,493.1 111.9,493.1" fill="#0000ee" stroke="#00005f"/>
<polygon points="89.9,487.7 93.9,472.7 90.9,460.2 86.9,481.1" fill="#0078ff" stroke="#003066"/>
<polygon points="65,498.7 69,496.7 65.9,495.3 62,497.2" fill="#0000df" stroke="#000059"/>
<polygon points="146.8,500.6 150.8,499.2 147.8,496.7 143.8,498.3" fill="#0000cb" stroke="#000051"/>
<polygon points="121.9,498.8 125.8,497.7 122.8,495.2 118.9,496" fill="#0000e7" stroke="#00005c"/>
<polygon points="96.9,488.5 100.9,481.7 97.9,460.7 93.9,472.7" fill="#0078ff" stroke="#003066"/>
<polygon points="72,498.4 76,495.7 72.9,494 69,496.7" fill="#0000e7" stroke="#00005c"/>
<polygon points="128.9,500.1 132.8,498.7 129.8,496.4 125.8,497.7" fill="#0000d6" stroke="#000056"/>
<polygon points="103.9,494.3 107.9,493 104.9,481.3 100.9,481.7" fill="#0011ff" stroke="#000766"/>
<polygon points="79,497.5 82.9,492.5 79.9,490.6 76,495.7" fill="#0000f5" stroke="#000062"/>
<polygon points="54,501.1 58,498.9 55,497.1 51,499" fill="#0000d6" stroke="#000056"/>
<polygon points="135.9,501.4 139.8,500.1 136.8,497.4 132.8,498.7" fill="#0000d6" stroke="#000056"/>
<polygon points="110.9,498 114.9,496.9 111.9,493.1 107.9,493" fill="#0000f5" stroke="#000062"/>
<polygon points="86,496.2 89.9,487.7 86.9,481.1 82.9,492.5" fill="#0000ff" stroke="#000066"/>
<polygon points="61,501.3 65,498.7 62,497.2 58,498.9" fill="#0000d6" stroke="#000056"/>
<polygon points="142.9,502.3 146.8,500.6 143.8,498.3 139.8,500.1" fill="#0000cb" stroke="#000051"/>
<polygon points="117.9,500.1 121.9,498.8 118.9,496 114.9,496.9" fill="#0000e7" stroke="#00005c"/>
<polygon points="93,495.4 96.9,488.5 93.9,472.7 89.9,487.7" fill="#0011ff" stroke="#000766"/>
<polygon points="68,500.9 72,498.4 69,496.7 65,498.7" fill="#0000df" stroke="#000059"/>
<polygon points="124.9,501.4 128.9,500.1 125.8,497.7 121.9,498.8" fill="#0000df" stroke="#000059"/>
<polygon points="100,497.1 103.9,494.3 100.9,481.7 96.9,488.5" fill="#0000ff" stroke="#000066"/>
<polygon points="75,500.4 79,497.5 76,495.7 72,498.4" fill="#0000e7" stroke="#00005c"/>
<polygon points="131.9,502.9 135.9,501.4 132.8,498.7 128.9,500.1" fill="#0000d6" stroke="#000056"/>
<polygon points="107,499.5 110.9,498 107.9,493 103.9,494.3" fill="#0000f5" stroke="#000062"/>
<polygon points="82,499.9 86,496.2 82.9,492.5 79,497.5" fill="#0000ee" stroke="#00005f"/>
<polygon points="57,502.7 61,501.3 58,498.9 54,501.1" fill="#0000d6" stroke="#000056"/>
<polygon points="138.9,503.6 142.9,502.3 139.8,500.1 135.9,501.4" fill="#0000cb" stroke="#000051"/>
<polygon points="113.9,501.5 117.9,500.1 114.9,496.9 110.9,498" fill="#0000e7" stroke="#00005c"/>
<polygon points="89,499.3 93,495.4 89.9,487.7 86,496.2" fill="#0000fb" stroke="#000064"/>
<polygon points="64,502.6 68,500.9 65,498.7 61,501.3" fill="#0000df" stroke="#000059"/>
<polygon points="120.9,502.7 124.9,501.4 121.9,498.8 117.9,500.1" fill="#0000df" stroke="#000059"/>
<polygon points="96,500 100,497.1 96.9,488.5 93,495.4" fill="#0000f5" stroke="#000062"/>
<polygon points="71,502.7 75,500.4 72,498.4 68,500.9" fill="#0000df" stroke="#000059"/>
<polygon points="127.9,503.9 131.9,502.9 128.9,500.1 124.9,501.4" fill="#0000d6" stroke="#000056"/>
<polygon points="103,501.4 107,499.5 103.9,494.3 100,497.1" fill="#0000ee" stroke="#00005f"/>
<polygon points="78,502.3 82,499.9 79,497.5 75,500.4" fill="#0000e7" stroke="#00005c"/>
<polygon points="134.9,505 138.9,503.6 135.9,501.4 131.9,502.9" fill="#0000cb" stroke="#000051"/>
<polygon points="110,503 113.9,501.5 110.9,498 107,499.5" fill="#0000e7" stroke="#00005c"/>
<polygon points="85,502.3 89,499.3 86,496.2 82,499.9" fill="#0000ee" stroke="#00005f"/>
<polygon points="60.1,504.8 64,502.6 61,501.3 57,502.7" fill="#0000d6" stroke="#000056"/>
<polygon points="117,503.9 120.9,502.7 117.9,500.1 113.9,501.5" fill="#0000df" stroke="#000059"/>
<polygon points="92,502.4 96,500 93,495.4 89,499.3" fill="#0000ee" stroke="#00005f"/>
<polygon points="67.1,504.6 71,502.7 68,500.9 64,502.6" fill="#0000df" stroke="#000059"/>
<polygon points="124,505.1 127.9,503.9 124.9,501.4 120.9,502.7" fill="#0000df" stroke="#000059"/>
<polygon points="99,503.5 103,501.4 100,497.1 96,500" fill="#0000ee" stroke="#00005f"/>
<polygon points="74.1,504.9 78,502.3 75,500.4 71,502.7" fill="#0000df" stroke="#000059"/>
<polygon points="131,506.4 134.9,505 131.9,502.9 127.9,503.9" fill="#0000d6" stroke="#000056"/>
<polygon points="106,504.7 110,503 107,499.5 103,501.4" fill="#0000e7" stroke="#00005c"/>
<polygon points="81.1,505.1 85,502.3 82,499.9 78,502.3" fill="#0000df" stroke="#000059"/>
<polygon points="113,505.8 117,503.9 113.9,501.5 110,503" fill="#0000df" stroke="#000059"/>
<polygon points="88,505.3 92,502.4 89,499.3 85,502.3" fill="#0000e7" stroke="#00005c"/>
<polygon points="63.1,506.7 67.1,504.6 64,502.6 60.1,504.8" fill="#0000d6" stroke="#000056"/>
<polygon points="120,506.8 124,505.1 120.9,502.7 117,503.9" fill="#0000d6" stroke="#000056"/>
<polygon points="95,505.5 99,503.5 96,500 92,502.4" fill="#0000e7" stroke="#00005c"/>
<polygon points="70.1,506.9 74.1,504.9 71,502.7 67.1,504.6" fill="#0000d6" stroke="#000056"/>
<polygon points="127,507.7 131,506.4 127.9,503.9 124,505.1" fill="#0000d6" stroke="#000056"/>
<polygon points="102,506 106,504.7 103,501.4 99,503.5" fill="#0000e7" stroke="#00005c"/>
<polygon points="77.1,507.1 81.1,505.1 78,502.3 74.1,504.9" fill="#0000df" stroke="#000059"/>
<polygon points="109,507.2 113,505.8 110,503 106,504.7" fill="#0000df" stroke="#000059"/>
<polygon points="84.1,507.3 88,505.3 85,502.3 81.1,505.1" fill="#0000df" stroke="#000059"/>
<polygon points="116,508.3 120,506.8 117,503.9 113,505.8" fill="#0000d6" stroke="#000056"/>
<polygon points="91.1,507.7 95,505.5 92,502.4 88,505.3" fill="#0000df" stroke="#000059"/>
<polygon points="66.1,508.8 70.1,506.9 67.1,504.6 63.1,506.7" fill="#0000d6" stroke="#000056"/>
<polygon points="123,509.1 127,507.7 124,505.1 120,506.8" fill="#0000d6" stroke="#000056"/>
<polygon points="98.1,508.2 102,506 99,503.5 95,505.5" fill="#0000df" stroke="#000059"/>
<polygon points="73.1,509.1 77.1,507.1 74.1,504.9 70.1,506.9" fill="#0000d6" stroke="#000056"/>
<polygon points="105.1,509 109,507.2 106,504.7 102,506" fill="#0000df" stroke="#000059"/>
<polygon points="80.1,509.1 84.1,507.3 81.1,505.1 77.1,507.1" fill="#0000df" stroke="#000059"/>
<polygon points="112.1,509.9 116,508.3 113,505.8 109,507.2" fill="#0000d6" stroke="#000056"/>
<polygon points="87.1,509.6 91.1,507.7 88,505.3 84.1,507.3" fill="#0000df" stroke="#000059"/>
<polygon points="119.1,510.6 123,509.1 120,506.8 116,508.3" fill="#0000d6" stroke="#000056"/>
<polygon points="94.1,509.8 98.1,508.2 95,505.5 91.1,507.7" fill="#0000df" stroke="#000059"/>
<polygon points="69.2,510.9 73.1,509.1 70.1,506.9 66.1,508.8" fill="#0000d6" stroke="#000056"/>
<polygon points="101.1,510.9 105.1,509 102,506 98.1,508.2" fill="#0000d6" stroke="#000056"/>
<polygon points="76.1,511.3 80.1,509.1 77.1,507.1 73.1,509.1" fill="#0000d6" stroke="#000056"/>
<polygon points="108.1,511.2 112.1,509.9 109,507.2 105.1,509" fill="#0000df" stroke="#000059"/>
<polygon points="83.1,511.5 87.1,509.6 84.1,507.3 80.1,509.1" fill="#0000d6" stroke="#000056"/>
<polygon points="115.1,512.4 119.1,510.6 116,508.3 112.1,509.9" fill="#0000d6" stroke="#000056"/>
<polygon points="90.1,511.8 94.1,509.8 91.1,507.7 87.1,509.6" fill="#0000df" stroke="#000059"/>
<polygon points="97.1,512.4 101.1,510.9 98.1,508.2 94.1,509.8" fill="#0000d6" stroke="#000056"/>
<polygon points="72.2,512.8 76.1,511.3 73.1,509.1 69.2,510.9" fill="#0000d6" stroke="#000056"/>
<polygon points="104.1,512.9 108.1,511.2 105.1,509 101.1,510.9" fill="#0000d6" stroke="#000056"/>
<polygon points="79.2,513.6 83.1,511.5 80.1,509.1 76.1,511.3" fill="#0000d6" stroke="#000056"/>
<polygon points="111.1,513.7 115.1,512.4 112.1,509.9 108.1,511.2" fill="#0000d6" stroke="#000056"/>
<polygon points="86.2,513.8 90.1,511.8 87.1,509.6 83.1,511.5" fill="#0000d6" stroke="#000056"/>
<polygon points="93.2,514.5 97.1,512.4 94.1,509.8 90.1,511.8" fill="#0000d6" stroke="#000056"/>
<polygon points="100.2,515.4 104.1,512.9 101.1,510.9 97.1,512.4" fill="#0000cb" stroke="#000051"/>
<polygon points="75.2,515 79.2,513.6 76.1,511.3 72.2,512.8" fill="#0000d6" stroke="#000056"/>
<polygon points="107.1,515.4 111.1,513.7 108.1,511.2 104.1,512.9" fill="#0000d6" stroke="#000056"/>
<polygon points="82.2,515.6 86.2,513.8 83.1,511.5 79.2,513.6" fill="#0000d6" stroke="#000056"/>
<polygon points="89.2,515.9 93.2,514.5 90.1,511.8 86.2,513.8" fill="#0000d6" stroke="#000056"/>
<polygon points="96.2,516.5 100.2,515.4 97.1,512.4 93.2,514.5" fill="#0000d6" stroke="#000056"/>
<polygon points="103.2,517.3 107.1,515.4 104.1,512.9 100.2,515.4" fill="#0000cb" stroke="#000051"/>
<polygon points="78.2,517.8 82.2,515.6 79.2,513.6 75.2,515" fill="#0000cb" stroke="#000051"/>
<polygon points="85.2,518 89.2,515.9 86.2,513.8 82.2,515.6" fill="#0000cb" stroke="#000051"/>
<polygon points="92.2,518.1 96.2,516.5 93.2,514.5 89.2,515.9" fill="#0000d6" stroke="#000056"/>
<polygon points="99.2,519.1 103.2,517.3 100.2,515.4 96.2,516.5" fill="#0000cb" stroke="#000051"/>
<polygon points="81.2,519.6 85.2,518 82.2,515.6 78.2,517.8" fill="#0000cb" stroke="#000051"/>
<polygon points="88.2,519.7 92.2,518.1 89.2,515.9 85.2,518" fill="#0000d6" stroke="#000056"/>
<polygon points="95.2,520.3 99.2,519.1 96.2,516.5 92.2,518.1" fill="#0000cb" stroke="#000051"/>
<polygon points="84.3,521.2 88.2,519.7 85.2,518 81.2,519.6" fill="#0000d6" stroke="#000056"/>
<polygon points="91.3,522 95.2,520.3 92.2,518.1 88.2,519.7" fill="#0000cb" stroke="#000051"/>
<polygon points="87.3,523.5 91.3,522 88.2,519.7 84.3,521.2" fill="#0000cb" stroke="#000051"/>
</g>
<g stroke="#dcdcdc" stroke-width="0.8">
<line x1="260.1" y1="521" x2="211.7" y2="488.9"/>
<line x1="211.7" y1="488.9" x2="211.7" y2="419.4"/>
<line x1="279.9" y1="513.4" x2="231.5" y2="481.3"/>
<line x1="231.5" y1="481.3" x2="231.5" y2="411.8"/>
<line x1="299.8" y1="505.8" x2="251.4" y2="473.6"/>
<line x1="251.4" y1="473.6" x2="251.4" y2="404.2"/>
<line x1="232.1" y1="519.1" x2="295.6" y2="494.7"/>
<line x1="295.6" y1="494.7" x2="295.6" y2="425.2"/>
<line x1="217" y1="509" x2="280.5" y2="484.6"/>
<line x1="280.5" y1="484.6" x2="280.5" y2="415.2"/>
<line x1="201.9" y1="499" x2="265.4" y2="474.6"/>
<line x1="265.4" y1="474.6" x2="265.4" y2="405.2"/>
<line x1="195.8" y1="495" x2="259.3" y2="470.6"/>
<line x1="259.3" y1="470.6" x2="307.7" y2="502.7"/>
<line x1="195.8" y1="460.3" x2="259.3" y2="435.9"/>
<line x1="259.3" y1="435.9" x2="307.7" y2="468"/>
<line x1="195.8" y1="425.6" x2="259.3" y2="401.2"/>
<line x1="259.3" y1="401.2" x2="307.7" y2="433.3"/>
</g>
<g stroke="#9a9a9a" stroke-width="0.9">
<line x1="195.8" y1="495" x2="195.8" y2="425.6"/>
<line x1="195.8" y1="495" x2="244.2" y2="527.1"/>
<line x1="244.2" y1="527.1" x2="307.7" y2="502.7"/>
<line x1="195.8" y1="495" x2="194.3" y2="495"/>
<line x1="195.8" y1="460.3" x2="194.3" y2="460.3"/>
<line x1="195.8" y1="425.6" x2="194.3" y2="425.6"/>
<line x1="232.1" y1="519.1" x2="230.5" y2="519.7"/>
<line x1="217" y1="509" x2="215.4" y2="509.6"/>
<line x1="201.9" y1="499" x2="200.3" y2="499.6"/>
<line x1="260.1" y1="521" x2="261.3" y2="522"/>
<line x1="279.9" y1="513.4" x2="281.1" y2="514.4"/>
<line x1="299.8" y1="505.8" x2="301" y2="506.8"/>
</g>
<text x="192.9" y="497" text-anchor="end" font-size="8.4">0</text>
<text x="192.9" y="462.3" text-anchor="end" font-size="8.4">5000</text>
<text x="192.9" y="428.4" text-anchor="end" font-size="8.4">10000</text>
<text x="229.3" y="529.4" text-anchor="end" font-size="8.4">5</text>
<text x="214.2" y="519.3" text-anchor="end" font-size="8.4">10</text>
<text x="199.1" y="509.3" text-anchor="end" font-size="8.4">15</text>
<text x="262.6" y="531.6" text-anchor="start" font-size="8.4">5</text>
<text x="282.4" y="524" text-anchor="start" font-size="8.4">10</text>
<text x="302.3" y="516.4" text-anchor="start" font-size="8.4">15</text>
<text x="194.8" y="543.6" text-anchor="middle" font-size="8.4">y (px)</text>
<text x="297.2" y="545.3" text-anchor="middle" font-size="8.4">x (px)</text>
<text transform="translate(165.6 461.1) rotate(-90)" text-anchor="middle" font-size="8.4">Intensity</text>
<text x="252" y="395.4" text-anchor="middle" font-size="8.55">Model</text>
<g stroke-width="0.42" stroke-linejoin="round">
<polygon points="258.4,470.3 262.3,468.9 259.3,467 255.3,468.5" fill="#0000d6" stroke="#000056"/>
<polygon points="254.4,471.7 258.4,470.3 255.3,468.5 251.4,469.9" fill="#0000d6" stroke="#000056"/>
<polygon points="261.4,472.2 265.4,470.8 262.3,468.9 258.4,470.3" fill="#0000d6" stroke="#000056"/>
<polygon points="250.4,473 254.4,471.7 251.4,469.9 247.4,471.3" fill="#0000d6" stroke="#000056"/>
<polygon points="257.4,473.4 261.4,472.2 258.4,470.3 254.4,471.7" fill="#0000d6" stroke="#000056"/>
<polygon points="264.4,474 268.4,472.7 265.4,470.8 261.4,472.2" fill="#0000d6" stroke="#000056"/>
<polygon points="246.5,474.3 250.4,473 247.4,471.3 243.4,472.6" fill="#0000d6" stroke="#000056"/>
<polygon points="253.4,474.7 257.4,473.4 254.4,471.7 250.4,473" fill="#0000d6" stroke="#000056"/>
<polygon points="260.4,475.2 264.4,474 261.4,472.2 257.4,473.4" fill="#0000d6" stroke="#000056"/>
<polygon points="267.4,475.8 271.4,474.6 268.4,472.7 264.4,474" fill="#0000d6" stroke="#000056"/>
<polygon points="242.5,475.7 246.5,474.3 243.4,472.6 239.5,474" fill="#0000d6" stroke="#000056"/>
<polygon points="249.5,475.9 253.4,474.7 250.4,473 246.5,474.3" fill="#0000df" stroke="#000059"/>
<polygon points="256.5,476.3 260.4,475.2 257.4,473.4 253.4,474.7" fill="#0000df" stroke="#000059"/>
<polygon points="263.5,476.9 267.4,475.8 264.4,474 260.4,475.2" fill="#0000df" stroke="#000059"/>
<polygon points="238.5,477 242.5,475.7 239.5,474 235.5,475.5" fill="#0000df" stroke="#000059"/>
<polygon points="270.5,477.6 274.4,476.4 271.4,474.6 267.4,475.8" fill="#0000d6" stroke="#000056"/>
<polygon points="245.5,477.2 249.5,475.9 246.5,474.3 242.5,475.7" fill="#0000df" stroke="#000059"/>
<polygon points="252.5,477.4 256.5,476.3 253.4,474.7 249.5,475.9" fill="#0000df" stroke="#000059"/>
<polygon points="259.5,477.9 263.5,476.9 260.4,475.2 256.5,476.3" fill="#0000df" stroke="#000059"/>
<polygon points="234.5,478.4 238.5,477 235.5,475.5 231.5,476.9" fill="#0000df" stroke="#000059"/>
<polygon points="266.5,478.6 270.5,477.6 267.4,475.8 263.5,476.9" fill="#0000df" stroke="#000059"/>
<polygon points="241.5,478.4 245.5,477.2 242.5,475.7 238.5,477" fill="#0000df" stroke="#000059"/>
<polygon points="273.5,479.4 277.4,478.3 274.4,476.4 270.5,477.6" fill="#0000df" stroke="#000059"/>
<polygon points="248.5,478.5 252.5,477.4 249.5,475.9 245.5,477.2" fill="#0000e7" stroke="#00005c"/>
<polygon points="255.5,478.8 259.5,477.9 256.5,476.3 252.5,477.4" fill="#0000e7" stroke="#00005c"/>
<polygon points="230.6,479.9 234.5,478.4 231.5,476.9 227.6,478.4" fill="#0000df" stroke="#000059"/>
<polygon points="262.5,479.5 266.5,478.6 263.5,476.9 259.5,477.9" fill="#0000e7" stroke="#00005c"/>
<polygon points="237.6,479.8 241.5,478.4 238.5,477 234.5,478.4" fill="#0000e7" stroke="#00005c"/>
<polygon points="269.5,480.4 273.5,479.4 270.5,477.6 266.5,478.6" fill="#0000df" stroke="#000059"/>
<polygon points="244.6,479.6 248.5,478.5 245.5,477.2 241.5,478.4" fill="#0000e7" stroke="#00005c"/>
<polygon points="276.5,481.3 280.5,480.3 277.4,478.3 273.5,479.4" fill="#0000df" stroke="#000059"/>
<polygon points="251.6,479.6 255.5,478.8 252.5,477.4 248.5,478.5" fill="#0000ee" stroke="#00005f"/>
<polygon points="226.6,481.5 230.6,479.9 227.6,478.4 223.6,480" fill="#0000df" stroke="#000059"/>
<polygon points="258.6,480.1 262.5,479.5 259.5,477.9 255.5,478.8" fill="#0000ee" stroke="#00005f"/>
<polygon points="233.6,481.3 237.6,479.8 234.5,478.4 230.6,479.9" fill="#0000e7" stroke="#00005c"/>
<polygon points="265.5,481.1 269.5,480.4 266.5,478.6 262.5,479.5" fill="#0000e7" stroke="#00005c"/>
<polygon points="240.6,480.8 244.6,479.6 241.5,478.4 237.6,479.8" fill="#0000ee" stroke="#00005f"/>
<polygon points="272.5,482.2 276.5,481.3 273.5,479.4 269.5,480.4" fill="#0000e7" stroke="#00005c"/>
<polygon points="247.6,480.4 251.6,479.6 248.5,478.5 244.6,479.6" fill="#0000f5" stroke="#000062"/>
<polygon points="222.6,483.2 226.6,481.5 223.6,480 219.6,481.6" fill="#0000df" stroke="#000059"/>
<polygon points="279.5,483.3 283.5,482.3 280.5,480.3 276.5,481.3" fill="#0000df" stroke="#000059"/>
<polygon points="254.6,480.5 258.6,480.1 255.5,478.8 251.6,479.6" fill="#0000f5" stroke="#000062"/>
<polygon points="229.6,482.9 233.6,481.3 230.6,479.9 226.6,481.5" fill="#0000e7" stroke="#00005c"/>
<polygon points="261.6,481.4 265.5,481.1 262.5,479.5 258.6,480.1" fill="#0000f5" stroke="#000062"/>
<polygon points="236.6,482.3 240.6,480.8 237.6,479.8 233.6,481.3" fill="#0000ee" stroke="#00005f"/>
<polygon points="268.6,482.8 272.5,482.2 269.5,480.4 265.5,481.1" fill="#0000ee" stroke="#00005f"/>
<polygon points="243.6,481.3 247.6,480.4 244.6,479.6 240.6,480.8" fill="#0000fb" stroke="#000064"/>
<polygon points="218.7,484.9 222.6,483.2 219.6,481.6 215.6,483.2" fill="#0000d6" stroke="#000056"/>
<polygon points="275.6,484.2 279.5,483.3 276.5,481.3 272.5,482.2" fill="#0000e7" stroke="#00005c"/>
<polygon points="250.6,480.2 254.6,480.5 251.6,479.6 247.6,480.4" fill="#0002ff" stroke="#000166"/>
<polygon points="225.7,484.6 229.6,482.9 226.6,481.5 222.6,483.2" fill="#0000df" stroke="#000059"/>
<polygon points="282.6,485.4 286.5,484.3 283.5,482.3 279.5,483.3" fill="#0000df" stroke="#000059"/>
<polygon points="257.6,480.7 261.6,481.4 258.6,480.1 254.6,480.5" fill="#0002ff" stroke="#000166"/>
<polygon points="232.7,484 236.6,482.3 233.6,481.3 229.6,482.9" fill="#0000ee" stroke="#00005f"/>
<polygon points="264.6,482.7 268.6,482.8 265.5,481.1 261.6,481.4" fill="#0000fb" stroke="#000064"/>
<polygon points="239.7,482.5 243.6,481.3 240.6,480.8 236.6,482.3" fill="#0000fb" stroke="#000064"/>
<polygon points="214.7,486.6 218.7,484.9 215.6,483.2 211.7,484.9" fill="#0000d6" stroke="#000056"/>
<polygon points="271.6,484.7 275.6,484.2 272.5,482.2 268.6,482.8" fill="#0000ee" stroke="#00005f"/>
<polygon points="246.6,479.3 250.6,480.2 247.6,480.4 243.6,481.3" fill="#0035ff" stroke="#001566"/>
<polygon points="221.7,486.4 225.7,484.6 222.6,483.2 218.7,484.9" fill="#0000df" stroke="#000059"/>
<polygon points="278.6,486.3 282.6,485.4 279.5,483.3 275.6,484.2" fill="#0000e7" stroke="#00005c"/>
<polygon points="253.6,477.1 257.6,480.7 254.6,480.5 250.6,480.2" fill="#0068ff" stroke="#002a66"/>
<polygon points="228.7,485.8 232.7,484 229.6,482.9 225.7,484.6" fill="#0000e7" stroke="#00005c"/>
<polygon points="285.6,487.5 289.6,486.4 286.5,484.3 282.6,485.4" fill="#0000df" stroke="#000059"/>
<polygon points="260.6,480.2 264.6,482.7 261.6,481.4 257.6,480.7" fill="#0035ff" stroke="#001566"/>
<polygon points="235.7,484.3 239.7,482.5 236.6,482.3 232.7,484" fill="#0000fb" stroke="#000064"/>
<polygon points="210.7,488.3 214.7,486.6 211.7,484.9 207.7,486.6" fill="#0000d6" stroke="#000056"/>
<polygon points="267.6,484.4 271.6,484.7 268.6,482.8 264.6,482.7" fill="#0000fb" stroke="#000064"/>
<polygon points="242.7,479.3 246.6,479.3 243.6,481.3 239.7,482.5" fill="#0057ff" stroke="#002366"/>
<polygon points="217.7,488.2 221.7,486.4 218.7,484.9 214.7,486.6" fill="#0000df" stroke="#000059"/>
<polygon points="274.6,486.9 278.6,486.3 275.6,484.2 271.6,484.7" fill="#0000ee" stroke="#00005f"/>
<polygon points="249.7,470.3 253.6,477.1 250.6,480.2 246.6,479.3" fill="#00fff7" stroke="#006663"/>
<polygon points="224.7,487.8 228.7,485.8 225.7,484.6 221.7,486.4" fill="#0000e7" stroke="#00005c"/>
<polygon points="281.6,488.5 285.6,487.5 282.6,485.4 278.6,486.3" fill="#0000df" stroke="#000059"/>
<polygon points="256.7,470.8 260.6,480.2 257.6,480.7 253.6,477.1" fill="#00fff7" stroke="#006663"/>
<polygon points="231.7,486.7 235.7,484.3 232.7,484 228.7,485.8" fill="#0000f5" stroke="#000062"/>
<polygon points="206.8,490 210.7,488.3 207.7,486.6 203.7,488.2" fill="#0000d6" stroke="#000056"/>
<polygon points="288.6,489.7 292.6,488.5 289.6,486.4 285.6,487.5" fill="#0000d6" stroke="#000056"/>
<polygon points="263.7,480.7 267.6,484.4 264.6,482.7 260.6,480.2" fill="#0057ff" stroke="#002366"/>
<polygon points="238.7,482 242.7,479.3 239.7,482.5 235.7,484.3" fill="#0035ff" stroke="#001566"/>
<polygon points="213.8,490.1 217.7,488.2 214.7,486.6 210.7,488.3" fill="#0000d6" stroke="#000056"/>
<polygon points="270.7,486.7 274.6,486.9 271.6,484.7 267.6,484.4" fill="#0000fb" stroke="#000064"/>
<polygon points="245.7,467.1 249.7,470.3 246.6,479.3 242.7,479.3" fill="#00ff92" stroke="#00663a"/>
<polygon points="220.8,489.8 224.7,487.8 221.7,486.4 217.7,488.2" fill="#0000df" stroke="#000059"/>
<polygon points="277.6,489.2 281.6,488.5 278.6,486.3 274.6,486.9" fill="#0000e7" stroke="#00005c"/>
<polygon points="252.7,454.9 256.7,470.8 253.6,477.1 249.7,470.3" fill="#ff9900" stroke="#663d00"/>
<polygon points="227.7,489 231.7,486.7 228.7,485.8 224.7,487.8" fill="#0000ee" stroke="#00005f"/>
<polygon points="202.8,491.7 206.8,490 203.7,488.2 199.8,489.9" fill="#0000cb" stroke="#000051"/>
<polygon points="284.6,490.8 288.6,489.7 285.6,487.5 281.6,488.5" fill="#0000df" stroke="#000059"/>
<polygon points="259.7,468.1 263.7,480.7 260.6,480.2 256.7,470.8" fill="#00ff92" stroke="#00663a"/>
<polygon points="234.7,486.3 238.7,482 235.7,484.3 231.7,486.7" fill="#0002ff" stroke="#000166"/>
<polygon points="209.8,491.8 213.8,490.1 210.7,488.3 206.8,490" fill="#0000d6" stroke="#000056"/>
<polygon points="291.6,491.9 295.6,490.7 292.6,488.5 288.6,489.7" fill="#0000d6" stroke="#000056"/>
<polygon points="266.7,483.9 270.7,486.7 267.6,484.4 263.7,480.7" fill="#0035ff" stroke="#001566"/>
<polygon points="241.7,473.4 245.7,467.1 242.7,479.3 238.7,482" fill="#00fff7" stroke="#006663"/>
<polygon points="216.8,491.7 220.8,489.8 217.7,488.2 213.8,490.1" fill="#0000df" stroke="#000059"/>
<polygon points="273.7,489.5 277.6,489.2 274.6,486.9 270.7,486.7" fill="#0000f5" stroke="#000062"/>
<polygon points="248.7,448.5 252.7,454.9 249.7,470.3 245.7,467.1" fill="#ff0000" stroke="#660000"/>
<polygon points="223.8,491.3 227.7,489 224.7,487.8 220.8,489.8" fill="#0000e7" stroke="#00005c"/>
<polygon points="198.8,493.4 202.8,491.7 199.8,489.9 195.8,491.5" fill="#0000cb" stroke="#000051"/>
<polygon points="280.7,491.7 284.6,490.8 281.6,488.5 277.6,489.2" fill="#0000e7" stroke="#00005c"/>
<polygon points="255.7,449 259.7,468.1 256.7,470.8 252.7,454.9" fill="#ff0000" stroke="#660000"/>
<polygon points="230.8,489.9 234.7,486.3 231.7,486.7 227.7,489" fill="#0000f5" stroke="#000062"/>
<polygon points="205.8,493.6 209.8,491.8 206.8,490 202.8,491.7" fill="#0000d6" stroke="#000056"/>
<polygon points="287.7,493.1 291.6,491.9 288.6,489.7 284.6,490.8" fill="#0000df" stroke="#000059"/>
<polygon points="262.7,474.9 266.7,483.9 263.7,480.7 259.7,468.1" fill="#00fff7" stroke="#006663"/>
<polygon points="237.8,483.5 241.7,473.4 238.7,482 234.7,486.3" fill="#0068ff" stroke="#002a66"/>
<polygon points="212.8,493.6 216.8,491.7 213.8,490.1 209.8,491.8" fill="#0000d6" stroke="#000056"/>
<polygon points="294.7,494.1 298.6,492.8 295.6,490.7 291.6,491.9" fill="#0000d6" stroke="#000056"/>
<polygon points="269.7,488.7 273.7,489.5 270.7,486.7 266.7,483.9" fill="#0002ff" stroke="#000166"/>
<polygon points="244.8,461.7 248.7,448.5 245.7,467.1 241.7,473.4" fill="#ffe800" stroke="#665d00"/>
<polygon points="219.8,493.4 223.8,491.3 220.8,489.8 216.8,491.7" fill="#0000df" stroke="#000059"/>
<polygon points="276.7,492.4 280.7,491.7 277.6,489.2 273.7,489.5" fill="#0000ee" stroke="#00005f"/>
<polygon points="251.8,443.6 255.7,449 252.7,454.9 248.7,448.5" fill="#9f0000" stroke="#400000"/>
<polygon points="226.8,492.7 230.8,489.9 227.7,489 223.8,491.3" fill="#0000ee" stroke="#00005f"/>
<polygon points="201.9,495.3 205.8,493.6 202.8,491.7 198.8,493.4" fill="#0000cb" stroke="#000051"/>
<polygon points="283.7,494.1 287.7,493.1 284.6,490.8 280.7,491.7" fill="#0000df" stroke="#000059"/>
<polygon points="258.7,462.7 262.7,474.9 259.7,468.1 255.7,449" fill="#ffe800" stroke="#665d00"/>
<polygon points="233.8,490.3 237.8,483.5 234.7,486.3 230.8,489.9" fill="#0000ff" stroke="#000066"/>
<polygon points="208.8,495.4 212.8,493.6 209.8,491.8 205.8,493.6" fill="#0000d6" stroke="#000056"/>
<polygon points="290.7,495.4 294.7,494.1 291.6,491.9 287.7,493.1" fill="#0000d6" stroke="#000056"/>
<polygon points="265.7,485.4 269.7,488.7 266.7,483.9 262.7,474.9" fill="#0068ff" stroke="#002a66"/>
<polygon points="240.8,480.2 244.8,461.7 241.7,473.4 237.8,483.5" fill="#00c9ff" stroke="#005066"/>
<polygon points="215.8,495.4 219.8,493.4 216.8,491.7 212.8,493.6" fill="#0000df" stroke="#000059"/>
<polygon points="297.7,496.3 301.7,494.9 298.6,492.8 294.7,494.1" fill="#0000d6" stroke="#000056"/>
<polygon points="272.7,492.8 276.7,492.4 273.7,489.5 269.7,488.7" fill="#0000f5" stroke="#000062"/>
<polygon points="247.8,461 251.8,443.6 248.7,448.5 244.8,461.7" fill="#ffa900" stroke="#664400"/>
<polygon points="222.8,495 226.8,492.7 223.8,491.3 219.8,493.4" fill="#0000e7" stroke="#00005c"/>
<polygon points="279.7,495.1 283.7,494.1 280.7,491.7 276.7,492.4" fill="#0000e7" stroke="#00005c"/>
<polygon points="254.8,461.4 258.7,462.7 255.7,449 251.8,443.6" fill="#ffa900" stroke="#664400"/>
<polygon points="229.8,494 233.8,490.3 230.8,489.9 226.8,492.7" fill="#0000ee" stroke="#00005f"/>
<polygon points="204.9,497.2 208.8,495.4 205.8,493.6 201.9,495.3" fill="#0000d6" stroke="#000056"/>
<polygon points="286.7,496.5 290.7,495.4 287.7,493.1 283.7,494.1" fill="#0000df" stroke="#000059"/>
<polygon points="261.8,481.7 265.7,485.4 262.7,474.9 258.7,462.7" fill="#00c9ff" stroke="#005066"/>
<polygon points="236.8,490.9 240.8,480.2 237.8,483.5 233.8,490.3" fill="#0011ff" stroke="#000766"/>
<polygon points="211.9,497.3 215.8,495.4 212.8,493.6 208.8,495.4" fill="#0000d6" stroke="#000056"/>
<polygon points="293.7,497.6 297.7,496.3 294.7,494.1 290.7,495.4" fill="#0000d6" stroke="#000056"/>
<polygon points="268.8,492.7 272.7,492.8 269.7,488.7 265.7,485.4" fill="#0000ff" stroke="#000066"/>
<polygon points="243.8,481.8 247.8,461 244.8,461.7 240.8,480.2" fill="#00d8ff" stroke="#005666"/>
<polygon points="218.9,497.1 222.8,495 219.8,493.4 215.8,495.4" fill="#0000df" stroke="#000059"/>
<polygon points="300.7,498.5 304.7,497.1 301.7,494.9 297.7,496.3" fill="#0000cb" stroke="#000051"/>
<polygon points="275.8,496 279.7,495.1 276.7,492.4 272.7,492.8" fill="#0000ee" stroke="#00005f"/>
<polygon points="250.8,474.6 254.8,461.4 251.8,443.6 247.8,461" fill="#00ff92" stroke="#00663a"/>
<polygon points="225.9,496.7 229.8,494 226.8,492.7 222.8,495" fill="#0000e7" stroke="#00005c"/>
<polygon points="282.8,497.7 286.7,496.5 283.7,494.1 279.7,495.1" fill="#0000df" stroke="#000059"/>
<polygon points="257.8,482.8 261.8,481.7 258.7,462.7 254.8,461.4" fill="#00d8ff" stroke="#005666"/>
<polygon points="232.9,495.6 236.8,490.9 233.8,490.3 229.8,494" fill="#0000f5" stroke="#000062"/>
<polygon points="207.9,499.1 211.9,497.3 208.8,495.4 204.9,497.2" fill="#0000d6" stroke="#000056"/>
<polygon points="289.7,498.9 293.7,497.6 290.7,495.4 286.7,496.5" fill="#0000d6" stroke="#000056"/>
<polygon points="264.8,492.8 268.8,492.7 265.7,485.4 261.8,481.7" fill="#0011ff" stroke="#000766"/>
<polygon points="239.8,492.9 243.8,481.8 240.8,480.2 236.8,490.9" fill="#0011ff" stroke="#000766"/>
<polygon points="214.9,499.1 218.9,497.1 215.8,495.4 211.9,497.3" fill="#0000d6" stroke="#000056"/>
<polygon points="296.7,499.8 300.7,498.5 297.7,496.3 293.7,497.6" fill="#0000d6" stroke="#000056"/>
<polygon points="271.8,496.9 275.8,496 272.7,492.8 268.8,492.7" fill="#0000ee" stroke="#00005f"/>
<polygon points="246.8,488.6 250.8,474.6 247.8,461 243.8,481.8" fill="#0078ff" stroke="#003066"/>
<polygon points="221.9,498.9 225.9,496.7 222.8,495 218.9,497.1" fill="#0000df" stroke="#000059"/>
<polygon points="303.7,500.6 307.7,499.2 304.7,497.1 300.7,498.5" fill="#0000cb" stroke="#000051"/>
<polygon points="278.8,498.8 282.8,497.7 279.7,495.1 275.8,496" fill="#0000e7" stroke="#00005c"/>
<polygon points="253.8,489.1 257.8,482.8 254.8,461.4 250.8,474.6" fill="#0078ff" stroke="#003066"/>
<polygon points="228.9,498.4 232.9,495.6 229.8,494 225.9,496.7" fill="#0000e7" stroke="#00005c"/>
<polygon points="285.8,500.2 289.7,498.9 286.7,496.5 282.8,497.7" fill="#0000df" stroke="#000059"/>
<polygon points="260.8,494.3 264.8,492.8 261.8,481.7 257.8,482.8" fill="#0011ff" stroke="#000766"/>
<polygon points="235.9,497.5 239.8,492.9 236.8,490.9 232.9,495.6" fill="#0000f5" stroke="#000062"/>
<polygon points="210.9,501 214.9,499.1 211.9,497.3 207.9,499.1" fill="#0000d6" stroke="#000056"/>
<polygon points="292.8,501.2 296.7,499.8 293.7,497.6 289.7,498.9" fill="#0000d6" stroke="#000056"/>
<polygon points="267.8,498 271.8,496.9 268.8,492.7 264.8,492.8" fill="#0000f5" stroke="#000062"/>
<polygon points="242.9,496.1 246.8,488.6 243.8,481.8 239.8,492.9" fill="#0000ff" stroke="#000066"/>
<polygon points="217.9,501 221.9,498.9 218.9,497.1 214.9,499.1" fill="#0000d6" stroke="#000056"/>
<polygon points="299.8,502 303.7,500.6 300.7,498.5 296.7,499.8" fill="#0000cb" stroke="#000051"/>
<polygon points="274.8,500 278.8,498.8 275.8,496 271.8,496.9" fill="#0000e7" stroke="#00005c"/>
<polygon points="249.9,495.4 253.8,489.1 250.8,474.6 246.8,488.6" fill="#0011ff" stroke="#000766"/>
<polygon points="224.9,500.8 228.9,498.4 225.9,496.7 221.9,498.9" fill="#0000df" stroke="#000059"/>
<polygon points="281.8,501.5 285.8,500.2 282.8,497.7 278.8,498.8" fill="#0000df" stroke="#000059"/>
<polygon points="256.9,497.1 260.8,494.3 257.8,482.8 253.8,489.1" fill="#0000ff" stroke="#000066"/>
<polygon points="231.9,500.4 235.9,497.5 232.9,495.6 228.9,498.4" fill="#0000e7" stroke="#00005c"/>
<polygon points="288.8,502.6 292.8,501.2 289.7,498.9 285.8,500.2" fill="#0000d6" stroke="#000056"/>
<polygon points="263.9,499.5 267.8,498 264.8,492.8 260.8,494.3" fill="#0000f5" stroke="#000062"/>
<polygon points="238.9,499.9 242.9,496.1 239.8,492.9 235.9,497.5" fill="#0000f5" stroke="#000062"/>
<polygon points="214,502.9 217.9,501 214.9,499.1 210.9,501" fill="#0000d6" stroke="#000056"/>
<polygon points="295.8,503.4 299.8,502 296.7,499.8 292.8,501.2" fill="#0000d6" stroke="#000056"/>
<polygon points="270.8,501.3 274.8,500 271.8,496.9 267.8,498" fill="#0000e7" stroke="#00005c"/>
<polygon points="245.9,499.5 249.9,495.4 246.8,488.6 242.9,496.1" fill="#0000fb" stroke="#000064"/>
<polygon points="220.9,502.9 224.9,500.8 221.9,498.9 217.9,501" fill="#0000df" stroke="#000059"/>
<polygon points="277.8,502.8 281.8,501.5 278.8,498.8 274.8,500" fill="#0000df" stroke="#000059"/>
<polygon points="252.9,500 256.9,497.1 253.8,489.1 249.9,495.4" fill="#0000fb" stroke="#000064"/>
<polygon points="227.9,502.8 231.9,500.4 228.9,498.4 224.9,500.8" fill="#0000df" stroke="#000059"/>
<polygon points="284.8,503.9 288.8,502.6 285.8,500.2 281.8,501.5" fill="#0000d6" stroke="#000056"/>
<polygon points="259.9,501.3 263.9,499.5 260.8,494.3 256.9,497.1" fill="#0000f5" stroke="#000062"/>
<polygon points="234.9,502.5 238.9,499.9 235.9,497.5 231.9,500.4" fill="#0000e7" stroke="#00005c"/>
<polygon points="291.8,504.8 295.8,503.4 292.8,501.2 288.8,502.6" fill="#0000d6" stroke="#000056"/>
<polygon points="266.9,502.8 270.8,501.3 267.8,498 263.9,499.5" fill="#0000e7" stroke="#00005c"/>
<polygon points="241.9,502.4 245.9,499.5 242.9,496.1 238.9,499.9" fill="#0000ee" stroke="#00005f"/>
<polygon points="217,504.8 220.9,502.9 217.9,501 214,502.9" fill="#0000d6" stroke="#000056"/>
<polygon points="273.9,504.2 277.8,502.8 274.8,500 270.8,501.3" fill="#0000df" stroke="#000059"/>
<polygon points="248.9,502.6 252.9,500 249.9,495.4 245.9,499.5" fill="#0000ee" stroke="#00005f"/>
<polygon points="224,504.9 227.9,502.8 224.9,500.8 220.9,502.9" fill="#0000df" stroke="#000059"/>
<polygon points="280.9,505.3 284.8,503.9 281.8,501.5 277.8,502.8" fill="#0000d6" stroke="#000056"/>
<polygon points="255.9,503.3 259.9,501.3 256.9,497.1 252.9,500" fill="#0000ee" stroke="#00005f"/>
<polygon points="231,504.8 234.9,502.5 231.9,500.4 227.9,502.8" fill="#0000df" stroke="#000059"/>
<polygon points="287.9,506.3 291.8,504.8 288.8,502.6 284.8,503.9" fill="#0000d6" stroke="#000056"/>
<polygon points="262.9,504.5 266.9,502.8 263.9,499.5 259.9,501.3" fill="#0000e7" stroke="#00005c"/>
<polygon points="238,504.8 241.9,502.4 238.9,499.9 234.9,502.5" fill="#0000e7" stroke="#00005c"/>
<polygon points="269.9,505.6 273.9,504.2 270.8,501.3 266.9,502.8" fill="#0000df" stroke="#000059"/>
<polygon points="245,505 248.9,502.6 245.9,499.5 241.9,502.4" fill="#0000e7" stroke="#00005c"/>
<polygon points="220,506.8 224,504.9 220.9,502.9 217,504.8" fill="#0000d6" stroke="#000056"/>
<polygon points="276.9,506.7 280.9,505.3 277.8,502.8 273.9,504.2" fill="#0000df" stroke="#000059"/>
<polygon points="251.9,505.4 255.9,503.3 252.9,500 248.9,502.6" fill="#0000e7" stroke="#00005c"/>
<polygon points="227,506.9 231,504.8 227.9,502.8 224,504.9" fill="#0000df" stroke="#000059"/>
<polygon points="283.9,507.7 287.9,506.3 284.8,503.9 280.9,505.3" fill="#0000d6" stroke="#000056"/>
<polygon points="258.9,506.3 262.9,504.5 259.9,501.3 255.9,503.3" fill="#0000e7" stroke="#00005c"/>
<polygon points="234,507 238,504.8 234.9,502.5 231,504.8" fill="#0000df" stroke="#000059"/>
<polygon points="265.9,507.2 269.9,505.6 266.9,502.8 262.9,504.5" fill="#0000df" stroke="#000059"/>
<polygon points="241,507.2 245,505 241.9,502.4 238,504.8" fill="#0000df" stroke="#000059"/>
<polygon points="272.9,508.2 276.9,506.7 273.9,504.2 269.9,505.6" fill="#0000df" stroke="#000059"/>
<polygon points="248,507.5 251.9,505.4 248.9,502.6 245,505" fill="#0000e7" stroke="#00005c"/>
<polygon points="223,508.9 227,506.9 224,504.9 220,506.8" fill="#0000d6" stroke="#000056"/>
<polygon points="279.9,509.2 283.9,507.7 280.9,505.3 276.9,506.7" fill="#0000d6" stroke="#000056"/>
<polygon points="255,508.1 258.9,506.3 255.9,503.3 251.9,505.4" fill="#0000df" stroke="#000059"/>
<polygon points="230,509 234,507 231,504.8 227,506.9" fill="#0000d6" stroke="#000056"/>
<polygon points="262,508.9 265.9,507.2 262.9,504.5 258.9,506.3" fill="#0000df" stroke="#000059"/>
<polygon points="237,509.3 241,507.2 238,504.8 234,507" fill="#0000df" stroke="#000059"/>
<polygon points="269,509.8 272.9,508.2 269.9,505.6 265.9,507.2" fill="#0000df" stroke="#000059"/>
<polygon points="244,509.6 248,507.5 245,505 241,507.2" fill="#0000df" stroke="#000059"/>
<polygon points="275.9,510.7 279.9,509.2 276.9,506.7 272.9,508.2" fill="#0000d6" stroke="#000056"/>
<polygon points="251,510.1 255,508.1 251.9,505.4 248,507.5" fill="#0000df" stroke="#000059"/>
<polygon points="226.1,510.9 230,509 227,506.9 223,508.9" fill="#0000d6" stroke="#000056"/>
<polygon points="258,510.7 262,508.9 258.9,506.3 255,508.1" fill="#0000df" stroke="#000059"/>
<polygon points="233,511.2 237,509.3 234,507 230,509" fill="#0000d6" stroke="#000056"/>
<polygon points="265,511.5 269,509.8 265.9,507.2 262,508.9" fill="#0000d6" stroke="#000056"/>
<polygon points="240,511.5 244,509.6 241,507.2 237,509.3" fill="#0000d6" stroke="#000056"/>
<polygon points="272,512.2 275.9,510.7 272.9,508.2 269,509.8" fill="#0000d6" stroke="#000056"/>
<polygon points="247,511.9 251,510.1 248,507.5 244,509.6" fill="#0000d6" stroke="#000056"/>
<polygon points="254,512.5 258,510.7 255,508.1 251,510.1" fill="#0000d6" stroke="#000056"/>
<polygon points="229.1,513 233,511.2 230,509 226.1,510.9" fill="#0000d6" stroke="#000056"/>
<polygon points="261,513.1 265,511.5 262,508.9 258,510.7" fill="#0000d6" stroke="#000056"/>
<polygon points="236.1,513.4 240,511.5 237,509.3 233,511.2" fill="#0000d6" stroke="#000056"/>
<polygon points="268,513.8 272,512.2 269,509.8 265,511.5" fill="#0000d6" stroke="#000056"/>
<polygon points="243.1,513.8 247,511.9 244,509.6 240,511.5" fill="#0000d6" stroke="#000056"/>
<polygon points="250.1,514.3 254,512.5 251,510.1 247,511.9" fill="#0000d6" stroke="#000056"/>
<polygon points="257.1,514.8 261,513.1 258,510.7 254,512.5" fill="#0000d6" stroke="#000056"/>
<polygon points="232.1,515.2 236.1,513.4 233,511.2 229.1,513" fill="#0000d6" stroke="#000056"/>
<polygon points="264,515.5 268,513.8 265,511.5 261,513.1" fill="#0000d6" stroke="#000056"/>
<polygon points="239.1,515.6 243.1,513.8 240,511.5 236.1,513.4" fill="#0000d6" stroke="#000056"/>
<polygon points="246.1,516 250.1,514.3 247,511.9 243.1,513.8" fill="#0000d6" stroke="#000056"/>
<polygon points="253.1,516.5 257.1,514.8 254,512.5 250.1,514.3" fill="#0000d6" stroke="#000056"/>
<polygon points="260.1,517.1 264,515.5 261,513.1 257.1,514.8" fill="#0000d6" stroke="#000056"/>
<polygon points="235.1,517.3 239.1,515.6 236.1,513.4 232.1,515.2" fill="#0000d6" stroke="#000056"/>
<polygon points="242.1,517.7 246.1,516 243.1,513.8 239.1,515.6" fill="#0000d6" stroke="#000056"/>
<polygon points="249.1,518.2 253.1,516.5 250.1,514.3 246.1,516" fill="#0000d6" stroke="#000056"/>
<polygon points="256.1,518.7 260.1,517.1 257.1,514.8 253.1,516.5" fill="#0000d6" stroke="#000056"/>
<polygon points="238.2,519.4 242.1,517.7 239.1,515.6 235.1,517.3" fill="#0000cb" stroke="#000051"/>
<polygon points="245.1,519.9 249.1,518.2 246.1,516 242.1,517.7" fill="#0000cb" stroke="#000051"/>
<polygon points="252.1,520.4 256.1,518.7 253.1,516.5 249.1,518.2" fill="#0000cb" stroke="#000051"/>
<polygon points="241.2,521.5 245.1,519.9 242.1,517.7 238.2,519.4" fill="#0000cb" stroke="#000051"/>
<polygon points="248.2,522 252.1,520.4 249.1,518.2 245.1,519.9" fill="#0000cb" stroke="#000051"/>
<polygon points="244.2,523.6 248.2,522 245.1,519.9 241.2,521.5" fill="#0000cb" stroke="#000051"/>
</g>
<g stroke="#dcdcdc" stroke-width="0.8">
<line x1="418" y1="521" x2="369.6" y2="488.9"/>
<line x1="369.6" y1="488.9" x2="369.6" y2="419.4"/>
<line x1="437.8" y1="513.4" x2="389.4" y2="481.3"/>
<line x1="389.4" y1="481.3" x2="389.4" y2="411.8"/>
<line x1="457.7" y1="505.8" x2="409.3" y2="473.6"/>
<line x1="409.3" y1="473.6" x2="409.3" y2="404.2"/>
<line x1="390" y1="519.1" x2="453.5" y2="494.7"/>
<line x1="453.5" y1="494.7" x2="453.5" y2="425.2"/>
<line x1="374.9" y1="509" x2="438.4" y2="484.6"/>
<line x1="438.4" y1="484.6" x2="438.4" y2="415.2"/>
<line x1="359.8" y1="499" x2="423.2" y2="474.6"/>
<line x1="423.2" y1="474.6" x2="423.2" y2="405.2"/>
<line x1="353.7" y1="495" x2="417.2" y2="470.6"/>
<line x1="417.2" y1="470.6" x2="465.6" y2="502.7"/>
<line x1="353.7" y1="471.9" x2="417.2" y2="447.5"/>
<line x1="417.2" y1="447.5" x2="465.6" y2="479.6"/>
<line x1="353.7" y1="448.7" x2="417.2" y2="424.3"/>
<line x1="417.2" y1="424.3" x2="465.6" y2="456.4"/>
<line x1="353.7" y1="425.6" x2="417.2" y2="401.2"/>
<line x1="417.2" y1="401.2" x2="465.6" y2="433.3"/>
</g>
<g stroke="#9a9a9a" stroke-width="0.9">
<line x1="353.7" y1="495" x2="353.7" y2="425.6"/>
<line x1="353.7" y1="495" x2="402.1" y2="527.1"/>
<line x1="402.1" y1="527.1" x2="465.6" y2="502.7"/>
<line x1="353.7" y1="495" x2="352.2" y2="495"/>
<line x1="353.7" y1="471.9" x2="352.2" y2="471.9"/>
<line x1="353.7" y1="448.7" x2="352.2" y2="448.7"/>
<line x1="353.7" y1="425.6" x2="352.2" y2="425.6"/>
<line x1="390" y1="519.1" x2="388.4" y2="519.7"/>
<line x1="374.9" y1="509" x2="373.3" y2="509.6"/>
<line x1="359.8" y1="499" x2="358.1" y2="499.6"/>
<line x1="418" y1="521" x2="419.2" y2="522"/>
<line x1="437.8" y1="513.4" x2="439" y2="514.4"/>
<line x1="457.7" y1="505.8" x2="458.9" y2="506.8"/>
</g>
<text x="350.8" y="497" text-anchor="end" font-size="8.4">-500</text>
<text x="350.8" y="473.9" text-anchor="end" font-size="8.4">0</text>
<text x="350.8" y="450.7" text-anchor="end" font-size="8.4">500</text>
<text x="350.8" y="428.4" text-anchor="end" font-size="8.4">1000</text>
<text x="387.2" y="529.4" text-anchor="end" font-size="8.4">5</text>
<text x="372.1" y="519.3" text-anchor="end" font-size="8.4">10</text>
<text x="356.9" y="509.3" text-anchor="end" font-size="8.4">15</text>
<text x="420.5" y="531.6" text-anchor="start" font-size="8.4">5</text>
<text x="440.3" y="524" text-anchor="start" font-size="8.4">10</text>
<text x="460.2" y="516.4" text-anchor="start" font-size="8.4">15</text>
<text x="352.7" y="543.6" text-anchor="middle" font-size="8.4">y (px)</text>
<text x="455.1" y="545.3" text-anchor="middle" font-size="8.4">x (px)</text>
<text x="409.9" y="385.3" text-anchor="middle" font-size="8.55">Difference, original - model</text>
<text x="409.9" y="394.9" text-anchor="middle" font-size="8.55">RMSE = 0.036261, MAXDIFF = 0.061170</text>
<g stroke-width="0.5" stroke-linejoin="round">
<polygon points="416.3,450.8 420.2,449.2 417.2,448.3 413.2,446.9" fill="#00d8ff" stroke="#00414c"/>
<polygon points="412.3,453.1 416.3,450.8 413.2,446.9 409.3,446.8" fill="#00b9ff" stroke="#00374c"/>
<polygon points="419.3,449.3 423.2,449.1 420.2,449.2 416.3,450.8" fill="#00ffd6" stroke="#004c40"/>
<polygon points="408.3,452.8 412.3,453.1 409.3,446.8 405.3,450.9" fill="#00e8ff" stroke="#00464c"/>
<polygon points="415.3,455.1 419.3,449.3 416.3,450.8 412.3,453.1" fill="#00b9ff" stroke="#00374c"/>
<polygon points="422.3,453.3 426.3,451.3 423.2,449.1 419.3,449.3" fill="#00f7ff" stroke="#004a4c"/>
<polygon points="404.3,453.4 408.3,452.8 405.3,450.9 401.3,451.8" fill="#00fff7" stroke="#004c4a"/>
<polygon points="411.3,455 415.3,455.1 412.3,453.1 408.3,452.8" fill="#00e8ff" stroke="#00464c"/>
<polygon points="418.3,456.5 422.3,453.3 419.3,449.3 415.3,455.1" fill="#00c9ff" stroke="#003c4c"/>
<polygon points="425.3,456 429.3,453.8 426.3,451.3 422.3,453.3" fill="#00e8ff" stroke="#00464c"/>
<polygon points="400.4,455.1 404.3,453.4 401.3,451.8 397.4,452.9" fill="#00f7ff" stroke="#004a4c"/>
<polygon points="407.4,456.9 411.3,455 408.3,452.8 404.3,453.4" fill="#00d8ff" stroke="#00414c"/>
<polygon points="414.4,456.4 418.3,456.5 415.3,455.1 411.3,455" fill="#00f7ff" stroke="#004a4c"/>
<polygon points="421.4,458.7 425.3,456 422.3,453.3 418.3,456.5" fill="#00c9ff" stroke="#003c4c"/>
<polygon points="396.4,458.6 400.4,455.1 397.4,452.9 393.4,455" fill="#00c9ff" stroke="#003c4c"/>
<polygon points="428.4,457.2 432.3,453.7 429.3,453.8 425.3,456" fill="#00f7ff" stroke="#004a4c"/>
<polygon points="403.4,458.6 407.4,456.9 404.3,453.4 400.4,455.1" fill="#00d8ff" stroke="#00414c"/>
<polygon points="410.4,457.7 414.4,456.4 411.3,455 407.4,456.9" fill="#00f7ff" stroke="#004a4c"/>
<polygon points="417.4,459.1 421.4,458.7 418.3,456.5 414.4,456.4" fill="#00e8ff" stroke="#00464c"/>
<polygon points="392.4,462.3 396.4,458.6 393.4,455 389.4,457.3" fill="#0099ff" stroke="#002e4c"/>
<polygon points="424.4,457.2 428.4,457.2 425.3,456 421.4,458.7" fill="#00ffd6" stroke="#004c40"/>
<polygon points="399.4,462.6 403.4,458.6 400.4,455.1 396.4,458.6" fill="#0099ff" stroke="#002e4c"/>
<polygon points="431.4,457.4 435.3,456.2 432.3,453.7 428.4,457.2" fill="#00ffd6" stroke="#004c40"/>
<polygon points="406.4,460.8 410.4,457.7 407.4,456.9 403.4,458.6" fill="#00d8ff" stroke="#00414c"/>
<polygon points="413.4,461.9 417.4,459.1 414.4,456.4 410.4,457.7" fill="#00c9ff" stroke="#003c4c"/>
<polygon points="388.5,465.4 392.4,462.3 389.4,457.3 385.4,457.2" fill="#0068ff" stroke="#001f4c"/>
<polygon points="420.4,462.6 424.4,457.2 421.4,458.7 417.4,459.1" fill="#00c9ff" stroke="#003c4c"/>
<polygon points="395.5,461.3 399.4,462.6 396.4,458.6 392.4,462.3" fill="#00e8ff" stroke="#00464c"/>
<polygon points="427.4,459.3 431.4,457.4 428.4,457.2 424.4,457.2" fill="#00ffe7" stroke="#004c45"/>
<polygon points="402.5,462 406.4,460.8 403.4,458.6 399.4,462.6" fill="#00d8ff" stroke="#00414c"/>
<polygon points="434.4,460 438.4,458.8 435.3,456.2 431.4,457.4" fill="#00ffe7" stroke="#004c45"/>
<polygon points="409.5,465 413.4,461.9 410.4,457.7 406.4,460.8" fill="#0099ff" stroke="#002e4c"/>
<polygon points="384.5,462.1 388.5,465.4 385.4,457.2 381.5,458.9" fill="#00e8ff" stroke="#00464c"/>
<polygon points="416.4,466.2 420.4,462.6 417.4,459.1 413.4,461.9" fill="#0089ff" stroke="#00294c"/>
<polygon points="391.5,463 395.5,461.3 392.4,462.3 388.5,465.4" fill="#00d8ff" stroke="#00414c"/>
<polygon points="423.4,463 427.4,459.3 424.4,457.2 420.4,462.6" fill="#00e8ff" stroke="#00464c"/>
<polygon points="398.5,462.6 402.5,462 399.4,462.6 395.5,461.3" fill="#00f7ff" stroke="#004a4c"/>
<polygon points="430.4,462.2 434.4,460 431.4,457.4 427.4,459.3" fill="#00fff7" stroke="#004c4a"/>
<polygon points="405.5,466.8 409.5,465 406.4,460.8 402.5,462" fill="#0099ff" stroke="#002e4c"/>
<polygon points="380.5,462.2 384.5,462.1 381.5,458.9 377.5,462.8" fill="#00fff7" stroke="#004c4a"/>
<polygon points="437.4,464.7 441.4,460.4 438.4,458.8 434.4,460" fill="#00d8ff" stroke="#00414c"/>
<polygon points="412.5,467.4 416.4,466.2 413.4,461.9 409.5,465" fill="#0099ff" stroke="#002e4c"/>
<polygon points="387.5,463.2 391.5,463 388.5,465.4 384.5,462.1" fill="#00fff7" stroke="#004c4a"/>
<polygon points="419.5,465.6 423.4,463 420.4,462.6 416.4,466.2" fill="#00c9ff" stroke="#003c4c"/>
<polygon points="394.5,468.9 398.5,462.6 395.5,461.3 391.5,463" fill="#0078ff" stroke="#00244c"/>
<polygon points="426.5,466.4 430.4,462.2 427.4,459.3 423.4,463" fill="#00c9ff" stroke="#003c4c"/>
<polygon points="401.5,466.5 405.5,466.8 402.5,462 398.5,462.6" fill="#00c9ff" stroke="#003c4c"/>
<polygon points="376.6,464.3 380.5,462.2 377.5,462.8 373.5,462" fill="#00fff7" stroke="#004c4a"/>
<polygon points="433.5,467.7 437.4,464.7 434.4,460 430.4,462.2" fill="#00a9ff" stroke="#00334c"/>
<polygon points="408.5,467 412.5,467.4 409.5,465 405.5,466.8" fill="#00c9ff" stroke="#003c4c"/>
<polygon points="383.6,463.4 387.5,463.2 384.5,462.1 380.5,462.2" fill="#00ffd6" stroke="#004c40"/>
<polygon points="440.5,467.5 444.4,463.9 441.4,460.4 437.4,464.7" fill="#00c9ff" stroke="#003c4c"/>
<polygon points="415.5,464.6 419.5,465.6 416.4,466.2 412.5,467.4" fill="#00fff7" stroke="#004c4a"/>
<polygon points="390.6,467.8 394.5,468.9 391.5,463 387.5,463.2" fill="#00b9ff" stroke="#00374c"/>
<polygon points="422.5,466.4 426.5,466.4 423.4,463 419.5,465.6" fill="#00e8ff" stroke="#00464c"/>
<polygon points="397.6,468.3 401.5,466.5 398.5,462.6 394.5,468.9" fill="#00b9ff" stroke="#00374c"/>
<polygon points="372.6,465.4 376.6,464.3 373.5,462 369.6,464.1" fill="#00fff7" stroke="#004c4a"/>
<polygon points="429.5,468.8 433.5,467.7 430.4,462.2 426.5,466.4" fill="#00b9ff" stroke="#00374c"/>
<polygon points="404.5,471.4 408.5,467 405.5,466.8 401.5,466.5" fill="#0078ff" stroke="#00244c"/>
<polygon points="379.6,465 383.6,463.4 380.5,462.2 376.6,464.3" fill="#00ffd6" stroke="#004c40"/>
<polygon points="436.5,468.1 440.5,467.5 437.4,464.7 433.5,467.7" fill="#00d8ff" stroke="#00414c"/>
<polygon points="411.5,466.4 415.5,464.6 412.5,467.4 408.5,467" fill="#00fff7" stroke="#004c4a"/>
<polygon points="386.6,466.3 390.6,467.8 387.5,463.2 383.6,463.4" fill="#00fff7" stroke="#004c4a"/>
<polygon points="443.5,469.1 447.4,466.7 444.4,463.9 440.5,467.5" fill="#00c9ff" stroke="#003c4c"/>
<polygon points="418.5,465 422.5,466.4 419.5,465.6 415.5,464.6" fill="#00ffc6" stroke="#004c3b"/>
<polygon points="393.6,470 397.6,468.3 394.5,468.9 390.6,467.8" fill="#00b9ff" stroke="#00374c"/>
<polygon points="368.6,466.4 372.6,465.4 369.6,464.1 365.6,465.2" fill="#00ffe7" stroke="#004c45"/>
<polygon points="425.5,472.9 429.5,468.8 426.5,466.4 422.5,466.4" fill="#0078ff" stroke="#00244c"/>
<polygon points="400.6,468.3 404.5,471.4 401.5,466.5 397.6,468.3" fill="#00f7ff" stroke="#004a4c"/>
<polygon points="375.6,469.3 379.6,465 376.6,464.3 372.6,465.4" fill="#00d8ff" stroke="#00414c"/>
<polygon points="432.5,472.1 436.5,468.1 433.5,467.7 429.5,468.8" fill="#0099ff" stroke="#002e4c"/>
<polygon points="407.6,468.5 411.5,466.4 408.5,467 404.5,471.4" fill="#00f7ff" stroke="#004a4c"/>
<polygon points="382.6,467.3 386.6,466.3 383.6,463.4 379.6,465" fill="#00ffe7" stroke="#004c45"/>
<polygon points="439.5,469.6 443.5,469.1 440.5,467.5 436.5,468.1" fill="#00e8ff" stroke="#00464c"/>
<polygon points="414.6,469.1 418.5,465 415.5,464.6 411.5,466.4" fill="#00f7ff" stroke="#004a4c"/>
<polygon points="389.6,471.4 393.6,470 390.6,467.8 386.6,466.3" fill="#00b9ff" stroke="#00374c"/>
<polygon points="364.7,468.6 368.6,466.4 365.6,465.2 361.6,469.4" fill="#00fff7" stroke="#004c4a"/>
<polygon points="446.5,470.2 450.5,467.6 447.4,466.7 443.5,469.1" fill="#00e8ff" stroke="#00464c"/>
<polygon points="421.6,469.3 425.5,472.9 422.5,466.4 418.5,465" fill="#00f7ff" stroke="#004a4c"/>
<polygon points="396.6,469.7 400.6,468.3 397.6,468.3 393.6,470" fill="#00f7ff" stroke="#004a4c"/>
<polygon points="371.7,470.3 375.6,469.3 372.6,465.4 368.6,466.4" fill="#00e8ff" stroke="#00464c"/>
<polygon points="428.6,472.2 432.5,472.1 429.5,468.8 425.5,472.9" fill="#00b9ff" stroke="#00374c"/>
<polygon points="403.6,468.1 407.6,468.5 404.5,471.4 400.6,468.3" fill="#00ffd6" stroke="#004c40"/>
<polygon points="378.6,473.6 382.6,467.3 379.6,465 375.6,469.3" fill="#0099ff" stroke="#002e4c"/>
<polygon points="435.5,470 439.5,469.6 436.5,468.1 432.5,472.1" fill="#00fff7" stroke="#004c4a"/>
<polygon points="410.6,472 414.6,469.1 411.5,466.4 407.6,468.5" fill="#00d8ff" stroke="#00414c"/>
<polygon points="385.6,471.8 389.6,471.4 386.6,466.3 382.6,467.3" fill="#00d8ff" stroke="#00414c"/>
<polygon points="360.7,473 364.7,468.6 361.6,469.4 357.7,470.9" fill="#00b9ff" stroke="#00374c"/>
<polygon points="442.5,472.5 446.5,470.2 443.5,469.1 439.5,469.6" fill="#00c9ff" stroke="#003c4c"/>
<polygon points="417.6,478.5 421.6,469.3 418.5,465 414.6,469.1" fill="#0035ff" stroke="#00104c"/>
<polygon points="392.6,478.5 396.6,469.7 393.6,470 389.6,471.4" fill="#0035ff" stroke="#00104c"/>
<polygon points="367.7,470.5 371.7,470.3 368.6,466.4 364.7,468.6" fill="#00fff7" stroke="#004c4a"/>
<polygon points="449.5,471.4 453.5,471.5 450.5,467.6 446.5,470.2" fill="#00f7ff" stroke="#004a4c"/>
<polygon points="424.6,473.2 428.6,472.2 425.5,472.9 421.6,469.3" fill="#00c9ff" stroke="#003c4c"/>
<polygon points="399.6,470.3 403.6,468.1 400.6,468.3 396.6,469.7" fill="#00ffe7" stroke="#004c45"/>
<polygon points="374.7,471.9 378.6,473.6 375.6,469.3 371.7,470.3" fill="#00f7ff" stroke="#004a4c"/>
<polygon points="431.6,473.5 435.5,470 432.5,472.1 428.6,472.2" fill="#00d8ff" stroke="#00414c"/>
<polygon points="406.6,473.3 410.6,472 407.6,468.5 403.6,468.1" fill="#00d8ff" stroke="#00414c"/>
<polygon points="381.7,471.8 385.6,471.8 382.6,467.3 378.6,473.6" fill="#00fff7" stroke="#004c4a"/>
<polygon points="356.7,473.8 360.7,473 357.7,470.9 353.7,469.5" fill="#00c9ff" stroke="#003c4c"/>
<polygon points="438.6,472.2 442.5,472.5 439.5,469.6 435.5,470" fill="#00f7ff" stroke="#004a4c"/>
<polygon points="413.6,479.5 417.6,478.5 414.6,469.1 410.6,472" fill="#0046ff" stroke="#00154c"/>
<polygon points="388.7,469.2 392.6,478.5 389.6,471.4 385.6,471.8" fill="#00ffb5" stroke="#004c36"/>
<polygon points="363.7,475.2 367.7,470.5 364.7,468.6 360.7,473" fill="#00b9ff" stroke="#00374c"/>
<polygon points="445.6,472.5 449.5,471.4 446.5,470.2 442.5,472.5" fill="#00fff7" stroke="#004c4a"/>
<polygon points="420.6,469.4 424.6,473.2 421.6,469.3 417.6,478.5" fill="#00ffa4" stroke="#004c31"/>
<polygon points="395.7,477.8 399.6,470.3 396.6,469.7 392.6,478.5" fill="#0078ff" stroke="#00244c"/>
<polygon points="370.7,473.8 374.7,471.9 371.7,470.3 367.7,470.5" fill="#00e8ff" stroke="#00464c"/>
<polygon points="452.6,476.4 456.5,474.6 453.5,471.5 449.5,471.4" fill="#00a9ff" stroke="#00334c"/>
<polygon points="427.6,472.7 431.6,473.5 428.6,472.2 424.6,473.2" fill="#00fff7" stroke="#004c4a"/>
<polygon points="402.7,476.9 406.6,473.3 403.6,468.1 399.6,470.3" fill="#00a9ff" stroke="#00334c"/>
<polygon points="377.7,476 381.7,471.8 378.6,473.6 374.7,471.9" fill="#00b9ff" stroke="#00374c"/>
<polygon points="434.6,472 438.6,472.2 435.5,470 431.6,473.5" fill="#00ffd6" stroke="#004c40"/>
<polygon points="409.6,477.5 413.6,479.5 410.6,472 406.6,473.3" fill="#0099ff" stroke="#002e4c"/>
<polygon points="384.7,475.4 388.7,469.2 385.6,471.8 381.7,471.8" fill="#00d8ff" stroke="#00414c"/>
<polygon points="359.8,475.4 363.7,475.2 360.7,473 356.7,473.8" fill="#00d8ff" stroke="#00414c"/>
<polygon points="441.6,475.3 445.6,472.5 442.5,472.5 438.6,472.2" fill="#00e8ff" stroke="#00464c"/>
<polygon points="416.6,463.7 420.6,469.4 417.6,478.5 413.6,479.5" fill="#c6ff00" stroke="#3b4c00"/>
<polygon points="391.7,478.9 395.7,477.8 392.6,478.5 388.7,469.2" fill="#0089ff" stroke="#00294c"/>
<polygon points="366.7,478 370.7,473.8 367.7,470.5 363.7,475.2" fill="#00a9ff" stroke="#00334c"/>
<polygon points="448.6,476.6 452.6,476.4 449.5,471.4 445.6,472.5" fill="#00c9ff" stroke="#003c4c"/>
<polygon points="423.6,473.6 427.6,472.7 424.6,473.2 420.6,469.4" fill="#00ffe7" stroke="#004c45"/>
<polygon points="398.7,474 402.7,476.9 399.6,470.3 395.7,477.8" fill="#0023ff" stroke="#000b4c"/>
<polygon points="373.7,479.3 377.7,476 374.7,471.9 370.7,473.8" fill="#0089ff" stroke="#00294c"/>
<polygon points="455.6,476.8 459.6,476.6 456.5,474.6 452.6,476.4" fill="#00d8ff" stroke="#00414c"/>
<polygon points="430.6,476.1 434.6,472 431.6,473.5 427.6,472.7" fill="#00e8ff" stroke="#00464c"/>
<polygon points="405.7,448.5 409.6,477.5 406.6,473.3 402.7,476.9" fill="#c40000" stroke="#3b0000"/>
<polygon points="380.7,477.3 384.7,475.4 381.7,471.8 377.7,476" fill="#00c9ff" stroke="#003c4c"/>
<polygon points="437.6,476.6 441.6,475.3 438.6,472.2 434.6,472" fill="#00e8ff" stroke="#00464c"/>
<polygon points="412.7,476.8 416.6,463.7 413.6,479.5 409.6,477.5" fill="#0057ff" stroke="#001a4c"/>
<polygon points="387.7,474.9 391.7,478.9 388.7,469.2 384.7,475.4" fill="#00ffe7" stroke="#004c45"/>
<polygon points="362.8,478.6 366.7,478 363.7,475.2 359.8,475.4" fill="#00b9ff" stroke="#00374c"/>
<polygon points="444.6,474.6 448.6,476.6 445.6,472.5 441.6,475.3" fill="#00ffd6" stroke="#004c40"/>
<polygon points="419.7,478.2 423.6,473.6 420.6,469.4 416.6,463.7" fill="#0068ff" stroke="#001f4c"/>
<polygon points="394.7,474.1 398.7,474 395.7,477.8 391.7,478.9" fill="#00ffc6" stroke="#004c3b"/>
<polygon points="369.8,481.1 373.7,479.3 370.7,473.8 366.7,478" fill="#0089ff" stroke="#00294c"/>
<polygon points="451.6,479.2 455.6,476.8 452.6,476.4 448.6,476.6" fill="#00b9ff" stroke="#00374c"/>
<polygon points="426.7,475.4 430.6,476.1 427.6,472.7 423.6,473.6" fill="#00ffd6" stroke="#004c40"/>
<polygon points="401.7,463 405.7,448.5 402.7,476.9 398.7,474" fill="#00f7ff" stroke="#004a4c"/>
<polygon points="376.8,480.7 380.7,477.3 377.7,476 373.7,479.3" fill="#0099ff" stroke="#002e4c"/>
<polygon points="458.6,477.5 462.6,478.1 459.6,476.6 455.6,476.8" fill="#00f7ff" stroke="#004a4c"/>
<polygon points="433.7,475.9 437.6,476.6 434.6,472 430.6,476.1" fill="#00ffd6" stroke="#004c40"/>
<polygon points="408.7,464 412.7,476.8 409.6,477.5 405.7,448.5" fill="#0099ff" stroke="#002e4c"/>
<polygon points="383.8,478.4 387.7,474.9 384.7,475.4 380.7,477.3" fill="#00e8ff" stroke="#00464c"/>
<polygon points="440.6,477.2 444.6,474.6 441.6,475.3 437.6,476.6" fill="#00fff7" stroke="#004c4a"/>
<polygon points="415.7,476 419.7,478.2 416.6,463.7 412.7,476.8" fill="#90ff28" stroke="#2b4c0c"/>
<polygon points="390.8,485.8 394.7,474.1 391.7,478.9 387.7,474.9" fill="#0035ff" stroke="#00104c"/>
<polygon points="365.8,480.5 369.8,481.1 366.7,478 362.8,478.6" fill="#00b9ff" stroke="#00374c"/>
<polygon points="447.6,478.3 451.6,479.2 448.6,476.6 444.6,474.6" fill="#00f7ff" stroke="#004a4c"/>
<polygon points="422.7,473.7 426.7,475.4 423.6,473.6 419.7,478.2" fill="#00ff80" stroke="#004c26"/>
<polygon points="397.7,474.3 401.7,463 398.7,474 394.7,474.1" fill="#fff700" stroke="#4c4a00"/>
<polygon points="372.8,478.8 376.8,480.7 373.7,479.3 369.8,481.1" fill="#00f7ff" stroke="#004a4c"/>
<polygon points="454.6,480.5 458.6,477.5 455.6,476.8 451.6,479.2" fill="#00d8ff" stroke="#00414c"/>
<polygon points="429.7,473.7 433.7,475.9 430.6,476.1 426.7,475.4" fill="#00ff80" stroke="#004c26"/>
<polygon points="404.7,471.5 408.7,464 405.7,448.5 401.7,463" fill="#fff700" stroke="#4c4a00"/>
<polygon points="379.8,479 383.8,478.4 380.7,477.3 376.8,480.7" fill="#00f7ff" stroke="#004a4c"/>
<polygon points="461.6,481 465.6,479.8 462.6,478.1 458.6,477.5" fill="#00c9ff" stroke="#003c4c"/>
<polygon points="436.7,475.8 440.6,477.2 437.6,476.6 433.7,475.9" fill="#00ffa4" stroke="#004c31"/>
<polygon points="411.7,483.1 415.7,476 412.7,476.8 408.7,464" fill="#0035ff" stroke="#00104c"/>
<polygon points="386.8,480 390.8,485.8 387.7,474.9 383.8,478.4" fill="#00e8ff" stroke="#00464c"/>
<polygon points="443.7,479.5 447.6,478.3 444.6,474.6 440.6,477.2" fill="#00fff7" stroke="#004c4a"/>
<polygon points="418.7,484.7 422.7,473.7 419.7,478.2 415.7,476" fill="#0089ff" stroke="#00294c"/>
<polygon points="393.8,482.4 397.7,474.3 394.7,474.1 390.8,485.8" fill="#00b9ff" stroke="#00374c"/>
<polygon points="368.8,478.9 372.8,478.8 369.8,481.1 365.8,480.5" fill="#00ffe7" stroke="#004c45"/>
<polygon points="450.7,480.3 454.6,480.5 451.6,479.2 447.6,478.3" fill="#00f7ff" stroke="#004a4c"/>
<polygon points="425.7,479.5 429.7,473.7 426.7,475.4 422.7,473.7" fill="#00ffe7" stroke="#004c45"/>
<polygon points="400.8,476.7 404.7,471.5 401.7,463 397.7,474.3" fill="#6eff43" stroke="#214c14"/>
<polygon points="375.8,482.5 379.8,479 376.8,480.7 372.8,478.8" fill="#00c9ff" stroke="#003c4c"/>
<polygon points="457.7,481.1 461.6,481 458.6,477.5 454.6,480.5" fill="#00f7ff" stroke="#004a4c"/>
<polygon points="432.7,480 436.7,475.8 433.7,475.9 429.7,473.7" fill="#00ffe7" stroke="#004c45"/>
<polygon points="407.8,484.2 411.7,483.1 408.7,464 404.7,471.5" fill="#0089ff" stroke="#00294c"/>
<polygon points="382.8,484 386.8,480 383.8,478.4 379.8,479" fill="#00a9ff" stroke="#00334c"/>
<polygon points="439.7,480.6 443.7,479.5 440.6,477.2 436.7,475.8" fill="#00fff7" stroke="#004c4a"/>
<polygon points="414.8,484.9 418.7,484.7 415.7,476 411.7,483.1" fill="#00a9ff" stroke="#00334c"/>
<polygon points="389.8,480.7 393.8,482.4 390.8,485.8 386.8,480" fill="#00fff7" stroke="#004c4a"/>
<polygon points="446.7,480.8 450.7,480.3 447.6,478.3 443.7,479.5" fill="#00ffe7" stroke="#004c45"/>
<polygon points="421.8,482.3 425.7,479.5 422.7,473.7 418.7,484.7" fill="#00f7ff" stroke="#004a4c"/>
<polygon points="396.8,483 400.8,476.7 397.7,474.3 393.8,482.4" fill="#00e8ff" stroke="#00464c"/>
<polygon points="371.8,483 375.8,482.5 372.8,478.8 368.8,478.9" fill="#00e8ff" stroke="#00464c"/>
<polygon points="453.7,482 457.7,481.1 454.6,480.5 450.7,480.3" fill="#00fff7" stroke="#004c4a"/>
<polygon points="428.7,479.3 432.7,480 429.7,473.7 425.7,479.5" fill="#00ffb5" stroke="#004c36"/>
<polygon points="403.8,486.1 407.8,484.2 404.7,471.5 400.8,476.7" fill="#0057ff" stroke="#001a4c"/>
<polygon points="378.8,484.9 382.8,484 379.8,479 375.8,482.5" fill="#00b9ff" stroke="#00374c"/>
<polygon points="435.7,481 439.7,480.6 436.7,475.8 432.7,480" fill="#00ffd6" stroke="#004c40"/>
<polygon points="410.8,485.9 414.8,484.9 411.7,483.1 407.8,484.2" fill="#00b9ff" stroke="#00374c"/>
<polygon points="385.8,484.4 389.8,480.7 386.8,480 382.8,484" fill="#00d8ff" stroke="#00414c"/>
<polygon points="442.7,482.2 446.7,480.8 443.7,479.5 439.7,480.6" fill="#00ffe7" stroke="#004c45"/>
<polygon points="417.8,486.4 421.8,482.3 418.7,484.7 414.8,484.9" fill="#00b9ff" stroke="#00374c"/>
<polygon points="392.8,479.8 396.8,483 393.8,482.4 389.8,480.7" fill="#00ffa4" stroke="#004c31"/>
<polygon points="449.7,485.3 453.7,482 450.7,480.3 446.7,480.8" fill="#00d8ff" stroke="#00414c"/>
<polygon points="424.8,482 428.7,479.3 425.7,479.5 421.8,482.3" fill="#00ffd6" stroke="#004c40"/>
<polygon points="399.8,487.3 403.8,486.1 400.8,476.7 396.8,483" fill="#00a9ff" stroke="#00334c"/>
<polygon points="374.9,484.6 378.8,484.9 375.8,482.5 371.8,483" fill="#00e8ff" stroke="#00464c"/>
<polygon points="431.8,484.2 435.7,481 432.7,480 428.7,479.3" fill="#00fff7" stroke="#004c4a"/>
<polygon points="406.8,484.4 410.8,485.9 407.8,484.2 403.8,486.1" fill="#00f7ff" stroke="#004a4c"/>
<polygon points="381.9,485.7 385.8,484.4 382.8,484 378.8,484.9" fill="#00d8ff" stroke="#00414c"/>
<polygon points="438.8,482.9 442.7,482.2 439.7,480.6 435.7,481" fill="#00ffd6" stroke="#004c40"/>
<polygon points="413.8,488.6 417.8,486.4 414.8,484.9 410.8,485.9" fill="#0099ff" stroke="#002e4c"/>
<polygon points="388.9,485.4 392.8,479.8 389.8,480.7 385.8,484.4" fill="#00f7ff" stroke="#004a4c"/>
<polygon points="445.8,484.5 449.7,485.3 446.7,480.8 442.7,482.2" fill="#00ffe7" stroke="#004c45"/>
<polygon points="420.8,487.3 424.8,482 421.8,482.3 417.8,486.4" fill="#00c9ff" stroke="#003c4c"/>
<polygon points="395.9,484.4 399.8,487.3 396.8,483 392.8,479.8" fill="#00ffe7" stroke="#004c45"/>
<polygon points="427.8,484.4 431.8,484.2 428.7,479.3 424.8,482" fill="#00ffd6" stroke="#004c40"/>
<polygon points="402.8,486.5 406.8,484.4 403.8,486.1 399.8,487.3" fill="#00e8ff" stroke="#00464c"/>
<polygon points="377.9,490.9 381.9,485.7 378.8,484.9 374.9,484.6" fill="#0089ff" stroke="#00294c"/>
<polygon points="434.8,485.8 438.8,482.9 435.7,481 431.8,484.2" fill="#00fff7" stroke="#004c4a"/>
<polygon points="409.8,487.8 413.8,488.6 410.8,485.9 406.8,484.4" fill="#00d8ff" stroke="#00414c"/>
<polygon points="384.9,491.3 388.9,485.4 385.8,484.4 381.9,485.7" fill="#0089ff" stroke="#00294c"/>
<polygon points="441.8,485.4 445.8,484.5 442.7,482.2 438.8,482.9" fill="#00ffd6" stroke="#004c40"/>
<polygon points="416.8,491.2 420.8,487.3 417.8,486.4 413.8,488.6" fill="#0099ff" stroke="#002e4c"/>
<polygon points="391.9,486.7 395.9,484.4 392.8,479.8 388.9,485.4" fill="#00fff7" stroke="#004c4a"/>
<polygon points="423.8,490.6 427.8,484.4 424.8,482 420.8,487.3" fill="#00a9ff" stroke="#00334c"/>
<polygon points="398.9,488.1 402.8,486.5 399.8,487.3 395.9,484.4" fill="#00e8ff" stroke="#00464c"/>
<polygon points="430.8,486 434.8,485.8 431.8,484.2 427.8,484.4" fill="#00ffd6" stroke="#004c40"/>
<polygon points="405.9,489.2 409.8,487.8 406.8,484.4 402.8,486.5" fill="#00d8ff" stroke="#00414c"/>
<polygon points="380.9,494.2 384.9,491.3 381.9,485.7 377.9,490.9" fill="#0057ff" stroke="#001a4c"/>
<polygon points="437.8,490 441.8,485.4 438.8,482.9 434.8,485.8" fill="#00d8ff" stroke="#00414c"/>
<polygon points="412.9,490.4 416.8,491.2 413.8,488.6 409.8,487.8" fill="#00c9ff" stroke="#003c4c"/>
<polygon points="387.9,491.3 391.9,486.7 388.9,485.4 384.9,491.3" fill="#00b9ff" stroke="#00374c"/>
<polygon points="419.9,491 423.8,490.6 420.8,487.3 416.8,491.2" fill="#00c9ff" stroke="#003c4c"/>
<polygon points="394.9,491.7 398.9,488.1 395.9,484.4 391.9,486.7" fill="#00b9ff" stroke="#00374c"/>
<polygon points="426.9,490.6 430.8,486 427.8,484.4 423.8,490.6" fill="#00d8ff" stroke="#00414c"/>
<polygon points="401.9,488.2 405.9,489.2 402.8,486.5 398.9,488.1" fill="#00ffe7" stroke="#004c45"/>
<polygon points="433.8,489.3 437.8,490 434.8,485.8 430.8,486" fill="#00fff7" stroke="#004c4a"/>
<polygon points="408.9,488.6 412.9,490.4 409.8,487.8 405.9,489.2" fill="#00ffd6" stroke="#004c40"/>
<polygon points="383.9,492.7 387.9,491.3 384.9,491.3 380.9,494.2" fill="#00b9ff" stroke="#00374c"/>
<polygon points="415.9,492.7 419.9,491 416.8,491.2 412.9,490.4" fill="#00c9ff" stroke="#003c4c"/>
<polygon points="390.9,488.5 394.9,491.7 391.9,486.7 387.9,491.3" fill="#00ffc6" stroke="#004c3b"/>
<polygon points="422.9,492.4 426.9,490.6 423.8,490.6 419.9,491" fill="#00d8ff" stroke="#00414c"/>
<polygon points="397.9,490.5 401.9,488.2 398.9,488.1 394.9,491.7" fill="#00fff7" stroke="#004c4a"/>
<polygon points="429.9,489.4 433.8,489.3 430.8,486 426.9,490.6" fill="#00ffc6" stroke="#004c3b"/>
<polygon points="404.9,491.2 408.9,488.6 405.9,489.2 401.9,488.2" fill="#00fff7" stroke="#004c4a"/>
<polygon points="411.9,493.4 415.9,492.7 412.9,490.4 408.9,488.6" fill="#00d8ff" stroke="#00414c"/>
<polygon points="387,490.5 390.9,488.5 387.9,491.3 383.9,492.7" fill="#00ffd6" stroke="#004c40"/>
<polygon points="418.9,493.1 422.9,492.4 419.9,491 415.9,492.7" fill="#00e8ff" stroke="#00464c"/>
<polygon points="394,491.9 397.9,490.5 394.9,491.7 390.9,488.5" fill="#00fff7" stroke="#004c4a"/>
<polygon points="425.9,490.8 429.9,489.4 426.9,490.6 422.9,492.4" fill="#00ffc6" stroke="#004c3b"/>
<polygon points="401,495.2 404.9,491.2 401.9,488.2 397.9,490.5" fill="#00c9ff" stroke="#003c4c"/>
<polygon points="408,492.3 411.9,493.4 408.9,488.6 404.9,491.2" fill="#00ffe7" stroke="#004c45"/>
<polygon points="414.9,498.7 418.9,493.1 415.9,492.7 411.9,493.4" fill="#0089ff" stroke="#00294c"/>
<polygon points="390,493.3 394,491.9 390.9,488.5 387,490.5" fill="#00ffe7" stroke="#004c45"/>
<polygon points="421.9,494.3 425.9,490.8 422.9,492.4 418.9,493.1" fill="#00fff7" stroke="#004c4a"/>
<polygon points="397,495.9 401,495.2 397.9,490.5 394,491.9" fill="#00d8ff" stroke="#00414c"/>
<polygon points="404,496 408,492.3 404.9,491.2 401,495.2" fill="#00e8ff" stroke="#00464c"/>
<polygon points="411,497.4 414.9,498.7 411.9,493.4 408,492.3" fill="#00c9ff" stroke="#003c4c"/>
<polygon points="418,496.3 421.9,494.3 418.9,493.1 414.9,498.7" fill="#00f7ff" stroke="#004a4c"/>
<polygon points="393,494.9 397,495.9 394,491.9 390,493.3" fill="#00ffe7" stroke="#004c45"/>
<polygon points="400,497.7 404,496 401,495.2 397,495.9" fill="#00e8ff" stroke="#00464c"/>
<polygon points="407,499.1 411,497.4 408,492.3 404,496" fill="#00c9ff" stroke="#003c4c"/>
<polygon points="414,500.7 418,496.3 414.9,498.7 411,497.4" fill="#00a9ff" stroke="#00334c"/>
<polygon points="396.1,500.6 400,497.7 397,495.9 393,494.9" fill="#00b9ff" stroke="#00374c"/>
<polygon points="403,499.8 407,499.1 404,496 400,497.7" fill="#00d8ff" stroke="#00414c"/>
<polygon points="410,500.6 414,500.7 411,497.4 407,499.1" fill="#00d8ff" stroke="#00414c"/>
<polygon points="399.1,502.8 403,499.8 400,497.7 396.1,500.6" fill="#00b9ff" stroke="#00374c"/>
<polygon points="406.1,501.2 410,500.6 407,499.1 403,499.8" fill="#00e8ff" stroke="#00464c"/>
<polygon points="402.1,502.7 406.1,501.2 403,499.8 399.1,502.8" fill="#00e8ff" stroke="#00464c"/>
</g>
<rect x="477.6" y="399.4" width="6.4" height="2.3" fill="#9f0000"/>
<rect x="477.6" y="401.4" width="6.4" height="2.3" fill="#b20000"/>
<rect x="477.6" y="403.4" width="6.4" height="2.3" fill="#c40000"/>
<rect x="477.6" y="405.5" width="6.4" height="2.3" fill="#d70000"/>
<rect x="477.6" y="407.5" width="6.4" height="2.3" fill="#e90000"/>
<rect x="477.6" y="409.5" width="6.4" height="2.3" fill="#fb0000"/>
<rect x="477.6" y="411.5" width="6.4" height="2.3" fill="#ff0000"/>
<rect x="477.6" y="413.6" width="6.4" height="2.3" fill="#ff0000"/>
<rect x="477.6" y="415.6" width="6.4" height="2.3" fill="#ff0200"/>
<rect x="477.6" y="417.6" width="6.4" height="2.3" fill="#ff1100"/>
<rect x="477.6" y="419.6" width="6.4" height="2.3" fill="#ff2300"/>
<rect x="477.6" y="421.7" width="6.4" height="2.3" fill="#ff3500"/>
<rect x="477.6" y="423.7" width="6.4" height="2.3" fill="#ff4600"/>
<rect x="477.6" y="425.7" width="6.4" height="2.3" fill="#ff5700"/>
<rect x="477.6" y="427.8" width="6.4" height="2.3" fill="#ff6800"/>
<rect x="477.6" y="429.8" width="6.4" height="2.3" fill="#ff7800"/>
<rect x="477.6" y="431.8" width="6.4" height="2.3" fill="#ff8900"/>
<rect x="477.6" y="433.8" width="6.4" height="2.3" fill="#ff9900"/>
<rect x="477.6" y="435.8" width="6.4" height="2.3" fill="#ffa900"/>
<rect x="477.6" y="437.9" width="6.4" height="2.3" fill="#ffb900"/>
<rect x="477.6" y="439.9" width="6.4" height="2.3" fill="#ffc900"/>
<rect x="477.6" y="441.9" width="6.4" height="2.3" fill="#ffd800"/>
<rect x="477.6" y="443.9" width="6.4" height="2.3" fill="#ffe800"/>
<rect x="477.6" y="446" width="6.4" height="2.3" fill="#fff700"/>
<rect x="477.6" y="448" width="6.4" height="2.3" fill="#f4ff00"/>
<rect x="477.6" y="450" width="6.4" height="2.3" fill="#deff00"/>
<rect x="477.6" y="452" width="6.4" height="2.3" fill="#c6ff00"/>
<rect x="477.6" y="454.1" width="6.4" height="2.3" fill="#acff00"/>
<rect x="477.6" y="456.1" width="6.4" height="2.3" fill="#90ff28"/>
<rect x="477.6" y="458.1" width="6.4" height="2.3" fill="#6eff43"/>
<rect x="477.6" y="460.1" width="6.4" height="2.3" fill="#3dff59"/>
<rect x="477.6" y="462.2" width="6.4" height="2.3" fill="#00ff6d"/>
<rect x="477.6" y="464.2" width="6.4" height="2.3" fill="#00ff80"/>
<rect x="477.6" y="466.2" width="6.4" height="2.3" fill="#00ff92"/>
<rect x="477.6" y="468.2" width="6.4" height="2.3" fill="#00ffa4"/>
<rect x="477.6" y="470.3" width="6.4" height="2.3" fill="#00ffb5"/>
<rect x="477.6" y="472.3" width="6.4" height="2.3" fill="#00ffc6"/>
<rect x="477.6" y="474.3" width="6.4" height="2.3" fill="#00ffd6"/>
<rect x="477.6" y="476.4" width="6.4" height="2.3" fill="#00ffe7"/>
<rect x="477.6" y="478.4" width="6.4" height="2.3" fill="#00fff7"/>
<rect x="477.6" y="480.4" width="6.4" height="2.3" fill="#00f7ff"/>
<rect x="477.6" y="482.4" width="6.4" height="2.3" fill="#00e8ff"/>
<rect x="477.6" y="484.4" width="6.4" height="2.3" fill="#00d8ff"/>
<rect x="477.6" y="486.5" width="6.4" height="2.3" fill="#00c9ff"/>
<rect x="477.6" y="488.5" width="6.4" height="2.3" fill="#00b9ff"/>
<rect x="477.6" y="490.5" width="6.4" height="2.3" fill="#00a9ff"/>
<rect x="477.6" y="492.6" width="6.4" height="2.3" fill="#0099ff"/>
<rect x="477.6" y="494.6" width="6.4" height="2.3" fill="#0089ff"/>
<rect x="477.6" y="496.6" width="6.4" height="2.3" fill="#0078ff"/>
<rect x="477.6" y="498.6" width="6.4" height="2.3" fill="#0068ff"/>
<rect x="477.6" y="500.6" width="6.4" height="2.3" fill="#0057ff"/>
<rect x="477.6" y="502.7" width="6.4" height="2.3" fill="#0046ff"/>
<rect x="477.6" y="504.7" width="6.4" height="2.3" fill="#0035ff"/>
<rect x="477.6" y="506.7" width="6.4" height="2.3" fill="#0023ff"/>
<rect x="477.6" y="508.8" width="6.4" height="2.3" fill="#0011ff"/>
<rect x="477.6" y="510.8" width="6.4" height="2.3" fill="#0002ff"/>
<rect x="477.6" y="512.8" width="6.4" height="2.3" fill="#0000ff"/>
<rect x="477.6" y="514.8" width="6.4" height="2.3" fill="#0000fb"/>
<rect x="477.6" y="516.9" width="6.4" height="2.3" fill="#0000f5"/>
<rect x="477.6" y="518.9" width="6.4" height="2.3" fill="#0000ee"/>
<rect x="477.6" y="520.9" width="6.4" height="2.3" fill="#0000e7"/>
<rect x="477.6" y="522.9" width="6.4" height="2.3" fill="#0000df"/>
<rect x="477.6" y="525" width="6.4" height="2.3" fill="#0000d6"/>
<rect x="477.6" y="527" width="6.4" height="2.3" fill="#0000cb"/>
<rect x="477.6" y="399.4" width="6.4" height="129.6" fill="none" stroke="#444" stroke-width="0.4"/>
<text x="484.6" y="532.6" text-anchor="start" font-size="8.4">-200</text>
<text x="484.6" y="502.6" text-anchor="start" font-size="8.4">0</text>
<text x="484.6" y="472.6" text-anchor="start" font-size="8.4">200</text>
<text x="484.6" y="442.6" text-anchor="start" font-size="8.4">400</text>
<text x="484.6" y="412.6" text-anchor="start" font-size="8.4">600</text>
</svg>
</body></html>
